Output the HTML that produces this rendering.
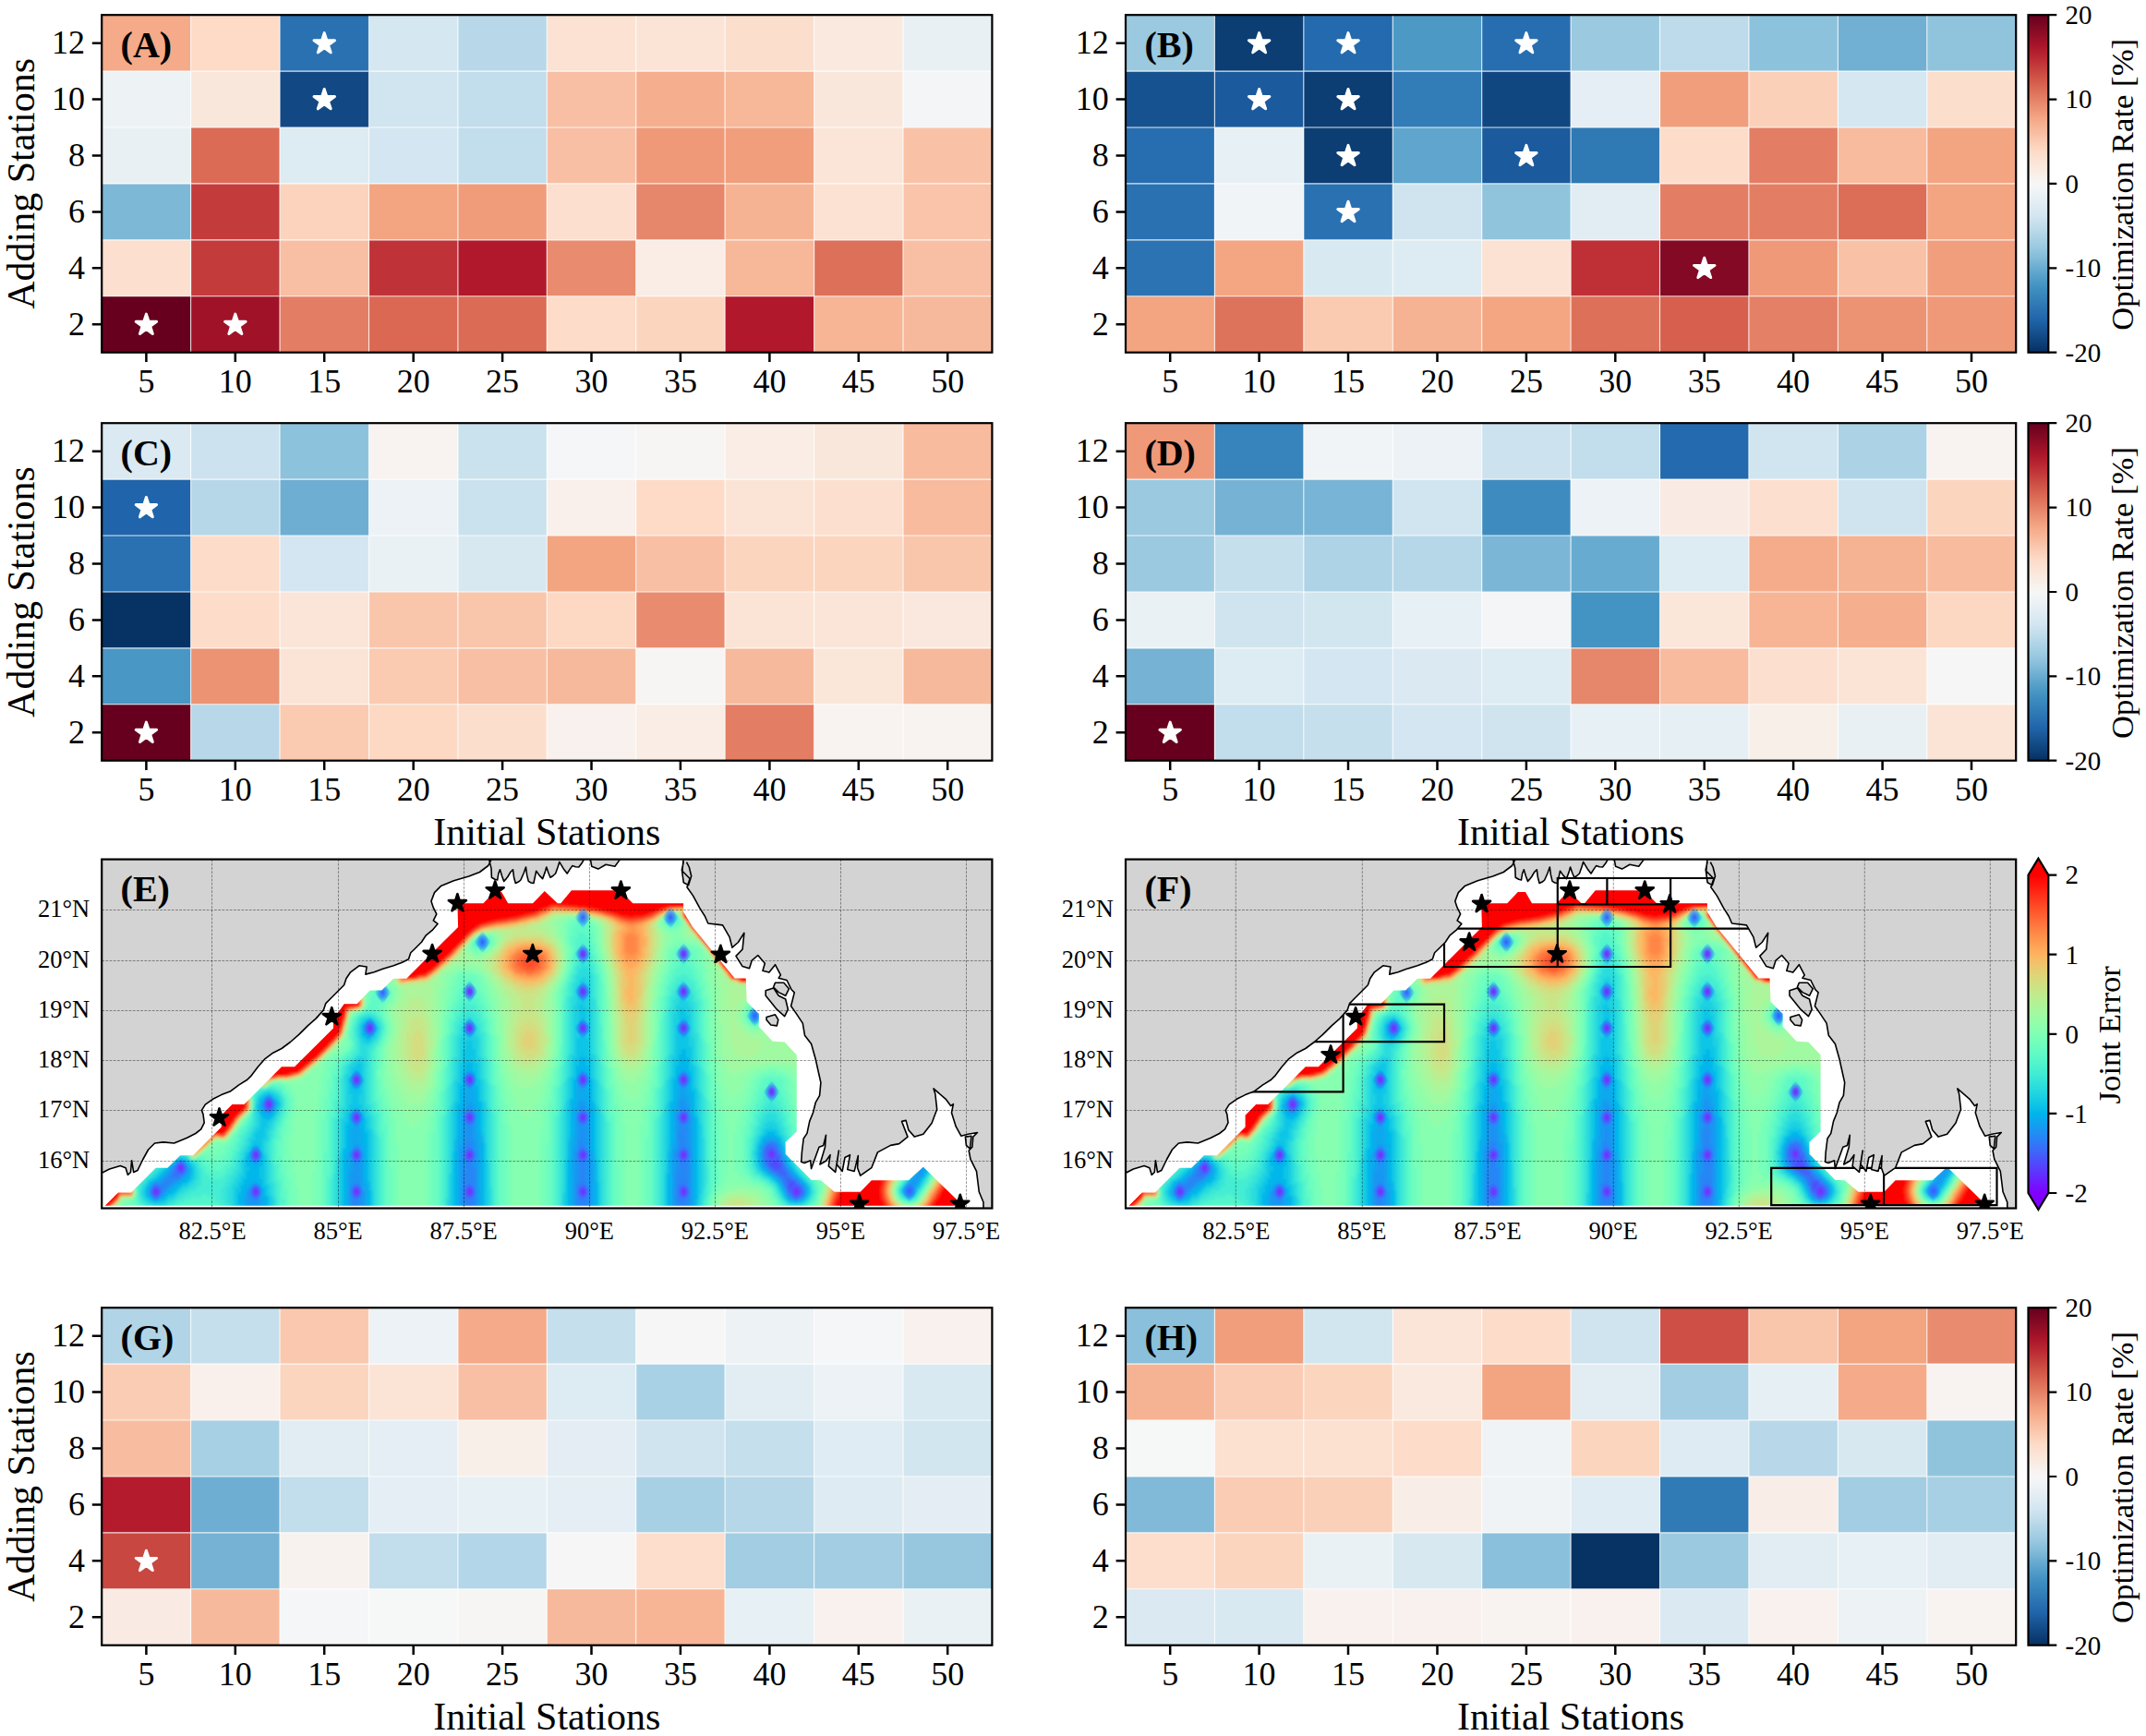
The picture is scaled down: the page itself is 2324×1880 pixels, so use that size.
<!DOCTYPE html><html><head><meta charset="utf-8"><title>Figure</title><style>html,body{margin:0;padding:0;background:#fff}svg{display:block}text{font-family:'Liberation Serif', 'DejaVu Serif', serif;fill:#000}</style></head><body>
<svg width="2324" height="1880" viewBox="0 0 2324 1880">
<rect width="2324" height="1880" fill="#fff"/>
<g shape-rendering="crispEdges">
<rect x="110.2" y="16.2" width="96.9" height="61.4" fill="#f5aa89"/>
<rect x="206.6" y="16.2" width="96.9" height="61.4" fill="#fddbc7"/>
<rect x="303" y="16.2" width="96.9" height="61.4" fill="#2a71b2"/>
<rect x="399.5" y="16.2" width="96.9" height="61.4" fill="#d5e7f1"/>
<rect x="495.9" y="16.2" width="96.9" height="61.4" fill="#b8d8e9"/>
<rect x="592.3" y="16.2" width="96.9" height="61.4" fill="#fce2d2"/>
<rect x="688.7" y="16.2" width="96.9" height="61.4" fill="#fbe4d6"/>
<rect x="785.1" y="16.2" width="96.9" height="61.4" fill="#fcdecd"/>
<rect x="881.6" y="16.2" width="96.9" height="61.4" fill="#fae9df"/>
<rect x="978" y="16.2" width="96.9" height="61.4" fill="#e9f0f4"/>
<rect x="110.2" y="77.1" width="96.9" height="61.4" fill="#edf2f5"/>
<rect x="206.6" y="77.1" width="96.9" height="61.4" fill="#fae7dc"/>
<rect x="303" y="77.1" width="96.9" height="61.4" fill="#124984"/>
<rect x="399.5" y="77.1" width="96.9" height="61.4" fill="#d1e5f0"/>
<rect x="495.9" y="77.1" width="96.9" height="61.4" fill="#c2ddec"/>
<rect x="592.3" y="77.1" width="96.9" height="61.4" fill="#f8bfa4"/>
<rect x="688.7" y="77.1" width="96.9" height="61.4" fill="#f6af8e"/>
<rect x="785.1" y="77.1" width="96.9" height="61.4" fill="#f7b799"/>
<rect x="881.6" y="77.1" width="96.9" height="61.4" fill="#fae7dc"/>
<rect x="978" y="77.1" width="96.9" height="61.4" fill="#f3f5f6"/>
<rect x="110.2" y="138" width="96.9" height="61.4" fill="#e9f0f4"/>
<rect x="206.6" y="138" width="96.9" height="61.4" fill="#db6b55"/>
<rect x="303" y="138" width="96.9" height="61.4" fill="#ddebf2"/>
<rect x="399.5" y="138" width="96.9" height="61.4" fill="#d4e6f1"/>
<rect x="495.9" y="138" width="96.9" height="61.4" fill="#c2ddec"/>
<rect x="592.3" y="138" width="96.9" height="61.4" fill="#f8bfa4"/>
<rect x="688.7" y="138" width="96.9" height="61.4" fill="#ef9979"/>
<rect x="785.1" y="138" width="96.9" height="61.4" fill="#f19e7d"/>
<rect x="881.6" y="138" width="96.9" height="61.4" fill="#fbe5d8"/>
<rect x="978" y="138" width="96.9" height="61.4" fill="#f9c2a7"/>
<rect x="110.2" y="198.9" width="96.9" height="61.4" fill="#7eb8d7"/>
<rect x="206.6" y="198.9" width="96.9" height="61.4" fill="#c43b3c"/>
<rect x="303" y="198.9" width="96.9" height="61.4" fill="#fcd3bc"/>
<rect x="399.5" y="198.9" width="96.9" height="61.4" fill="#f3a481"/>
<rect x="495.9" y="198.9" width="96.9" height="61.4" fill="#f09c7b"/>
<rect x="592.3" y="198.9" width="96.9" height="61.4" fill="#fcdfcf"/>
<rect x="688.7" y="198.9" width="96.9" height="61.4" fill="#e6866a"/>
<rect x="785.1" y="198.9" width="96.9" height="61.4" fill="#f6b394"/>
<rect x="881.6" y="198.9" width="96.9" height="61.4" fill="#fce2d2"/>
<rect x="978" y="198.9" width="96.9" height="61.4" fill="#f9c4a9"/>
<rect x="110.2" y="259.9" width="96.9" height="61.4" fill="#fcdfcf"/>
<rect x="206.6" y="259.9" width="96.9" height="61.4" fill="#c43b3c"/>
<rect x="303" y="259.9" width="96.9" height="61.4" fill="#f8bfa4"/>
<rect x="399.5" y="259.9" width="96.9" height="61.4" fill="#bf3338"/>
<rect x="495.9" y="259.9" width="96.9" height="61.4" fill="#b1182b"/>
<rect x="592.3" y="259.9" width="96.9" height="61.4" fill="#e98b6e"/>
<rect x="688.7" y="259.9" width="96.9" height="61.4" fill="#f9ede5"/>
<rect x="785.1" y="259.9" width="96.9" height="61.4" fill="#f7b799"/>
<rect x="881.6" y="259.9" width="96.9" height="61.4" fill="#dd7059"/>
<rect x="978" y="259.9" width="96.9" height="61.4" fill="#f8bfa4"/>
<rect x="110.2" y="320.8" width="96.9" height="61.4" fill="#67001f"/>
<rect x="206.6" y="320.8" width="96.9" height="61.4" fill="#9f1228"/>
<rect x="303" y="320.8" width="96.9" height="61.4" fill="#e37e64"/>
<rect x="399.5" y="320.8" width="96.9" height="61.4" fill="#da6853"/>
<rect x="495.9" y="320.8" width="96.9" height="61.4" fill="#db6b55"/>
<rect x="592.3" y="320.8" width="96.9" height="61.4" fill="#fddcc9"/>
<rect x="688.7" y="320.8" width="96.9" height="61.4" fill="#fcd5bf"/>
<rect x="785.1" y="320.8" width="96.9" height="61.4" fill="#b1182b"/>
<rect x="881.6" y="320.8" width="96.9" height="61.4" fill="#f7b596"/>
<rect x="978" y="320.8" width="96.9" height="61.4" fill="#f7b99c"/>
</g>
<path d="M206.6 16.2V381.7M303 16.2V381.7M399.5 16.2V381.7M495.9 16.2V381.7M592.3 16.2V381.7M688.7 16.2V381.7M785.1 16.2V381.7M881.6 16.2V381.7M978 16.2V381.7M110.2 77.1H1074.4M110.2 138H1074.4M110.2 198.9H1074.4M110.2 259.9H1074.4M110.2 320.8H1074.4" stroke="#fff" stroke-opacity="0.85" stroke-width="1.1" fill="none"/>
<path d="M351.2 35.6L353.9 43.7L362.5 43.7L355.5 48.8L358.2 56.9L351.2 51.9L344.3 56.9L347.0 48.8L340.0 43.7L348.6 43.7Z" fill="#fff" stroke="#fff" stroke-width="3" stroke-linejoin="round"/>
<path d="M351.2 96.5L353.9 104.6L362.5 104.6L355.5 109.7L358.2 117.8L351.2 112.8L344.3 117.8L347.0 109.7L340.0 104.6L348.6 104.6Z" fill="#fff" stroke="#fff" stroke-width="3" stroke-linejoin="round"/>
<path d="M158.4 340.1L161.1 348.3L169.6 348.3L162.7 353.3L165.3 361.5L158.4 356.4L151.5 361.5L154.1 353.3L147.2 348.3L155.8 348.3Z" fill="#fff" stroke="#fff" stroke-width="3" stroke-linejoin="round"/>
<path d="M254.8 340.1L257.5 348.3L266.1 348.3L259.1 353.3L261.8 361.5L254.8 356.4L247.9 361.5L250.5 353.3L243.6 348.3L252.2 348.3Z" fill="#fff" stroke="#fff" stroke-width="3" stroke-linejoin="round"/>
<rect x="110.2" y="16.2" width="964.2" height="365.5" fill="none" stroke="#000" stroke-width="2.2"/>
<text x="158.4" y="424.6" font-size="36" text-anchor="middle">5</text>
<text x="254.8" y="424.6" font-size="36" text-anchor="middle">10</text>
<text x="351.2" y="424.6" font-size="36" text-anchor="middle">15</text>
<text x="447.7" y="424.6" font-size="36" text-anchor="middle">20</text>
<text x="544.1" y="424.6" font-size="36" text-anchor="middle">25</text>
<text x="640.5" y="424.6" font-size="36" text-anchor="middle">30</text>
<text x="736.9" y="424.6" font-size="36" text-anchor="middle">35</text>
<text x="833.4" y="424.6" font-size="36" text-anchor="middle">40</text>
<text x="929.8" y="424.6" font-size="36" text-anchor="middle">45</text>
<text x="1026.2" y="424.6" font-size="36" text-anchor="middle">50</text>
<text x="92" y="58.3" font-size="36" text-anchor="end">12</text>
<text x="92" y="119.2" font-size="36" text-anchor="end">10</text>
<text x="92" y="180.1" font-size="36" text-anchor="end">8</text>
<text x="92" y="241" font-size="36" text-anchor="end">6</text>
<text x="92" y="301.9" font-size="36" text-anchor="end">4</text>
<text x="92" y="362.8" font-size="36" text-anchor="end">2</text>
<path d="M158.4 381.7v10.4M254.8 381.7v10.4M351.2 381.7v10.4M447.7 381.7v10.4M544.1 381.7v10.4M640.5 381.7v10.4M736.9 381.7v10.4M833.4 381.7v10.4M929.8 381.7v10.4M1026.2 381.7v10.4M110.2 46.7h-10.4M110.2 107.6h-10.4M110.2 168.5h-10.4M110.2 229.4h-10.4M110.2 290.3h-10.4M110.2 351.2h-10.4" stroke="#000" stroke-width="2.5" fill="none"/>
<text x="130.6" y="61.9" font-size="40" font-weight="bold">(A)</text>
<text transform="translate(36.9 198.9) rotate(-90)" font-size="42" text-anchor="middle">Adding Stations</text>
<g shape-rendering="crispEdges">
<rect x="110.2" y="458.2" width="96.9" height="61.4" fill="#dae9f2"/>
<rect x="206.6" y="458.2" width="96.9" height="61.4" fill="#cce2ef"/>
<rect x="303" y="458.2" width="96.9" height="61.4" fill="#8dc2dc"/>
<rect x="399.5" y="458.2" width="96.9" height="61.4" fill="#f8f3f0"/>
<rect x="495.9" y="458.2" width="96.9" height="61.4" fill="#cae1ee"/>
<rect x="592.3" y="458.2" width="96.9" height="61.4" fill="#f5f6f7"/>
<rect x="688.7" y="458.2" width="96.9" height="61.4" fill="#f7f5f4"/>
<rect x="785.1" y="458.2" width="96.9" height="61.4" fill="#f9ede5"/>
<rect x="881.6" y="458.2" width="96.9" height="61.4" fill="#fae7dc"/>
<rect x="978" y="458.2" width="96.9" height="61.4" fill="#f8bb9e"/>
<rect x="110.2" y="519.1" width="96.9" height="61.4" fill="#2065ab"/>
<rect x="206.6" y="519.1" width="96.9" height="61.4" fill="#b6d7e8"/>
<rect x="303" y="519.1" width="96.9" height="61.4" fill="#6eaed2"/>
<rect x="399.5" y="519.1" width="96.9" height="61.4" fill="#ecf2f5"/>
<rect x="495.9" y="519.1" width="96.9" height="61.4" fill="#cae1ee"/>
<rect x="592.3" y="519.1" width="96.9" height="61.4" fill="#f9f0eb"/>
<rect x="688.7" y="519.1" width="96.9" height="61.4" fill="#fddbc7"/>
<rect x="785.1" y="519.1" width="96.9" height="61.4" fill="#fbe4d6"/>
<rect x="881.6" y="519.1" width="96.9" height="61.4" fill="#fcdfcf"/>
<rect x="978" y="519.1" width="96.9" height="61.4" fill="#f8bb9e"/>
<rect x="110.2" y="580" width="96.9" height="61.4" fill="#2a71b2"/>
<rect x="206.6" y="580" width="96.9" height="61.4" fill="#fddcc9"/>
<rect x="303" y="580" width="96.9" height="61.4" fill="#d4e6f1"/>
<rect x="399.5" y="580" width="96.9" height="61.4" fill="#eaf1f5"/>
<rect x="495.9" y="580" width="96.9" height="61.4" fill="#d7e8f1"/>
<rect x="592.3" y="580" width="96.9" height="61.4" fill="#f3a481"/>
<rect x="688.7" y="580" width="96.9" height="61.4" fill="#f8bfa4"/>
<rect x="785.1" y="580" width="96.9" height="61.4" fill="#fcd5bf"/>
<rect x="881.6" y="580" width="96.9" height="61.4" fill="#fcd5bf"/>
<rect x="978" y="580" width="96.9" height="61.4" fill="#f9c6ac"/>
<rect x="110.2" y="641" width="96.9" height="61.4" fill="#063264"/>
<rect x="206.6" y="641" width="96.9" height="61.4" fill="#fddcc9"/>
<rect x="303" y="641" width="96.9" height="61.4" fill="#fbe5d8"/>
<rect x="399.5" y="641" width="96.9" height="61.4" fill="#f9c6ac"/>
<rect x="495.9" y="641" width="96.9" height="61.4" fill="#f9c6ac"/>
<rect x="592.3" y="641" width="96.9" height="61.4" fill="#fdd9c4"/>
<rect x="688.7" y="641" width="96.9" height="61.4" fill="#e98b6e"/>
<rect x="785.1" y="641" width="96.9" height="61.4" fill="#fbe4d6"/>
<rect x="881.6" y="641" width="96.9" height="61.4" fill="#fbe5d8"/>
<rect x="978" y="641" width="96.9" height="61.4" fill="#fae8de"/>
<rect x="110.2" y="701.9" width="96.9" height="61.4" fill="#4997c5"/>
<rect x="206.6" y="701.9" width="96.9" height="61.4" fill="#ec9374"/>
<rect x="303" y="701.9" width="96.9" height="61.4" fill="#fbe4d6"/>
<rect x="399.5" y="701.9" width="96.9" height="61.4" fill="#facab1"/>
<rect x="495.9" y="701.9" width="96.9" height="61.4" fill="#f8bfa4"/>
<rect x="592.3" y="701.9" width="96.9" height="61.4" fill="#f7b99c"/>
<rect x="688.7" y="701.9" width="96.9" height="61.4" fill="#f7f5f4"/>
<rect x="785.1" y="701.9" width="96.9" height="61.4" fill="#f7b99c"/>
<rect x="881.6" y="701.9" width="96.9" height="61.4" fill="#fbe6da"/>
<rect x="978" y="701.9" width="96.9" height="61.4" fill="#f7b99c"/>
<rect x="110.2" y="762.8" width="96.9" height="61.4" fill="#67001f"/>
<rect x="206.6" y="762.8" width="96.9" height="61.4" fill="#b8d8e9"/>
<rect x="303" y="762.8" width="96.9" height="61.4" fill="#facab1"/>
<rect x="399.5" y="762.8" width="96.9" height="61.4" fill="#fdd9c4"/>
<rect x="495.9" y="762.8" width="96.9" height="61.4" fill="#fcdecd"/>
<rect x="592.3" y="762.8" width="96.9" height="61.4" fill="#f8f1ed"/>
<rect x="688.7" y="762.8" width="96.9" height="61.4" fill="#f9ede5"/>
<rect x="785.1" y="762.8" width="96.9" height="61.4" fill="#e37e64"/>
<rect x="881.6" y="762.8" width="96.9" height="61.4" fill="#f8f3f0"/>
<rect x="978" y="762.8" width="96.9" height="61.4" fill="#f8f3f0"/>
</g>
<path d="M206.6 458.2V823.7M303 458.2V823.7M399.5 458.2V823.7M495.9 458.2V823.7M592.3 458.2V823.7M688.7 458.2V823.7M785.1 458.2V823.7M881.6 458.2V823.7M978 458.2V823.7M110.2 519.1H1074.4M110.2 580H1074.4M110.2 641H1074.4M110.2 701.9H1074.4M110.2 762.8H1074.4" stroke="#fff" stroke-opacity="0.85" stroke-width="1.1" fill="none"/>
<path d="M158.4 538.5L161.1 546.6L169.6 546.6L162.7 551.7L165.3 559.8L158.4 554.8L151.5 559.8L154.1 551.7L147.2 546.6L155.8 546.6Z" fill="#fff" stroke="#fff" stroke-width="3" stroke-linejoin="round"/>
<path d="M158.4 782.1L161.1 790.3L169.6 790.3L162.7 795.3L165.3 803.5L158.4 798.4L151.5 803.5L154.1 795.3L147.2 790.3L155.8 790.3Z" fill="#fff" stroke="#fff" stroke-width="3" stroke-linejoin="round"/>
<rect x="110.2" y="458.2" width="964.2" height="365.5" fill="none" stroke="#000" stroke-width="2.2"/>
<text x="158.4" y="866.6" font-size="36" text-anchor="middle">5</text>
<text x="254.8" y="866.6" font-size="36" text-anchor="middle">10</text>
<text x="351.2" y="866.6" font-size="36" text-anchor="middle">15</text>
<text x="447.7" y="866.6" font-size="36" text-anchor="middle">20</text>
<text x="544.1" y="866.6" font-size="36" text-anchor="middle">25</text>
<text x="640.5" y="866.6" font-size="36" text-anchor="middle">30</text>
<text x="736.9" y="866.6" font-size="36" text-anchor="middle">35</text>
<text x="833.4" y="866.6" font-size="36" text-anchor="middle">40</text>
<text x="929.8" y="866.6" font-size="36" text-anchor="middle">45</text>
<text x="1026.2" y="866.6" font-size="36" text-anchor="middle">50</text>
<text x="92" y="500.3" font-size="36" text-anchor="end">12</text>
<text x="92" y="561.2" font-size="36" text-anchor="end">10</text>
<text x="92" y="622.1" font-size="36" text-anchor="end">8</text>
<text x="92" y="683" font-size="36" text-anchor="end">6</text>
<text x="92" y="743.9" font-size="36" text-anchor="end">4</text>
<text x="92" y="804.8" font-size="36" text-anchor="end">2</text>
<path d="M158.4 823.7v10.4M254.8 823.7v10.4M351.2 823.7v10.4M447.7 823.7v10.4M544.1 823.7v10.4M640.5 823.7v10.4M736.9 823.7v10.4M833.4 823.7v10.4M929.8 823.7v10.4M1026.2 823.7v10.4M110.2 488.7h-10.4M110.2 549.6h-10.4M110.2 610.5h-10.4M110.2 671.4h-10.4M110.2 732.3h-10.4M110.2 793.2h-10.4" stroke="#000" stroke-width="2.5" fill="none"/>
<text x="130.6" y="503.9" font-size="40" font-weight="bold">(C)</text>
<text x="592.3" y="914.7" font-size="42" text-anchor="middle">Initial Stations</text>
<text transform="translate(36.9 641) rotate(-90)" font-size="42" text-anchor="middle">Adding Stations</text>
<g shape-rendering="crispEdges">
<rect x="110.2" y="1416.2" width="96.9" height="61.4" fill="#b1d5e7"/>
<rect x="206.6" y="1416.2" width="96.9" height="61.4" fill="#c5dfec"/>
<rect x="303" y="1416.2" width="96.9" height="61.4" fill="#fac8af"/>
<rect x="399.5" y="1416.2" width="96.9" height="61.4" fill="#ecf2f5"/>
<rect x="495.9" y="1416.2" width="96.9" height="61.4" fill="#f5aa89"/>
<rect x="592.3" y="1416.2" width="96.9" height="61.4" fill="#c5dfec"/>
<rect x="688.7" y="1416.2" width="96.9" height="61.4" fill="#f7f6f6"/>
<rect x="785.1" y="1416.2" width="96.9" height="61.4" fill="#edf2f5"/>
<rect x="881.6" y="1416.2" width="96.9" height="61.4" fill="#f5f6f7"/>
<rect x="978" y="1416.2" width="96.9" height="61.4" fill="#f8f1ed"/>
<rect x="110.2" y="1477.1" width="96.9" height="61.4" fill="#fbccb4"/>
<rect x="206.6" y="1477.1" width="96.9" height="61.4" fill="#f9f0eb"/>
<rect x="303" y="1477.1" width="96.9" height="61.4" fill="#fcd5bf"/>
<rect x="399.5" y="1477.1" width="96.9" height="61.4" fill="#fbe4d6"/>
<rect x="495.9" y="1477.1" width="96.9" height="61.4" fill="#f8bfa4"/>
<rect x="592.3" y="1477.1" width="96.9" height="61.4" fill="#ddebf2"/>
<rect x="688.7" y="1477.1" width="96.9" height="61.4" fill="#a9d1e5"/>
<rect x="785.1" y="1477.1" width="96.9" height="61.4" fill="#e1edf3"/>
<rect x="881.6" y="1477.1" width="96.9" height="61.4" fill="#ecf2f5"/>
<rect x="978" y="1477.1" width="96.9" height="61.4" fill="#d8e9f1"/>
<rect x="110.2" y="1538" width="96.9" height="61.4" fill="#f8bda1"/>
<rect x="206.6" y="1538" width="96.9" height="61.4" fill="#a7d0e4"/>
<rect x="303" y="1538" width="96.9" height="61.4" fill="#e1edf3"/>
<rect x="399.5" y="1538" width="96.9" height="61.4" fill="#e4eef4"/>
<rect x="495.9" y="1538" width="96.9" height="61.4" fill="#f9efe9"/>
<rect x="592.3" y="1538" width="96.9" height="61.4" fill="#e3edf3"/>
<rect x="688.7" y="1538" width="96.9" height="61.4" fill="#cfe4ef"/>
<rect x="785.1" y="1538" width="96.9" height="61.4" fill="#c5dfec"/>
<rect x="881.6" y="1538" width="96.9" height="61.4" fill="#e0ecf3"/>
<rect x="978" y="1538" width="96.9" height="61.4" fill="#d2e6f0"/>
<rect x="110.2" y="1599" width="96.9" height="61.4" fill="#b41c2d"/>
<rect x="206.6" y="1599" width="96.9" height="61.4" fill="#6eaed2"/>
<rect x="303" y="1599" width="96.9" height="61.4" fill="#c2ddec"/>
<rect x="399.5" y="1599" width="96.9" height="61.4" fill="#e4eef4"/>
<rect x="495.9" y="1599" width="96.9" height="61.4" fill="#e7f0f4"/>
<rect x="592.3" y="1599" width="96.9" height="61.4" fill="#e4eef4"/>
<rect x="688.7" y="1599" width="96.9" height="61.4" fill="#a7d0e4"/>
<rect x="785.1" y="1599" width="96.9" height="61.4" fill="#b6d7e8"/>
<rect x="881.6" y="1599" width="96.9" height="61.4" fill="#deebf2"/>
<rect x="978" y="1599" width="96.9" height="61.4" fill="#e3edf3"/>
<rect x="110.2" y="1659.9" width="96.9" height="61.4" fill="#c94741"/>
<rect x="206.6" y="1659.9" width="96.9" height="61.4" fill="#75b2d4"/>
<rect x="303" y="1659.9" width="96.9" height="61.4" fill="#f8f2ef"/>
<rect x="399.5" y="1659.9" width="96.9" height="61.4" fill="#c2ddec"/>
<rect x="495.9" y="1659.9" width="96.9" height="61.4" fill="#b3d6e8"/>
<rect x="592.3" y="1659.9" width="96.9" height="61.4" fill="#f7f6f6"/>
<rect x="688.7" y="1659.9" width="96.9" height="61.4" fill="#fdddcb"/>
<rect x="785.1" y="1659.9" width="96.9" height="61.4" fill="#a2cde3"/>
<rect x="881.6" y="1659.9" width="96.9" height="61.4" fill="#a2cde3"/>
<rect x="978" y="1659.9" width="96.9" height="61.4" fill="#96c7df"/>
<rect x="110.2" y="1720.8" width="96.9" height="61.4" fill="#f9ebe3"/>
<rect x="206.6" y="1720.8" width="96.9" height="61.4" fill="#f7b99c"/>
<rect x="303" y="1720.8" width="96.9" height="61.4" fill="#f5f6f7"/>
<rect x="399.5" y="1720.8" width="96.9" height="61.4" fill="#f6f7f7"/>
<rect x="495.9" y="1720.8" width="96.9" height="61.4" fill="#f7f5f4"/>
<rect x="592.3" y="1720.8" width="96.9" height="61.4" fill="#f7b99c"/>
<rect x="688.7" y="1720.8" width="96.9" height="61.4" fill="#f7b596"/>
<rect x="785.1" y="1720.8" width="96.9" height="61.4" fill="#e7f0f4"/>
<rect x="881.6" y="1720.8" width="96.9" height="61.4" fill="#f8f1ed"/>
<rect x="978" y="1720.8" width="96.9" height="61.4" fill="#eaf1f5"/>
</g>
<path d="M206.6 1416.2V1781.7M303 1416.2V1781.7M399.5 1416.2V1781.7M495.9 1416.2V1781.7M592.3 1416.2V1781.7M688.7 1416.2V1781.7M785.1 1416.2V1781.7M881.6 1416.2V1781.7M978 1416.2V1781.7M110.2 1477.1H1074.4M110.2 1538H1074.4M110.2 1599H1074.4M110.2 1659.9H1074.4M110.2 1720.8H1074.4" stroke="#fff" stroke-opacity="0.85" stroke-width="1.1" fill="none"/>
<path d="M158.4 1679.2L161.1 1687.4L169.6 1687.4L162.7 1692.4L165.3 1700.6L158.4 1695.5L151.5 1700.6L154.1 1692.4L147.2 1687.4L155.8 1687.4Z" fill="#fff" stroke="#fff" stroke-width="3" stroke-linejoin="round"/>
<rect x="110.2" y="1416.2" width="964.2" height="365.5" fill="none" stroke="#000" stroke-width="2.2"/>
<text x="158.4" y="1824.6" font-size="36" text-anchor="middle">5</text>
<text x="254.8" y="1824.6" font-size="36" text-anchor="middle">10</text>
<text x="351.2" y="1824.6" font-size="36" text-anchor="middle">15</text>
<text x="447.7" y="1824.6" font-size="36" text-anchor="middle">20</text>
<text x="544.1" y="1824.6" font-size="36" text-anchor="middle">25</text>
<text x="640.5" y="1824.6" font-size="36" text-anchor="middle">30</text>
<text x="736.9" y="1824.6" font-size="36" text-anchor="middle">35</text>
<text x="833.4" y="1824.6" font-size="36" text-anchor="middle">40</text>
<text x="929.8" y="1824.6" font-size="36" text-anchor="middle">45</text>
<text x="1026.2" y="1824.6" font-size="36" text-anchor="middle">50</text>
<text x="92" y="1458.3" font-size="36" text-anchor="end">12</text>
<text x="92" y="1519.2" font-size="36" text-anchor="end">10</text>
<text x="92" y="1580.1" font-size="36" text-anchor="end">8</text>
<text x="92" y="1641" font-size="36" text-anchor="end">6</text>
<text x="92" y="1701.9" font-size="36" text-anchor="end">4</text>
<text x="92" y="1762.8" font-size="36" text-anchor="end">2</text>
<path d="M158.4 1781.7v10.4M254.8 1781.7v10.4M351.2 1781.7v10.4M447.7 1781.7v10.4M544.1 1781.7v10.4M640.5 1781.7v10.4M736.9 1781.7v10.4M833.4 1781.7v10.4M929.8 1781.7v10.4M1026.2 1781.7v10.4M110.2 1446.7h-10.4M110.2 1507.6h-10.4M110.2 1568.5h-10.4M110.2 1629.4h-10.4M110.2 1690.3h-10.4M110.2 1751.2h-10.4" stroke="#000" stroke-width="2.5" fill="none"/>
<text x="130.6" y="1461.9" font-size="40" font-weight="bold">(G)</text>
<text x="592.3" y="1872.7" font-size="42" text-anchor="middle">Initial Stations</text>
<text transform="translate(36.9 1599) rotate(-90)" font-size="42" text-anchor="middle">Adding Stations</text>
<g shape-rendering="crispEdges">
<rect x="1219" y="16.2" width="96.9" height="61.4" fill="#9bc9e0"/>
<rect x="1315.4" y="16.2" width="96.9" height="61.4" fill="#0c3d73"/>
<rect x="1411.8" y="16.2" width="96.9" height="61.4" fill="#246aae"/>
<rect x="1508.3" y="16.2" width="96.9" height="61.4" fill="#4c99c6"/>
<rect x="1604.7" y="16.2" width="96.9" height="61.4" fill="#276eb0"/>
<rect x="1701.1" y="16.2" width="96.9" height="61.4" fill="#9bc9e0"/>
<rect x="1797.5" y="16.2" width="96.9" height="61.4" fill="#bddbea"/>
<rect x="1893.9" y="16.2" width="96.9" height="61.4" fill="#8dc2dc"/>
<rect x="1990.4" y="16.2" width="96.9" height="61.4" fill="#71b0d3"/>
<rect x="2086.8" y="16.2" width="96.9" height="61.4" fill="#90c4dd"/>
<rect x="1219" y="77.1" width="96.9" height="61.4" fill="#175290"/>
<rect x="1315.4" y="77.1" width="96.9" height="61.4" fill="#1b5a9c"/>
<rect x="1411.8" y="77.1" width="96.9" height="61.4" fill="#0c3d73"/>
<rect x="1508.3" y="77.1" width="96.9" height="61.4" fill="#327cb7"/>
<rect x="1604.7" y="77.1" width="96.9" height="61.4" fill="#114781"/>
<rect x="1701.1" y="77.1" width="96.9" height="61.4" fill="#e4eef4"/>
<rect x="1797.5" y="77.1" width="96.9" height="61.4" fill="#f19e7d"/>
<rect x="1893.9" y="77.1" width="96.9" height="61.4" fill="#fbd0b9"/>
<rect x="1990.4" y="77.1" width="96.9" height="61.4" fill="#d5e7f1"/>
<rect x="2086.8" y="77.1" width="96.9" height="61.4" fill="#fcdecd"/>
<rect x="1219" y="138" width="96.9" height="61.4" fill="#276eb0"/>
<rect x="1315.4" y="138" width="96.9" height="61.4" fill="#e7f0f4"/>
<rect x="1411.8" y="138" width="96.9" height="61.4" fill="#0c3d73"/>
<rect x="1508.3" y="138" width="96.9" height="61.4" fill="#5fa5cd"/>
<rect x="1604.7" y="138" width="96.9" height="61.4" fill="#1b5a9c"/>
<rect x="1701.1" y="138" width="96.9" height="61.4" fill="#2f79b5"/>
<rect x="1797.5" y="138" width="96.9" height="61.4" fill="#fddcc9"/>
<rect x="1893.9" y="138" width="96.9" height="61.4" fill="#e37e64"/>
<rect x="1990.4" y="138" width="96.9" height="61.4" fill="#f8bb9e"/>
<rect x="2086.8" y="138" width="96.9" height="61.4" fill="#f3a481"/>
<rect x="1219" y="198.9" width="96.9" height="61.4" fill="#2a71b2"/>
<rect x="1315.4" y="198.9" width="96.9" height="61.4" fill="#f0f4f6"/>
<rect x="1411.8" y="198.9" width="96.9" height="61.4" fill="#2a71b2"/>
<rect x="1508.3" y="198.9" width="96.9" height="61.4" fill="#cfe4ef"/>
<rect x="1604.7" y="198.9" width="96.9" height="61.4" fill="#90c4dd"/>
<rect x="1701.1" y="198.9" width="96.9" height="61.4" fill="#e1edf3"/>
<rect x="1797.5" y="198.9" width="96.9" height="61.4" fill="#e37e64"/>
<rect x="1893.9" y="198.9" width="96.9" height="61.4" fill="#e37e64"/>
<rect x="1990.4" y="198.9" width="96.9" height="61.4" fill="#dc6e57"/>
<rect x="2086.8" y="198.9" width="96.9" height="61.4" fill="#f3a481"/>
<rect x="1219" y="259.9" width="96.9" height="61.4" fill="#2b73b3"/>
<rect x="1315.4" y="259.9" width="96.9" height="61.4" fill="#f4a683"/>
<rect x="1411.8" y="259.9" width="96.9" height="61.4" fill="#d8e9f1"/>
<rect x="1508.3" y="259.9" width="96.9" height="61.4" fill="#ddebf2"/>
<rect x="1604.7" y="259.9" width="96.9" height="61.4" fill="#fce2d2"/>
<rect x="1701.1" y="259.9" width="96.9" height="61.4" fill="#be3036"/>
<rect x="1797.5" y="259.9" width="96.9" height="61.4" fill="#840924"/>
<rect x="1893.9" y="259.9" width="96.9" height="61.4" fill="#ef9979"/>
<rect x="1990.4" y="259.9" width="96.9" height="61.4" fill="#f9c2a7"/>
<rect x="2086.8" y="259.9" width="96.9" height="61.4" fill="#f19e7d"/>
<rect x="1219" y="320.8" width="96.9" height="61.4" fill="#f3a481"/>
<rect x="1315.4" y="320.8" width="96.9" height="61.4" fill="#de735c"/>
<rect x="1411.8" y="320.8" width="96.9" height="61.4" fill="#facab1"/>
<rect x="1508.3" y="320.8" width="96.9" height="61.4" fill="#f6b394"/>
<rect x="1604.7" y="320.8" width="96.9" height="61.4" fill="#f4a683"/>
<rect x="1701.1" y="320.8" width="96.9" height="61.4" fill="#dd7059"/>
<rect x="1797.5" y="320.8" width="96.9" height="61.4" fill="#d6604d"/>
<rect x="1893.9" y="320.8" width="96.9" height="61.4" fill="#e48066"/>
<rect x="1990.4" y="320.8" width="96.9" height="61.4" fill="#ec9374"/>
<rect x="2086.8" y="320.8" width="96.9" height="61.4" fill="#ef9979"/>
</g>
<path d="M1315.4 16.2V381.7M1411.8 16.2V381.7M1508.3 16.2V381.7M1604.7 16.2V381.7M1701.1 16.2V381.7M1797.5 16.2V381.7M1893.9 16.2V381.7M1990.4 16.2V381.7M2086.8 16.2V381.7M1219 77.1H2183.2M1219 138H2183.2M1219 198.9H2183.2M1219 259.9H2183.2M1219 320.8H2183.2" stroke="#fff" stroke-opacity="0.85" stroke-width="1.1" fill="none"/>
<path d="M1363.6 35.6L1366.3 43.7L1374.9 43.7L1367.9 48.8L1370.6 56.9L1363.6 51.9L1356.7 56.9L1359.3 48.8L1352.4 43.7L1361.0 43.7Z" fill="#fff" stroke="#fff" stroke-width="3" stroke-linejoin="round"/>
<path d="M1460.0 35.6L1462.7 43.7L1471.3 43.7L1464.3 48.8L1467.0 56.9L1460.0 51.9L1453.1 56.9L1455.8 48.8L1448.8 43.7L1457.4 43.7Z" fill="#fff" stroke="#fff" stroke-width="3" stroke-linejoin="round"/>
<path d="M1652.9 35.6L1655.5 43.7L1664.1 43.7L1657.2 48.8L1659.8 56.9L1652.9 51.9L1646.0 56.9L1648.6 48.8L1641.7 43.7L1650.2 43.7Z" fill="#fff" stroke="#fff" stroke-width="3" stroke-linejoin="round"/>
<path d="M1363.6 96.5L1366.3 104.6L1374.9 104.6L1367.9 109.7L1370.6 117.8L1363.6 112.8L1356.7 117.8L1359.3 109.7L1352.4 104.6L1361.0 104.6Z" fill="#fff" stroke="#fff" stroke-width="3" stroke-linejoin="round"/>
<path d="M1460.0 96.5L1462.7 104.6L1471.3 104.6L1464.3 109.7L1467.0 117.8L1460.0 112.8L1453.1 117.8L1455.8 109.7L1448.8 104.6L1457.4 104.6Z" fill="#fff" stroke="#fff" stroke-width="3" stroke-linejoin="round"/>
<path d="M1460.0 157.4L1462.7 165.5L1471.3 165.5L1464.3 170.6L1467.0 178.7L1460.0 173.7L1453.1 178.7L1455.8 170.6L1448.8 165.5L1457.4 165.5Z" fill="#fff" stroke="#fff" stroke-width="3" stroke-linejoin="round"/>
<path d="M1652.9 157.4L1655.5 165.5L1664.1 165.5L1657.2 170.6L1659.8 178.7L1652.9 173.7L1646.0 178.7L1648.6 170.6L1641.7 165.5L1650.2 165.5Z" fill="#fff" stroke="#fff" stroke-width="3" stroke-linejoin="round"/>
<path d="M1460.0 218.3L1462.7 226.5L1471.3 226.5L1464.3 231.5L1467.0 239.7L1460.0 234.6L1453.1 239.7L1455.8 231.5L1448.8 226.5L1457.4 226.5Z" fill="#fff" stroke="#fff" stroke-width="3" stroke-linejoin="round"/>
<path d="M1845.7 279.2L1848.4 287.4L1857.0 287.4L1850.0 292.4L1852.7 300.6L1845.7 295.5L1838.8 300.6L1841.4 292.4L1834.5 287.4L1843.1 287.4Z" fill="#fff" stroke="#fff" stroke-width="3" stroke-linejoin="round"/>
<rect x="1219" y="16.2" width="964.2" height="365.5" fill="none" stroke="#000" stroke-width="2.2"/>
<text x="1267.2" y="424.6" font-size="36" text-anchor="middle">5</text>
<text x="1363.6" y="424.6" font-size="36" text-anchor="middle">10</text>
<text x="1460" y="424.6" font-size="36" text-anchor="middle">15</text>
<text x="1556.5" y="424.6" font-size="36" text-anchor="middle">20</text>
<text x="1652.9" y="424.6" font-size="36" text-anchor="middle">25</text>
<text x="1749.3" y="424.6" font-size="36" text-anchor="middle">30</text>
<text x="1845.7" y="424.6" font-size="36" text-anchor="middle">35</text>
<text x="1942.1" y="424.6" font-size="36" text-anchor="middle">40</text>
<text x="2038.6" y="424.6" font-size="36" text-anchor="middle">45</text>
<text x="2135" y="424.6" font-size="36" text-anchor="middle">50</text>
<text x="1200.8" y="58.3" font-size="36" text-anchor="end">12</text>
<text x="1200.8" y="119.2" font-size="36" text-anchor="end">10</text>
<text x="1200.8" y="180.1" font-size="36" text-anchor="end">8</text>
<text x="1200.8" y="241" font-size="36" text-anchor="end">6</text>
<text x="1200.8" y="301.9" font-size="36" text-anchor="end">4</text>
<text x="1200.8" y="362.8" font-size="36" text-anchor="end">2</text>
<path d="M1267.2 381.7v10.4M1363.6 381.7v10.4M1460 381.7v10.4M1556.5 381.7v10.4M1652.9 381.7v10.4M1749.3 381.7v10.4M1845.7 381.7v10.4M1942.1 381.7v10.4M2038.6 381.7v10.4M2135 381.7v10.4M1219 46.7h-10.4M1219 107.6h-10.4M1219 168.5h-10.4M1219 229.4h-10.4M1219 290.3h-10.4M1219 351.2h-10.4" stroke="#000" stroke-width="2.5" fill="none"/>
<text x="1239.4" y="61.9" font-size="40" font-weight="bold">(B)</text>
<linearGradient id="cbB" x1="0" y1="0" x2="0" y2="1"><stop offset="0.0000" stop-color="#67001f"/><stop offset="0.0312" stop-color="#7c0722"/><stop offset="0.0625" stop-color="#930e26"/><stop offset="0.0938" stop-color="#ab162a"/><stop offset="0.1250" stop-color="#ba2832"/><stop offset="0.1562" stop-color="#c53e3d"/><stop offset="0.1875" stop-color="#d05548"/><stop offset="0.2188" stop-color="#db6b55"/><stop offset="0.2500" stop-color="#e48066"/><stop offset="0.2812" stop-color="#ee9677"/><stop offset="0.3125" stop-color="#f5aa89"/><stop offset="0.3438" stop-color="#f8bb9e"/><stop offset="0.3750" stop-color="#fbccb4"/><stop offset="0.4062" stop-color="#fddcc9"/><stop offset="0.4375" stop-color="#fbe5d8"/><stop offset="0.4688" stop-color="#f9eee7"/><stop offset="0.5000" stop-color="#f7f6f6"/><stop offset="0.5312" stop-color="#ecf2f5"/><stop offset="0.5625" stop-color="#e0ecf3"/><stop offset="0.5938" stop-color="#d4e6f1"/><stop offset="0.6250" stop-color="#c2ddec"/><stop offset="0.6562" stop-color="#aed3e6"/><stop offset="0.6875" stop-color="#9bc9e0"/><stop offset="0.7188" stop-color="#84bcd9"/><stop offset="0.7500" stop-color="#6bacd1"/><stop offset="0.7812" stop-color="#529dc8"/><stop offset="0.8125" stop-color="#3f8ec0"/><stop offset="0.8438" stop-color="#3480b9"/><stop offset="0.8750" stop-color="#2a71b2"/><stop offset="0.9062" stop-color="#1f63a8"/><stop offset="0.9375" stop-color="#175290"/><stop offset="0.9688" stop-color="#0e4179"/><stop offset="1.0000" stop-color="#053061"/></linearGradient>
<rect x="2196.5" y="16.2" width="21.8" height="365.5" fill="url(#cbB)" stroke="#000" stroke-width="2.2"/>
<text x="2236.6" y="26" font-size="29">20</text>
<text x="2236.6" y="117.4" font-size="29">10</text>
<text x="2236.6" y="208.8" font-size="29">0</text>
<text x="2236.6" y="300.1" font-size="29">-10</text>
<text x="2236.6" y="391.5" font-size="29">-20</text>
<path d="M2218.3 16.2h9M2218.3 107.6h9M2218.3 198.9h9M2218.3 290.3h9M2218.3 381.7h9" stroke="#000" stroke-width="2.2" fill="none"/>
<text transform="translate(2310.3 199.9) rotate(-90)" font-size="34.7" text-anchor="middle">Optimization Rate [%]</text>
<g shape-rendering="crispEdges">
<rect x="1219" y="458.2" width="96.9" height="61.4" fill="#ef9979"/>
<rect x="1315.4" y="458.2" width="96.9" height="61.4" fill="#3783bb"/>
<rect x="1411.8" y="458.2" width="96.9" height="61.4" fill="#f0f4f6"/>
<rect x="1508.3" y="458.2" width="96.9" height="61.4" fill="#ecf2f5"/>
<rect x="1604.7" y="458.2" width="96.9" height="61.4" fill="#cce2ef"/>
<rect x="1701.1" y="458.2" width="96.9" height="61.4" fill="#c2ddec"/>
<rect x="1797.5" y="458.2" width="96.9" height="61.4" fill="#246aae"/>
<rect x="1893.9" y="458.2" width="96.9" height="61.4" fill="#d1e5f0"/>
<rect x="1990.4" y="458.2" width="96.9" height="61.4" fill="#acd2e5"/>
<rect x="2086.8" y="458.2" width="96.9" height="61.4" fill="#f8f3f0"/>
<rect x="1219" y="519.1" width="96.9" height="61.4" fill="#9bc9e0"/>
<rect x="1315.4" y="519.1" width="96.9" height="61.4" fill="#75b2d4"/>
<rect x="1411.8" y="519.1" width="96.9" height="61.4" fill="#78b4d5"/>
<rect x="1508.3" y="519.1" width="96.9" height="61.4" fill="#d1e5f0"/>
<rect x="1604.7" y="519.1" width="96.9" height="61.4" fill="#3e8cbf"/>
<rect x="1701.1" y="519.1" width="96.9" height="61.4" fill="#ecf2f5"/>
<rect x="1797.5" y="519.1" width="96.9" height="61.4" fill="#f9ebe3"/>
<rect x="1893.9" y="519.1" width="96.9" height="61.4" fill="#fcdfcf"/>
<rect x="1990.4" y="519.1" width="96.9" height="61.4" fill="#cfe4ef"/>
<rect x="2086.8" y="519.1" width="96.9" height="61.4" fill="#fcd5bf"/>
<rect x="1219" y="580" width="96.9" height="61.4" fill="#9bc9e0"/>
<rect x="1315.4" y="580" width="96.9" height="61.4" fill="#c5dfec"/>
<rect x="1411.8" y="580" width="96.9" height="61.4" fill="#aed3e6"/>
<rect x="1508.3" y="580" width="96.9" height="61.4" fill="#b6d7e8"/>
<rect x="1604.7" y="580" width="96.9" height="61.4" fill="#7bb6d6"/>
<rect x="1701.1" y="580" width="96.9" height="61.4" fill="#68abd0"/>
<rect x="1797.5" y="580" width="96.9" height="61.4" fill="#ddebf2"/>
<rect x="1893.9" y="580" width="96.9" height="61.4" fill="#f5ac8b"/>
<rect x="1990.4" y="580" width="96.9" height="61.4" fill="#f6b394"/>
<rect x="2086.8" y="580" width="96.9" height="61.4" fill="#f8bb9e"/>
<rect x="1219" y="641" width="96.9" height="61.4" fill="#eaf1f5"/>
<rect x="1315.4" y="641" width="96.9" height="61.4" fill="#cfe4ef"/>
<rect x="1411.8" y="641" width="96.9" height="61.4" fill="#d2e6f0"/>
<rect x="1508.3" y="641" width="96.9" height="61.4" fill="#e7f0f4"/>
<rect x="1604.7" y="641" width="96.9" height="61.4" fill="#f3f5f6"/>
<rect x="1701.1" y="641" width="96.9" height="61.4" fill="#4393c3"/>
<rect x="1797.5" y="641" width="96.9" height="61.4" fill="#fbe6da"/>
<rect x="1893.9" y="641" width="96.9" height="61.4" fill="#f7b596"/>
<rect x="1990.4" y="641" width="96.9" height="61.4" fill="#f6af8e"/>
<rect x="2086.8" y="641" width="96.9" height="61.4" fill="#fcd7c2"/>
<rect x="1219" y="701.9" width="96.9" height="61.4" fill="#75b2d4"/>
<rect x="1315.4" y="701.9" width="96.9" height="61.4" fill="#ddebf2"/>
<rect x="1411.8" y="701.9" width="96.9" height="61.4" fill="#d4e6f1"/>
<rect x="1508.3" y="701.9" width="96.9" height="61.4" fill="#dae9f2"/>
<rect x="1604.7" y="701.9" width="96.9" height="61.4" fill="#ddebf2"/>
<rect x="1701.1" y="701.9" width="96.9" height="61.4" fill="#e6866a"/>
<rect x="1797.5" y="701.9" width="96.9" height="61.4" fill="#f8bb9e"/>
<rect x="1893.9" y="701.9" width="96.9" height="61.4" fill="#fcdfcf"/>
<rect x="1990.4" y="701.9" width="96.9" height="61.4" fill="#fbe4d6"/>
<rect x="2086.8" y="701.9" width="96.9" height="61.4" fill="#f7f6f6"/>
<rect x="1219" y="762.8" width="96.9" height="61.4" fill="#67001f"/>
<rect x="1315.4" y="762.8" width="96.9" height="61.4" fill="#c2ddec"/>
<rect x="1411.8" y="762.8" width="96.9" height="61.4" fill="#c5dfec"/>
<rect x="1508.3" y="762.8" width="96.9" height="61.4" fill="#d4e6f1"/>
<rect x="1604.7" y="762.8" width="96.9" height="61.4" fill="#cfe4ef"/>
<rect x="1701.1" y="762.8" width="96.9" height="61.4" fill="#e7f0f4"/>
<rect x="1797.5" y="762.8" width="96.9" height="61.4" fill="#e6eff4"/>
<rect x="1893.9" y="762.8" width="96.9" height="61.4" fill="#f9efe9"/>
<rect x="1990.4" y="762.8" width="96.9" height="61.4" fill="#e9f0f4"/>
<rect x="2086.8" y="762.8" width="96.9" height="61.4" fill="#fbe4d6"/>
</g>
<path d="M1315.4 458.2V823.7M1411.8 458.2V823.7M1508.3 458.2V823.7M1604.7 458.2V823.7M1701.1 458.2V823.7M1797.5 458.2V823.7M1893.9 458.2V823.7M1990.4 458.2V823.7M2086.8 458.2V823.7M1219 519.1H2183.2M1219 580H2183.2M1219 641H2183.2M1219 701.9H2183.2M1219 762.8H2183.2" stroke="#fff" stroke-opacity="0.85" stroke-width="1.1" fill="none"/>
<path d="M1267.2 782.1L1269.9 790.3L1278.4 790.3L1271.5 795.3L1274.1 803.5L1267.2 798.4L1260.3 803.5L1262.9 795.3L1256.0 790.3L1264.6 790.3Z" fill="#fff" stroke="#fff" stroke-width="3" stroke-linejoin="round"/>
<rect x="1219" y="458.2" width="964.2" height="365.5" fill="none" stroke="#000" stroke-width="2.2"/>
<text x="1267.2" y="866.6" font-size="36" text-anchor="middle">5</text>
<text x="1363.6" y="866.6" font-size="36" text-anchor="middle">10</text>
<text x="1460" y="866.6" font-size="36" text-anchor="middle">15</text>
<text x="1556.5" y="866.6" font-size="36" text-anchor="middle">20</text>
<text x="1652.9" y="866.6" font-size="36" text-anchor="middle">25</text>
<text x="1749.3" y="866.6" font-size="36" text-anchor="middle">30</text>
<text x="1845.7" y="866.6" font-size="36" text-anchor="middle">35</text>
<text x="1942.1" y="866.6" font-size="36" text-anchor="middle">40</text>
<text x="2038.6" y="866.6" font-size="36" text-anchor="middle">45</text>
<text x="2135" y="866.6" font-size="36" text-anchor="middle">50</text>
<text x="1200.8" y="500.3" font-size="36" text-anchor="end">12</text>
<text x="1200.8" y="561.2" font-size="36" text-anchor="end">10</text>
<text x="1200.8" y="622.1" font-size="36" text-anchor="end">8</text>
<text x="1200.8" y="683" font-size="36" text-anchor="end">6</text>
<text x="1200.8" y="743.9" font-size="36" text-anchor="end">4</text>
<text x="1200.8" y="804.8" font-size="36" text-anchor="end">2</text>
<path d="M1267.2 823.7v10.4M1363.6 823.7v10.4M1460 823.7v10.4M1556.5 823.7v10.4M1652.9 823.7v10.4M1749.3 823.7v10.4M1845.7 823.7v10.4M1942.1 823.7v10.4M2038.6 823.7v10.4M2135 823.7v10.4M1219 488.7h-10.4M1219 549.6h-10.4M1219 610.5h-10.4M1219 671.4h-10.4M1219 732.3h-10.4M1219 793.2h-10.4" stroke="#000" stroke-width="2.5" fill="none"/>
<text x="1239.4" y="503.9" font-size="40" font-weight="bold">(D)</text>
<text x="1701.1" y="914.7" font-size="42" text-anchor="middle">Initial Stations</text>
<linearGradient id="cbD" x1="0" y1="0" x2="0" y2="1"><stop offset="0.0000" stop-color="#67001f"/><stop offset="0.0312" stop-color="#7c0722"/><stop offset="0.0625" stop-color="#930e26"/><stop offset="0.0938" stop-color="#ab162a"/><stop offset="0.1250" stop-color="#ba2832"/><stop offset="0.1562" stop-color="#c53e3d"/><stop offset="0.1875" stop-color="#d05548"/><stop offset="0.2188" stop-color="#db6b55"/><stop offset="0.2500" stop-color="#e48066"/><stop offset="0.2812" stop-color="#ee9677"/><stop offset="0.3125" stop-color="#f5aa89"/><stop offset="0.3438" stop-color="#f8bb9e"/><stop offset="0.3750" stop-color="#fbccb4"/><stop offset="0.4062" stop-color="#fddcc9"/><stop offset="0.4375" stop-color="#fbe5d8"/><stop offset="0.4688" stop-color="#f9eee7"/><stop offset="0.5000" stop-color="#f7f6f6"/><stop offset="0.5312" stop-color="#ecf2f5"/><stop offset="0.5625" stop-color="#e0ecf3"/><stop offset="0.5938" stop-color="#d4e6f1"/><stop offset="0.6250" stop-color="#c2ddec"/><stop offset="0.6562" stop-color="#aed3e6"/><stop offset="0.6875" stop-color="#9bc9e0"/><stop offset="0.7188" stop-color="#84bcd9"/><stop offset="0.7500" stop-color="#6bacd1"/><stop offset="0.7812" stop-color="#529dc8"/><stop offset="0.8125" stop-color="#3f8ec0"/><stop offset="0.8438" stop-color="#3480b9"/><stop offset="0.8750" stop-color="#2a71b2"/><stop offset="0.9062" stop-color="#1f63a8"/><stop offset="0.9375" stop-color="#175290"/><stop offset="0.9688" stop-color="#0e4179"/><stop offset="1.0000" stop-color="#053061"/></linearGradient>
<rect x="2196.5" y="458.2" width="21.8" height="365.5" fill="url(#cbD)" stroke="#000" stroke-width="2.2"/>
<text x="2236.6" y="468" font-size="29">20</text>
<text x="2236.6" y="559.4" font-size="29">10</text>
<text x="2236.6" y="650.8" font-size="29">0</text>
<text x="2236.6" y="742.1" font-size="29">-10</text>
<text x="2236.6" y="833.5" font-size="29">-20</text>
<path d="M2218.3 458.2h9M2218.3 549.6h9M2218.3 641h9M2218.3 732.3h9M2218.3 823.7h9" stroke="#000" stroke-width="2.2" fill="none"/>
<text transform="translate(2310.3 642) rotate(-90)" font-size="34.7" text-anchor="middle">Optimization Rate [%]</text>
<g shape-rendering="crispEdges">
<rect x="1219" y="1416.2" width="96.9" height="61.4" fill="#8ac0db"/>
<rect x="1315.4" y="1416.2" width="96.9" height="61.4" fill="#f19e7d"/>
<rect x="1411.8" y="1416.2" width="96.9" height="61.4" fill="#d2e6f0"/>
<rect x="1508.3" y="1416.2" width="96.9" height="61.4" fill="#fbe5d8"/>
<rect x="1604.7" y="1416.2" width="96.9" height="61.4" fill="#fddcc9"/>
<rect x="1701.1" y="1416.2" width="96.9" height="61.4" fill="#cfe4ef"/>
<rect x="1797.5" y="1416.2" width="96.9" height="61.4" fill="#ce4f45"/>
<rect x="1893.9" y="1416.2" width="96.9" height="61.4" fill="#f9c6ac"/>
<rect x="1990.4" y="1416.2" width="96.9" height="61.4" fill="#f3a481"/>
<rect x="2086.8" y="1416.2" width="96.9" height="61.4" fill="#e98b6e"/>
<rect x="1219" y="1477.1" width="96.9" height="61.4" fill="#f6b394"/>
<rect x="1315.4" y="1477.1" width="96.9" height="61.4" fill="#fbccb4"/>
<rect x="1411.8" y="1477.1" width="96.9" height="61.4" fill="#fcd5bf"/>
<rect x="1508.3" y="1477.1" width="96.9" height="61.4" fill="#fae9df"/>
<rect x="1604.7" y="1477.1" width="96.9" height="61.4" fill="#f3a481"/>
<rect x="1701.1" y="1477.1" width="96.9" height="61.4" fill="#e1edf3"/>
<rect x="1797.5" y="1477.1" width="96.9" height="61.4" fill="#a2cde3"/>
<rect x="1893.9" y="1477.1" width="96.9" height="61.4" fill="#e6eff4"/>
<rect x="1990.4" y="1477.1" width="96.9" height="61.4" fill="#f5aa89"/>
<rect x="2086.8" y="1477.1" width="96.9" height="61.4" fill="#f8f3f0"/>
<rect x="1219" y="1538" width="96.9" height="61.4" fill="#f6f7f7"/>
<rect x="1315.4" y="1538" width="96.9" height="61.4" fill="#fce0d0"/>
<rect x="1411.8" y="1538" width="96.9" height="61.4" fill="#fce0d0"/>
<rect x="1508.3" y="1538" width="96.9" height="61.4" fill="#fddcc9"/>
<rect x="1604.7" y="1538" width="96.9" height="61.4" fill="#eff3f5"/>
<rect x="1701.1" y="1538" width="96.9" height="61.4" fill="#fcd5bf"/>
<rect x="1797.5" y="1538" width="96.9" height="61.4" fill="#deebf2"/>
<rect x="1893.9" y="1538" width="96.9" height="61.4" fill="#b8d8e9"/>
<rect x="1990.4" y="1538" width="96.9" height="61.4" fill="#d7e8f1"/>
<rect x="2086.8" y="1538" width="96.9" height="61.4" fill="#90c4dd"/>
<rect x="1219" y="1599" width="96.9" height="61.4" fill="#81bad8"/>
<rect x="1315.4" y="1599" width="96.9" height="61.4" fill="#fbccb4"/>
<rect x="1411.8" y="1599" width="96.9" height="61.4" fill="#fbd0b9"/>
<rect x="1508.3" y="1599" width="96.9" height="61.4" fill="#f9eee7"/>
<rect x="1604.7" y="1599" width="96.9" height="61.4" fill="#eff3f5"/>
<rect x="1701.1" y="1599" width="96.9" height="61.4" fill="#e0ecf3"/>
<rect x="1797.5" y="1599" width="96.9" height="61.4" fill="#307ab6"/>
<rect x="1893.9" y="1599" width="96.9" height="61.4" fill="#f9eee7"/>
<rect x="1990.4" y="1599" width="96.9" height="61.4" fill="#a2cde3"/>
<rect x="2086.8" y="1599" width="96.9" height="61.4" fill="#a7d0e4"/>
<rect x="1219" y="1659.9" width="96.9" height="61.4" fill="#fdddcb"/>
<rect x="1315.4" y="1659.9" width="96.9" height="61.4" fill="#fcd5bf"/>
<rect x="1411.8" y="1659.9" width="96.9" height="61.4" fill="#eaf1f5"/>
<rect x="1508.3" y="1659.9" width="96.9" height="61.4" fill="#d7e8f1"/>
<rect x="1604.7" y="1659.9" width="96.9" height="61.4" fill="#8ac0db"/>
<rect x="1701.1" y="1659.9" width="96.9" height="61.4" fill="#063264"/>
<rect x="1797.5" y="1659.9" width="96.9" height="61.4" fill="#9bc9e0"/>
<rect x="1893.9" y="1659.9" width="96.9" height="61.4" fill="#e1edf3"/>
<rect x="1990.4" y="1659.9" width="96.9" height="61.4" fill="#e7f0f4"/>
<rect x="2086.8" y="1659.9" width="96.9" height="61.4" fill="#e1edf3"/>
<rect x="1219" y="1720.8" width="96.9" height="61.4" fill="#dae9f2"/>
<rect x="1315.4" y="1720.8" width="96.9" height="61.4" fill="#d8e9f1"/>
<rect x="1411.8" y="1720.8" width="96.9" height="61.4" fill="#f8f1ed"/>
<rect x="1508.3" y="1720.8" width="96.9" height="61.4" fill="#f8f1ed"/>
<rect x="1604.7" y="1720.8" width="96.9" height="61.4" fill="#f8f3f0"/>
<rect x="1701.1" y="1720.8" width="96.9" height="61.4" fill="#f8f1ed"/>
<rect x="1797.5" y="1720.8" width="96.9" height="61.4" fill="#dae9f2"/>
<rect x="1893.9" y="1720.8" width="96.9" height="61.4" fill="#f8f1ed"/>
<rect x="1990.4" y="1720.8" width="96.9" height="61.4" fill="#edf2f5"/>
<rect x="2086.8" y="1720.8" width="96.9" height="61.4" fill="#f8f3f0"/>
</g>
<path d="M1315.4 1416.2V1781.7M1411.8 1416.2V1781.7M1508.3 1416.2V1781.7M1604.7 1416.2V1781.7M1701.1 1416.2V1781.7M1797.5 1416.2V1781.7M1893.9 1416.2V1781.7M1990.4 1416.2V1781.7M2086.8 1416.2V1781.7M1219 1477.1H2183.2M1219 1538H2183.2M1219 1599H2183.2M1219 1659.9H2183.2M1219 1720.8H2183.2" stroke="#fff" stroke-opacity="0.85" stroke-width="1.1" fill="none"/>
<rect x="1219" y="1416.2" width="964.2" height="365.5" fill="none" stroke="#000" stroke-width="2.2"/>
<text x="1267.2" y="1824.6" font-size="36" text-anchor="middle">5</text>
<text x="1363.6" y="1824.6" font-size="36" text-anchor="middle">10</text>
<text x="1460" y="1824.6" font-size="36" text-anchor="middle">15</text>
<text x="1556.5" y="1824.6" font-size="36" text-anchor="middle">20</text>
<text x="1652.9" y="1824.6" font-size="36" text-anchor="middle">25</text>
<text x="1749.3" y="1824.6" font-size="36" text-anchor="middle">30</text>
<text x="1845.7" y="1824.6" font-size="36" text-anchor="middle">35</text>
<text x="1942.1" y="1824.6" font-size="36" text-anchor="middle">40</text>
<text x="2038.6" y="1824.6" font-size="36" text-anchor="middle">45</text>
<text x="2135" y="1824.6" font-size="36" text-anchor="middle">50</text>
<text x="1200.8" y="1458.3" font-size="36" text-anchor="end">12</text>
<text x="1200.8" y="1519.2" font-size="36" text-anchor="end">10</text>
<text x="1200.8" y="1580.1" font-size="36" text-anchor="end">8</text>
<text x="1200.8" y="1641" font-size="36" text-anchor="end">6</text>
<text x="1200.8" y="1701.9" font-size="36" text-anchor="end">4</text>
<text x="1200.8" y="1762.8" font-size="36" text-anchor="end">2</text>
<path d="M1267.2 1781.7v10.4M1363.6 1781.7v10.4M1460 1781.7v10.4M1556.5 1781.7v10.4M1652.9 1781.7v10.4M1749.3 1781.7v10.4M1845.7 1781.7v10.4M1942.1 1781.7v10.4M2038.6 1781.7v10.4M2135 1781.7v10.4M1219 1446.7h-10.4M1219 1507.6h-10.4M1219 1568.5h-10.4M1219 1629.4h-10.4M1219 1690.3h-10.4M1219 1751.2h-10.4" stroke="#000" stroke-width="2.5" fill="none"/>
<text x="1239.4" y="1461.9" font-size="40" font-weight="bold">(H)</text>
<text x="1701.1" y="1872.7" font-size="42" text-anchor="middle">Initial Stations</text>
<linearGradient id="cbH" x1="0" y1="0" x2="0" y2="1"><stop offset="0.0000" stop-color="#67001f"/><stop offset="0.0312" stop-color="#7c0722"/><stop offset="0.0625" stop-color="#930e26"/><stop offset="0.0938" stop-color="#ab162a"/><stop offset="0.1250" stop-color="#ba2832"/><stop offset="0.1562" stop-color="#c53e3d"/><stop offset="0.1875" stop-color="#d05548"/><stop offset="0.2188" stop-color="#db6b55"/><stop offset="0.2500" stop-color="#e48066"/><stop offset="0.2812" stop-color="#ee9677"/><stop offset="0.3125" stop-color="#f5aa89"/><stop offset="0.3438" stop-color="#f8bb9e"/><stop offset="0.3750" stop-color="#fbccb4"/><stop offset="0.4062" stop-color="#fddcc9"/><stop offset="0.4375" stop-color="#fbe5d8"/><stop offset="0.4688" stop-color="#f9eee7"/><stop offset="0.5000" stop-color="#f7f6f6"/><stop offset="0.5312" stop-color="#ecf2f5"/><stop offset="0.5625" stop-color="#e0ecf3"/><stop offset="0.5938" stop-color="#d4e6f1"/><stop offset="0.6250" stop-color="#c2ddec"/><stop offset="0.6562" stop-color="#aed3e6"/><stop offset="0.6875" stop-color="#9bc9e0"/><stop offset="0.7188" stop-color="#84bcd9"/><stop offset="0.7500" stop-color="#6bacd1"/><stop offset="0.7812" stop-color="#529dc8"/><stop offset="0.8125" stop-color="#3f8ec0"/><stop offset="0.8438" stop-color="#3480b9"/><stop offset="0.8750" stop-color="#2a71b2"/><stop offset="0.9062" stop-color="#1f63a8"/><stop offset="0.9375" stop-color="#175290"/><stop offset="0.9688" stop-color="#0e4179"/><stop offset="1.0000" stop-color="#053061"/></linearGradient>
<rect x="2196.5" y="1416.2" width="21.8" height="365.5" fill="url(#cbH)" stroke="#000" stroke-width="2.2"/>
<text x="2236.6" y="1426" font-size="29">20</text>
<text x="2236.6" y="1517.4" font-size="29">10</text>
<text x="2236.6" y="1608.8" font-size="29">0</text>
<text x="2236.6" y="1700.1" font-size="29">-10</text>
<text x="2236.6" y="1791.5" font-size="29">-20</text>
<path d="M2218.3 1416.2h9M2218.3 1507.6h9M2218.3 1599h9M2218.3 1690.3h9M2218.3 1781.7h9" stroke="#000" stroke-width="2.2" fill="none"/>
<text transform="translate(2310.3 1600) rotate(-90)" font-size="34.7" text-anchor="middle">Optimization Rate [%]</text>
<defs>
<clipPath id="mapax"><rect x="110.2" y="930.6" width="964.2" height="377.9"/></clipPath>
<clipPath id="seaclip"><path d="M108.2 1270.7L109.3 1270.7L118.6 1266.0L130.3 1262.5L136.1 1264.8L138.4 1272.3L141.5 1269.5L142.6 1256.7L144.7 1269.5L148.9 1267.6L154.8 1255.5L160.6 1245.0L167.6 1238.0L176.9 1236.9L188.5 1238.0L202.5 1232.2L211.8 1227.5L217.7 1222.9L221.2 1215.9L220.0 1206.6L218.4 1202.4L222.3 1196.1L230.5 1190.3L239.8 1185.6L249.1 1182.1L258.4 1175.1L267.8 1169.3L272.4 1164.6L279.4 1155.3L286.4 1147.2L295.7 1140.2L305.0 1135.5L314.4 1128.5L323.7 1120.4L333.0 1111.1L342.3 1102.9L350.5 1093.6L352.8 1086.6L358.6 1080.8L365.6 1073.8L372.6 1066.8L374.9 1059.8L379.6 1052.8L388.9 1045.8L397.1 1047.0L395.9 1055.1L405.2 1052.8L414.5 1049.3L426.2 1045.8L435.5 1042.3L442.5 1038.8L444.8 1031.8L449.5 1027.2L456.5 1020.2L461.1 1013.2L468.1 1007.4L474.0 1000.4L469.3 996.9L472.8 989.9L469.3 982.9L467.0 975.9L470.5 966.6L477.4 959.6L491.4 953.8L507.7 949.1L519.4 944.5L528.7 937.5L532.2 930.5L532.2 925.6L740.1 925.6L740.1 930.5L738.9 943.3L747.1 951.5L744.0 960.8L750.6 970.1L757.5 982.9L763.4 992.2L766.8 1000.0L782.6 1001.9L790.1 1014.9L792.9 1026.1L799.4 1020.5L805.9 1010.3L804.1 1028.0L797.0 1035.4L804.1 1046.6L811.5 1048.8L814.3 1040.1L820.8 1034.5L828.3 1043.2L826.0 1051.3L832.9 1053.1L839.5 1044.7L845.4 1055.9L843.2 1059.3L852.1 1061.5L857.2 1071.8L860.3 1074.9L856.6 1089.5L861.8 1096.9L869.3 1108.1L871.5 1121.2L878.6 1130.5L883.3 1147.3L887.0 1164.0L888.9 1172.4L887.6 1186.4L883.3 1193.8L880.5 1205.0L876.7 1214.4L874.0 1227.4L870.2 1233.0L868.4 1247.9L867.8 1258.2L871.2 1259.5L877.7 1256.8L878.6 1265.6L887.0 1242.3L891.7 1240.4L894.5 1229.3L893.5 1242.3L887.9 1261.0L894.5 1257.2L899.1 1250.7L897.3 1262.8L904.7 1269.3L908.4 1246.0L906.2 1261.0L912.2 1268.4L915.0 1253.5L920.5 1250.7L917.8 1266.5L925.2 1268.4L929.3 1251.6L928.6 1264.7L931.7 1273.1L943.8 1264.7L950.4 1247.9L964.4 1240.4L973.7 1238.6L983.0 1231.1L976.5 1214.4L981.1 1213.4L983.9 1223.7L990.4 1231.1L999.8 1228.3L1009.1 1216.2L1014.7 1201.3L1012.8 1184.5L1011.0 1178.9L1024.0 1190.1L1029.6 1197.6L1032.4 1195.7L1030.5 1205.0L1035.2 1219.9L1040.8 1230.2L1048.2 1228.3L1058.5 1226.5L1053.8 1231.1L1052.9 1242.3L1049.2 1246.0L1051.0 1255.4L1057.5 1268.4L1060.3 1290.8L1065.0 1302.0L1065.0 1309.8L1065.0 1311.5L108.2 1311.5Z"/></clipPath>
<g id="mapbase">
<rect x="110.2" y="930.6" width="964.2" height="377.9" fill="#d3d3d3"/>
<path d="M108.2 1270.7L109.3 1270.7L118.6 1266.0L130.3 1262.5L136.1 1264.8L138.4 1272.3L141.5 1269.5L142.6 1256.7L144.7 1269.5L148.9 1267.6L154.8 1255.5L160.6 1245.0L167.6 1238.0L176.9 1236.9L188.5 1238.0L202.5 1232.2L211.8 1227.5L217.7 1222.9L221.2 1215.9L220.0 1206.6L218.4 1202.4L222.3 1196.1L230.5 1190.3L239.8 1185.6L249.1 1182.1L258.4 1175.1L267.8 1169.3L272.4 1164.6L279.4 1155.3L286.4 1147.2L295.7 1140.2L305.0 1135.5L314.4 1128.5L323.7 1120.4L333.0 1111.1L342.3 1102.9L350.5 1093.6L352.8 1086.6L358.6 1080.8L365.6 1073.8L372.6 1066.8L374.9 1059.8L379.6 1052.8L388.9 1045.8L397.1 1047.0L395.9 1055.1L405.2 1052.8L414.5 1049.3L426.2 1045.8L435.5 1042.3L442.5 1038.8L444.8 1031.8L449.5 1027.2L456.5 1020.2L461.1 1013.2L468.1 1007.4L474.0 1000.4L469.3 996.9L472.8 989.9L469.3 982.9L467.0 975.9L470.5 966.6L477.4 959.6L491.4 953.8L507.7 949.1L519.4 944.5L528.7 937.5L532.2 930.5L532.2 925.6L740.1 925.6L740.1 930.5L738.9 943.3L747.1 951.5L744.0 960.8L750.6 970.1L757.5 982.9L763.4 992.2L766.8 1000.0L782.6 1001.9L790.1 1014.9L792.9 1026.1L799.4 1020.5L805.9 1010.3L804.1 1028.0L797.0 1035.4L804.1 1046.6L811.5 1048.8L814.3 1040.1L820.8 1034.5L828.3 1043.2L826.0 1051.3L832.9 1053.1L839.5 1044.7L845.4 1055.9L843.2 1059.3L852.1 1061.5L857.2 1071.8L860.3 1074.9L856.6 1089.5L861.8 1096.9L869.3 1108.1L871.5 1121.2L878.6 1130.5L883.3 1147.3L887.0 1164.0L888.9 1172.4L887.6 1186.4L883.3 1193.8L880.5 1205.0L876.7 1214.4L874.0 1227.4L870.2 1233.0L868.4 1247.9L867.8 1258.2L871.2 1259.5L877.7 1256.8L878.6 1265.6L887.0 1242.3L891.7 1240.4L894.5 1229.3L893.5 1242.3L887.9 1261.0L894.5 1257.2L899.1 1250.7L897.3 1262.8L904.7 1269.3L908.4 1246.0L906.2 1261.0L912.2 1268.4L915.0 1253.5L920.5 1250.7L917.8 1266.5L925.2 1268.4L929.3 1251.6L928.6 1264.7L931.7 1273.1L943.8 1264.7L950.4 1247.9L964.4 1240.4L973.7 1238.6L983.0 1231.1L976.5 1214.4L981.1 1213.4L983.9 1223.7L990.4 1231.1L999.8 1228.3L1009.1 1216.2L1014.7 1201.3L1012.8 1184.5L1011.0 1178.9L1024.0 1190.1L1029.6 1197.6L1032.4 1195.7L1030.5 1205.0L1035.2 1219.9L1040.8 1230.2L1048.2 1228.3L1058.5 1226.5L1053.8 1231.1L1052.9 1242.3L1049.2 1246.0L1051.0 1255.4L1057.5 1268.4L1060.3 1290.8L1065.0 1302.0L1065.0 1309.8L1065.0 1311.5L108.2 1311.5Z" fill="#fff"/>
<path d="M829.2 1072.7L837.6 1069.9L843.2 1078.3L850.7 1082.0L853.4 1093.2L849.7 1100.7L841.3 1093.2L833.9 1083.9L829.2 1078.3Z" fill="#d3d3d3"/>
<path d="M839.5 1064.3L848.8 1064.3L854.4 1070.8L850.7 1078.3L843.2 1074.6L837.6 1069.0Z" fill="#d3d3d3"/>
<path d="M830.1 1101.6L839.5 1098.8L842.8 1104.4L841.3 1110.9L834.8 1110.0L830.1 1104.4Z" fill="#d3d3d3"/>
<path d="M1045.4 1231.1L1052.0 1230.2L1050.5 1244.2L1046.4 1240.4Z" fill="#d3d3d3"/>
<path d="M529.6 926.6L529.6 930.6L532.0 940.4L532.4 950.2L535.9 952.3L538.7 953.0L539.8 946.0L541.5 941.8L543.6 948.8L545.7 954.4L548.2 951.6L549.9 949.5L552.7 944.6L555.5 941.8L556.6 950.2L558.3 956.5L561.4 955.1L563.9 953.0L567.0 946.0L569.5 939.0L570.6 947.4L572.3 954.4L575.1 956.0L577.9 956.5L579.5 948.8L580.7 943.2L584.2 948.1L587.6 951.6L590.2 944.6L591.8 939.0L593.9 945.3L596.0 950.2L598.8 948.5L601.6 946.0L604.1 939.0L605.8 933.4L610.0 940.4L614.2 946.0L617.3 941.1L619.8 937.6L623.3 938.7L626.8 939.0L629.9 935.1L632.4 930.6L632.4 926.6Z" fill="#d3d3d3"/>
<path d="M639.4 926.6L639.4 930.6L640.8 938.3L647.8 941.1L656.1 936.2L665.9 938.3L671.5 930.6L671.5 926.6Z" fill="#d3d3d3"/>
<path d="M740.3 926.6L740.3 933.4L738.4 941.8L740.3 955.8L745.6 958.6L748.7 948.8L746.3 939.0L743.5 933.7L743.5 926.6Z" fill="#d3d3d3"/>
<clipPath id="fldclip"><path d="M114.0 1305.6L128.0 1291.6L141.9 1291.6L168.7 1264.8L181.5 1264.8L195.1 1251.3L209.0 1251.3L239.8 1220.6L239.8 1207.7L251.4 1196.1L264.3 1196.1L305.0 1155.3L319.0 1155.3L361.0 1113.4L361.0 1104.1L372.6 1087.3L386.6 1087.3L400.6 1072.6L413.4 1072.6L426.2 1059.8L440.2 1059.8L496.1 1003.9L495.4 978.2L523.4 978.2L535.0 965.9L543.2 965.9L550.2 978.2L577.0 978.2L589.8 965.0L603.8 978.2L607.3 978.2L618.9 964.3L671.3 964.3L685.3 978.2L740.1 978.2L740.1 987.6L750.0 1003.7L795.7 1059.6L807.8 1059.6L808.7 1084.8L821.8 1097.9L821.8 1111.8L836.7 1127.7L849.7 1128.6L862.8 1142.6L862.8 1225.5L850.7 1236.7L850.7 1249.8L878.6 1277.7L888.9 1278.3L903.8 1290.8L931.7 1290.8L943.8 1278.3L983.9 1278.3L999.8 1263.7L1043.0 1305.7L1043.0 1305.7L114.0 1305.7Z"/></clipPath>
<filter id="fldblur" x="-2%" y="-2%" width="104%" height="104%"><feGaussianBlur stdDeviation="1.8"/></filter>
<g clip-path="url(#fldclip)"><g filter="url(#fldblur)" stroke-width="3.8" fill="none">
<path stroke="#8000ff" d="M835 1248v5M862 1284v11"/>
<path stroke="#7413ff" d="M835 1245v5M835 1251v5M838 1248v5M859 1284v11M865 1287v8"/>
<path stroke="#6629fe" d="M832 1245v8M835 1242v5M835 1254v5M838 1245v5M838 1251v5M862 1281v5M862 1293v5M865 1284v5"/>
<path stroke="#5a3bfd" d="M196 1263v5M508 1287v5M832 1242v5M832 1251v5M835 1257v5M838 1242v5M838 1254v8M841 1248v8M856 1284v8M859 1281v5M859 1293v5M865 1293v5M868 1287v5"/>
<path stroke="#4c50fc" d="M169 1287v8M172 1287v5M193 1263v8M196 1260v5M196 1266v5M289 1194v5M292 1194v5M385 1287v5M508 1248v8M508 1284v5M508 1290v8M511 1287v5M631 1248v8M631 1284v11M739 1248v8M739 1284v11M742 1248v5M742 1287v8M829 1245v8M832 1254v5M835 1239v5M835 1260v5M838 1260v8M841 1245v5M841 1254v14M844 1257v11M856 1278v8M856 1290v5M859 1278v5M862 1278v5M865 1281v5M868 1284v5M868 1290v5"/>
<path stroke="#4062fa" d="M166 1287v8M169 1284v5M172 1284v5M172 1290v5M190 1263v8M193 1260v5M193 1269v5M196 1269v5M199 1260v11M277 1287v8M289 1191v5M289 1197v5M292 1191v5M292 1197v5M382 1287v5M385 1248v5M385 1284v5M385 1290v8M388 1287v8M400 1110v5M505 1248v8M505 1284v14M508 1206v11M508 1242v8M508 1254v5M508 1281v5M508 1296v5M511 1248v8M511 1284v5M511 1290v8M628 1248v8M628 1284v11M631 1206v11M631 1242v8M631 1254v5M631 1281v5M631 1293v8M634 1248v5M634 1287v8M736 1248v5M736 1287v8M739 1206v11M739 1242v8M739 1254v5M739 1281v5M739 1293v8M742 1206v8M742 1245v5M742 1251v5M742 1284v5M742 1293v5M829 1242v5M829 1251v5M832 1239v5M832 1257v8M835 1236v5M835 1263v5M838 1239v5M838 1266v5M841 1242v5M841 1266v5M844 1248v11M844 1266v8M847 1257v17M850 1266v11M853 1272v20M856 1275v5M859 1275v5M862 1296v5M868 1293v5M985 1287v5"/>
<path stroke="#3176f8" d="M166 1284v5M169 1281v5M169 1293v5M172 1281v5M175 1284v11M187 1269v8M190 1260v5M190 1269v8M193 1272v5M196 1257v5M196 1272v5M199 1269v5M202 1263v5M274 1287v11M277 1248v5M277 1284v5M277 1293v8M286 1194v5M289 1188v5M289 1200v5M292 1188v5M292 1200v5M295 1191v8M382 1248v5M382 1284v5M382 1290v8M385 1245v5M385 1251v8M385 1281v5M385 1296v5M388 1245v11M388 1284v5M388 1293v5M391 1287v8M397 1110v5M400 1107v5M400 1113v5M502 1248v5M502 1287v8M505 1206v8M505 1242v8M505 1254v5M505 1281v5M505 1296v5M508 1167v5M508 1203v5M508 1215v5M508 1239v5M508 1257v8M508 1278v5M508 1299v14M511 1206v11M511 1242v8M511 1254v5M511 1281v5M511 1296v5M514 1248v5M514 1287v8M625 1248v5M625 1287v8M628 1206v11M628 1242v8M628 1254v5M628 1281v5M628 1293v8M631 1167v5M631 1203v5M631 1215v5M631 1239v5M631 1257v5M631 1278v5M631 1299v5M634 1206v8M634 1245v5M634 1251v8M634 1281v8M634 1293v8M637 1248v5M637 1287v8M733 1248v5M733 1287v8M736 1206v8M736 1245v5M736 1251v8M736 1281v8M736 1293v8M739 1167v5M739 1203v5M739 1215v5M739 1239v5M739 1257v5M739 1278v5M739 1299v5M742 1203v5M742 1212v5M742 1242v5M742 1254v8M742 1278v8M742 1296v5M745 1245v11M745 1284v11M826 1248v5M829 1239v5M829 1254v8M832 1236v5M832 1263v5M835 1266v5M838 1236v5M841 1239v5M841 1269v5M844 1245v5M844 1272v5M847 1254v5M847 1272v8M850 1260v8M850 1275v11M853 1266v8M853 1290v5M856 1272v5M856 1293v5M859 1296v5M862 1275v5M865 1278v5M865 1296v5M868 1281v5M871 1287v8M982 1287v5M985 1284v5M985 1290v5"/>
<path stroke="#2686f5" d="M163 1287v8M166 1281v5M166 1293v5M169 1278v5M169 1296v5M172 1293v5M175 1278v8M178 1275v17M181 1272v17M184 1269v17M187 1263v8M187 1275v8M190 1275v5M193 1257v5M193 1275v5M199 1257v5M202 1260v5M202 1266v5M271 1287v11M274 1248v8M274 1284v5M274 1296v5M277 1245v5M277 1251v8M277 1281v5M277 1299v5M280 1287v11M286 1191v5M286 1197v5M295 1197v5M379 1287v8M382 1245v5M382 1251v8M382 1281v5M382 1296v17M385 1167v8M385 1206v11M385 1239v8M385 1257v5M385 1278v5M385 1299v14M388 1209v5M388 1242v5M388 1254v5M388 1278v8M388 1296v17M391 1248v8M391 1284v5M391 1293v5M397 1113v5M400 1116v5M403 1110v8M502 1206v8M502 1245v5M502 1251v8M502 1266v23M502 1293v20M505 1167v5M505 1203v5M505 1212v8M505 1233v11M505 1257v26M505 1299v14M508 1164v5M508 1170v8M508 1197v8M508 1218v23M508 1263v17M511 1167v5M511 1203v5M511 1215v5M511 1233v11M511 1257v26M511 1299v14M514 1206v8M514 1245v5M514 1251v8M514 1263v26M514 1293v20M517 1287v5M625 1206v8M625 1245v5M625 1251v8M625 1278v11M625 1293v20M628 1167v5M628 1200v8M628 1215v5M628 1233v11M628 1257v26M628 1299v14M631 1164v5M631 1170v8M631 1197v8M631 1218v23M631 1260v20M631 1302v11M634 1167v5M634 1203v5M634 1212v8M634 1239v8M634 1257v26M634 1299v14M637 1206v8M637 1245v5M637 1251v5M637 1284v5M637 1293v20M733 1206v8M733 1245v5M733 1251v5M733 1269v20M733 1293v20M736 1167v5M736 1203v5M736 1212v8M736 1221v26M736 1257v26M736 1299v14M739 1164v5M739 1170v8M739 1197v8M739 1218v23M739 1260v20M739 1302v11M742 1164v11M742 1200v5M742 1215v29M742 1260v20M742 1299v14M745 1203v14M745 1239v8M745 1254v32M745 1293v20M748 1248v5M748 1287v8M826 1242v8M826 1251v8M829 1236v5M829 1260v5M835 1233v5M838 1233v5M838 1269v5M841 1236v5M841 1272v5M844 1242v5M847 1248v8M847 1278v5M850 1257v5M850 1284v5M853 1263v5M856 1269v5M859 1272v5M871 1284v5M871 1293v5M982 1284v5M982 1290v5M985 1281v5M988 1281v11"/>
<path stroke="#1898f2" d="M163 1284v5M163 1293v5M166 1296v5M172 1278v5M172 1296v5M175 1275v5M175 1293v5M178 1272v5M178 1290v5M181 1269v5M181 1287v5M184 1263v8M184 1284v5M187 1260v5M187 1281v5M190 1257v5M190 1278v5M193 1278v5M196 1254v5M196 1275v5M199 1272v5M202 1269v5M268 1287v23M271 1248v5M271 1284v5M271 1296v17M274 1245v5M274 1254v5M274 1281v5M274 1299v14M277 1242v5M277 1257v5M277 1302v11M280 1248v8M280 1284v5M280 1296v17M283 1194v5M283 1287v8M286 1188v5M286 1200v5M289 1185v5M289 1203v5M292 1185v5M292 1203v5M295 1188v5M295 1200v5M298 1191v8M379 1245v11M379 1266v23M379 1293v20M382 1167v5M382 1206v11M382 1242v5M382 1257v26M385 1164v5M385 1173v5M385 1203v5M385 1215v8M385 1236v5M385 1260v20M388 1164v11M388 1206v5M388 1212v8M388 1239v5M388 1257v23M391 1245v5M391 1254v32M391 1296v17M394 1110v5M394 1248v5M394 1287v26M397 1107v5M397 1116v5M400 1104v5M400 1119v5M403 1107v5M403 1116v5M499 1239v74M502 1203v5M502 1212v35M502 1257v11M505 1164v5M505 1170v8M505 1197v8M505 1218v17M508 1161v5M508 1176v5M508 1191v8M511 1164v5M511 1170v8M511 1194v11M511 1218v17M514 1203v5M514 1212v35M514 1257v8M517 1236v53M517 1290v23M622 1242v71M625 1167v5M625 1203v5M625 1212v35M625 1257v23M628 1164v5M628 1170v8M628 1191v11M628 1218v17M631 1071v5M631 1110v8M631 1158v8M631 1176v8M631 1188v11M634 1164v5M634 1170v8M634 1194v11M634 1218v23M637 1167v5M637 1203v5M637 1212v35M637 1254v32M640 1248v5M640 1254v59M730 1242v71M733 1203v5M733 1212v35M733 1254v17M736 1164v5M736 1170v8M736 1188v17M736 1218v5M739 1110v8M739 1158v8M739 1176v23M742 1161v5M742 1173v8M742 1185v17M745 1167v8M745 1194v11M745 1215v26M748 1206v44M748 1251v38M748 1293v20M823 1248v5M826 1239v5M826 1257v8M829 1233v5M829 1263v5M832 1233v5M832 1266v5M835 1230v5M835 1269v5M841 1233v5M844 1236v8M844 1275v5M847 1245v5M847 1281v5M850 1251v8M850 1287v5M853 1260v5M853 1293v5M856 1266v5M856 1296v5M859 1269v5M862 1272v5M862 1299v5M865 1275v5M868 1278v5M868 1296v5M871 1281v5M979 1287v5M985 1278v5M985 1293v5M988 1275v8M988 1290v5M991 1272v14M994 1266v17M997 1263v14M1000 1260v11"/>
<path stroke="#09a9ee" d="M160 1287v8M163 1281v5M166 1278v5M169 1275v5M172 1275v5M175 1272v5M175 1296v5M178 1269v5M178 1293v5M181 1266v5M181 1290v5M184 1260v5M184 1287v5M187 1284v5M190 1281v8M193 1254v5M193 1281v5M196 1278v5M199 1254v5M199 1275v5M202 1257v5M202 1272v8M205 1260v14M262 1296v8M265 1287v26M268 1281v8M268 1308v5M271 1251v8M271 1278v8M274 1242v5M274 1257v5M274 1278v5M277 1239v5M277 1260v5M277 1278v5M280 1245v5M280 1254v5M280 1281v5M283 1191v5M283 1197v8M283 1248v5M283 1284v5M283 1293v20M286 1203v5M286 1293v20M289 1206v5M295 1203v5M298 1197v5M376 1248v65M379 1206v8M379 1221v26M379 1254v14M382 1164v5M382 1170v8M382 1203v5M382 1215v29M385 1161v5M385 1176v5M385 1200v5M385 1221v17M388 1161v5M388 1173v5M388 1203v5M388 1218v23M391 1167v5M391 1206v11M391 1218v29M394 1107v5M394 1113v8M394 1236v14M394 1251v38M397 1104v5M397 1119v5M397 1278v35M403 1104v5M403 1119v5M406 1110v8M496 1230v83M499 1197v44M502 1164v11M502 1182v23M505 1161v5M505 1176v23M508 1110v8M508 1158v5M508 1179v14M511 1161v5M511 1176v20M514 1164v11M514 1179v26M517 1197v41M520 1224v89M619 1227v86M622 1194v50M625 1164v5M625 1170v35M628 1071v5M628 1110v8M628 1158v8M628 1176v17M631 1068v5M631 1074v5M631 1107v5M631 1116v5M631 1155v5M631 1182v8M634 1071v5M634 1110v8M634 1161v5M634 1176v20M637 1164v5M637 1170v5M637 1179v26M640 1197v53M640 1251v5M643 1245v68M727 1236v77M730 1194v50M733 1164v11M733 1176v29M736 1110v8M736 1161v5M736 1176v14M739 1107v5M739 1116v5M739 1155v5M742 1107v14M742 1158v5M742 1179v8M745 1161v8M745 1173v23M748 1167v5M748 1182v26M751 1206v107M823 1239v11M823 1251v8M826 1233v8M826 1263v5M829 1230v5M829 1266v5M832 1230v5M832 1269v5M835 1227v5M838 1230v5M838 1272v5M841 1230v5M841 1275v5M844 1233v5M844 1278v5M847 1239v8M847 1284v5M850 1248v5M850 1290v5M853 1257v5M853 1296v5M856 1263v5M859 1266v5M859 1299v5M862 1269v5M865 1272v5M865 1299v5M868 1275v5M871 1278v5M871 1296v5M874 1284v11M979 1290v5M982 1281v5M982 1293v5M988 1272v5M991 1269v5M991 1284v8M994 1263v5M994 1281v5M997 1260v5M997 1275v5M1000 1269v8M1003 1260v11"/>
<path stroke="#02b7eb" d="M160 1281v8M160 1293v5M163 1278v5M163 1296v5M166 1275v5M166 1299v5M169 1299v5M172 1272v5M172 1299v5M175 1269v5M178 1266v5M178 1296v5M181 1263v5M181 1293v5M184 1290v5M187 1257v5M187 1287v8M190 1254v5M190 1287v5M193 1284v5M196 1281v5M199 1278v5M202 1254v5M202 1278v5M205 1257v5M205 1272v8M208 1263v11M259 1290v17M262 1281v17M262 1302v11M265 1275v14M268 1248v17M268 1266v17M271 1245v5M271 1257v23M274 1239v5M274 1260v20M277 1236v5M277 1263v17M280 1194v8M280 1239v8M280 1257v26M283 1188v5M283 1203v8M283 1245v5M283 1251v14M283 1275v11M286 1185v5M286 1206v8M286 1284v11M289 1209v5M289 1293v20M292 1182v5M292 1206v8M295 1185v5M295 1206v5M298 1188v5M298 1200v5M301 1191v8M373 1242v71M376 1215v35M379 1167v8M379 1203v5M379 1212v11M382 1161v5M382 1176v5M382 1200v5M385 1158v5M385 1179v5M385 1197v5M388 1158v5M388 1176v5M388 1200v5M391 1164v5M391 1170v8M391 1203v5M391 1215v5M394 1119v5M394 1206v32M397 1122v5M397 1224v56M400 1101v5M400 1122v5M400 1278v35M406 1107v5M406 1116v5M493 1233v80M496 1194v38M499 1167v5M499 1173v26M502 1158v8M502 1173v11M505 1110v8M505 1149v14M508 1107v5M508 1116v8M508 1146v14M511 1110v8M511 1149v14M514 1158v8M514 1173v8M517 1167v5M517 1173v26M520 1191v35M523 1227v86M616 1233v80M619 1188v41M622 1167v29M625 1110v5M625 1152v14M628 1068v5M628 1074v8M628 1104v8M628 1116v5M628 1143v17M631 1065v5M631 1077v8M631 1101v8M631 1119v8M631 1137v20M634 1068v5M634 1074v5M634 1107v5M634 1116v5M634 1143v20M637 1110v5M637 1152v14M637 1173v8M640 1167v32M643 1191v56M646 1254v59M724 1245v68M727 1191v47M730 1167v29M733 1152v14M733 1173v5M736 1107v5M736 1116v5M736 1140v23M739 1071v8M739 1101v8M739 1119v8M739 1134v23M742 1104v5M742 1119v5M742 1134v26M745 1110v8M745 1143v20M748 1158v11M748 1170v14M751 1179v29M754 1206v107M817 1098v5M820 1248v5M823 1236v5M823 1257v8M826 1230v5M826 1266v5M829 1227v5M832 1224v8M835 1224v5M835 1272v5M838 1224v8M838 1275v5M841 1227v5M841 1278v5M844 1230v5M844 1281v5M847 1236v5M847 1287v5M850 1242v8M850 1293v5M853 1251v8M856 1260v5M856 1299v5M859 1263v5M868 1299v5M874 1281v5M874 1293v5M979 1284v5M985 1275v5M988 1269v5M988 1293v5M991 1266v5M991 1290v5M994 1260v5M994 1284v5M997 1257v5M997 1278v5M1000 1257v5M1003 1269v5M1006 1263v5"/>
<path stroke="#10c6e6" d="M157 1284v14M160 1278v5M160 1296v5M163 1275v5M163 1299v5M169 1272v5M172 1269v5M175 1266v5M175 1299v5M178 1263v5M178 1299v5M181 1260v5M181 1296v5M184 1257v5M184 1293v5M187 1254v5M187 1293v5M190 1290v5M193 1251v5M193 1287v5M196 1251v5M196 1284v5M199 1251v5M199 1281v5M202 1281v5M205 1278v5M208 1260v5M208 1272v8M256 1284v26M259 1278v14M259 1305v8M262 1272v11M265 1251v26M268 1245v5M268 1263v5M271 1239v8M274 1233v8M277 1224v14M280 1188v8M280 1200v8M280 1221v20M283 1185v5M283 1209v38M283 1263v14M286 1182v5M286 1212v23M286 1248v38M289 1182v5M289 1212v11M289 1281v14M292 1212v5M292 1293v20M295 1182v5M295 1209v5M298 1185v5M298 1203v8M301 1188v5M301 1197v8M370 1242v71M373 1212v32M376 1167v5M376 1203v14M379 1164v5M379 1173v14M379 1194v11M382 1155v8M382 1179v23M385 1152v8M385 1182v17M388 1149v11M388 1179v23M391 1107v17M391 1149v17M391 1176v11M391 1194v11M394 1104v5M394 1122v5M394 1167v8M394 1200v8M397 1101v5M397 1125v5M397 1209v17M400 1125v5M400 1221v59M403 1101v5M403 1122v5M403 1287v26M406 1104v5M406 1119v5M409 1110v8M490 1245v68M493 1191v44M496 1170v26M499 1149v20M499 1170v5M502 1134v26M505 1107v5M505 1116v8M505 1125v26M508 1104v5M508 1122v26M511 1107v5M511 1116v8M511 1125v26M514 1110v8M514 1134v26M517 1149v20M517 1170v5M520 1167v26M523 1191v38M526 1236v77M613 1254v59M616 1188v47M619 1164v26M622 1143v26M625 1071v8M625 1107v5M625 1113v8M625 1122v32M628 1065v5M628 1080v5M628 1086v20M628 1119v26M631 1062v5M631 1083v20M631 1125v14M634 1065v5M634 1077v8M634 1089v20M634 1119v26M637 1071v8M637 1107v5M637 1113v8M637 1122v32M640 1143v26M643 1167v26M646 1194v62M649 1278v35M721 1269v44M724 1191v56M727 1164v29M730 1143v26M733 1107v47M736 1071v8M736 1092v17M736 1119v23M739 1068v5M739 1077v8M739 1089v14M739 1125v11M742 1071v11M742 1092v14M742 1122v14M745 1098v14M745 1116v29M748 1110v5M748 1131v29M751 1152v29M754 1176v32M757 1209v92M814 1098v5M817 1095v5M817 1101v5M820 1098v5M820 1239v11M820 1251v11M823 1230v8M823 1263v5M826 1227v5M829 1221v8M829 1269v5M832 1221v5M832 1272v5M835 1218v8M838 1221v5M841 1221v8M844 1227v5M844 1284v5M847 1230v8M847 1290v5M850 1239v5M850 1296v5M853 1248v5M853 1299v5M856 1254v8M859 1260v5M862 1266v5M862 1302v5M865 1269v5M868 1272v5M871 1275v5M871 1299v5M874 1278v5M874 1296v5M877 1284v11M979 1281v5M979 1293v5M982 1278v5M985 1272v5M985 1296v5M991 1263v5M997 1281v5M1000 1275v5M1003 1257v5M1003 1272v5M1006 1260v5M1006 1266v5"/>
<path stroke="#1dd1e2" d="M154 1287v8M157 1281v5M157 1296v5M160 1275v5M160 1299v5M166 1272v5M166 1302v5M169 1269v5M169 1302v5M172 1266v5M172 1302v5M175 1263v5M175 1302v5M178 1260v5M178 1302v5M181 1257v5M181 1299v5M184 1254v5M184 1296v5M187 1296v5M190 1251v5M190 1293v5M193 1290v5M196 1287v5M199 1284v5M202 1251v5M202 1284v5M205 1254v5M205 1281v5M208 1257v5M208 1278v5M211 1260v20M253 1281v29M256 1275v11M256 1308v5M259 1269v11M262 1254v20M265 1245v8M268 1239v8M271 1230v11M274 1224v11M277 1194v11M277 1218v8M280 1185v5M280 1206v17M283 1182v5M286 1233v17M289 1179v5M289 1221v17M289 1248v35M292 1179v5M292 1215v11M292 1281v14M295 1212v8M295 1293v20M298 1182v5M298 1209v5M301 1185v5M301 1203v5M304 1191v11M367 1248v65M370 1209v35M373 1200v14M376 1161v8M376 1170v35M379 1152v14M379 1185v11M382 1149v8M385 1146v8M388 1113v5M388 1143v8M391 1104v5M391 1122v8M391 1143v8M391 1185v11M394 1101v5M394 1125v8M394 1143v26M394 1173v29M397 1128v5M397 1152v5M397 1197v14M400 1098v5M400 1128v5M400 1206v17M403 1125v5M403 1221v68M406 1101v5M406 1122v5M409 1107v5M409 1116v5M487 1269v44M490 1194v53M493 1167v26M496 1146v26M499 1122v29M502 1110v26M505 1104v5M505 1122v5M508 1101v5M511 1104v5M511 1122v5M514 1107v5M514 1116v20M517 1122v29M520 1143v26M523 1017v5M523 1167v26M526 1191v47M529 1257v56M610 1290v23M613 1191v65M616 1164v26M619 1140v26M622 1071v5M622 1086v59M625 1065v8M625 1077v32M625 1119v5M628 1059v8M628 1083v5M631 1029v11M631 1056v8M634 1056v11M634 1083v8M637 1062v11M637 1077v32M637 1119v5M640 1071v5M640 1092v53M643 1140v29M646 1167v29M649 1197v83M721 1194v77M724 1167v26M727 1140v26M730 1095v50M733 1086v23M736 1068v5M736 1077v17M739 1065v5M739 1083v8M742 1068v5M742 1080v14M745 1071v11M745 1083v17M748 1089v23M748 1113v20M751 1122v32M754 1152v26M757 1179v32M757 1299v14M760 1215v80M814 1095v5M817 1092v5M817 1245v8M820 1095v5M820 1233v8M820 1260v8M823 1227v5M823 1266v5M826 1221v8M826 1269v5M829 1215v8M829 1272v5M832 1212v11M835 1212v8M835 1275v5M838 1212v11M838 1278v5M841 1215v8M841 1281v5M844 1221v8M844 1287v5M847 1227v5M847 1293v5M850 1233v8M853 1242v8M856 1251v5M856 1302v5M859 1257v5M859 1302v5M862 1263v5M865 1266v5M865 1302v5M868 1302v5M877 1281v5M877 1293v5M976 1284v11M982 1275v5M982 1296v5M985 1269v5M988 1266v5M991 1260v5M991 1293v5M994 1287v5M997 1284v5M1000 1254v5M1000 1278v5M1006 1269v5"/>
<path stroke="#2adddd" d="M154 1281v8M154 1293v8M157 1278v5M157 1299v5M160 1302v5M163 1272v5M163 1302v5M166 1269v5M169 1266v5M169 1305v5M172 1263v5M172 1305v5M175 1260v5M175 1305v5M178 1257v5M181 1254v5M181 1302v5M184 1299v5M187 1251v5M187 1299v5M190 1248v5M190 1296v5M193 1248v5M193 1293v5M196 1248v5M196 1290v5M199 1248v5M199 1287v8M202 1287v5M205 1284v5M208 1254v5M208 1281v8M211 1257v5M211 1278v8M214 1263v17M247 1284v20M250 1278v35M253 1272v11M253 1308v5M256 1266v11M259 1254v17M262 1245v11M265 1239v8M268 1230v11M271 1224v8M274 1218v8M277 1188v8M277 1203v17M280 1182v5M286 1179v5M289 1236v14M292 1224v14M292 1254v29M295 1179v5M295 1218v8M295 1278v17M298 1179v5M298 1212v5M298 1296v14M301 1182v5M301 1206v5M304 1185v8M304 1200v5M364 1257v56M367 1209v41M370 1197v14M373 1161v41M376 1152v11M379 1149v5M382 1146v5M385 1143v5M388 1107v8M388 1116v11M388 1140v5M391 1101v5M391 1128v17M394 1098v5M394 1131v14M397 1098v5M397 1131v23M397 1155v44M400 1131v5M400 1194v14M403 1098v5M403 1128v5M403 1206v17M406 1125v5M406 1224v89M409 1104v5M409 1119v8M412 1110v8M484 1296v17M487 1197v74M490 1170v26M493 1143v26M496 1119v29M499 1110v14M502 1104v8M505 1101v5M508 1071v5M508 1098v5M511 1101v5M514 1104v5M517 1110v14M520 1017v8M520 1119v26M523 1020v5M523 1143v26M526 1167v26M529 1197v62M532 1284v29M610 1197v95M613 1167v26M616 1140v26M619 1077v65M622 1062v11M622 1074v14M625 1053v14M628 1029v11M628 1047v14M631 1026v5M631 1038v20M634 1029v14M634 1044v14M637 1047v17M640 1053v20M640 1074v20M643 1080v62M646 1140v29M649 1170v29M652 1203v110M718 1200v113M721 1167v29M724 1140v29M727 993v5M727 1092v50M730 1080v17M733 1071v17M736 1065v5M739 1062v5M742 1065v5M745 1068v5M745 1080v5M748 1071v20M751 1083v41M754 1116v38M757 1152v29M760 1182v35M760 1293v20M763 1230v59M814 1101v5M817 1104v5M817 1236v11M817 1251v14M820 1101v5M820 1227v8M820 1266v5M823 1218v11M823 1269v5M826 1212v11M826 1272v5M829 1206v11M832 1203v11M832 1275v5M835 1179v11M835 1203v11M835 1278v5M838 1203v11M841 1206v11M841 1284v5M844 1212v11M844 1290v5M847 1218v11M847 1296v5M850 1227v8M850 1299v5M853 1236v8M853 1302v5M856 1245v8M859 1254v5M862 1260v5M868 1269v5M871 1272v5M871 1302v5M874 1275v5M874 1299v5M877 1278v5M877 1296v5M880 1287v8M979 1278v5M982 1272v5M988 1263v5M988 1296v5M994 1290v5M1000 1281v5M1003 1275v5M1009 1263v5"/>
<path stroke="#37e6d8" d="M151 1284v14M154 1278v5M154 1299v5M157 1275v5M157 1302v5M160 1272v5M163 1269v5M163 1305v5M166 1266v5M166 1305v5M169 1263v5M172 1260v5M175 1257v5M178 1254v5M178 1305v5M181 1305v5M184 1251v5M184 1302v5M187 1248v5M187 1302v5M190 1299v5M193 1296v5M196 1293v8M199 1293v5M202 1248v5M202 1290v5M205 1251v5M205 1287v8M208 1287v5M211 1254v5M211 1284v8M214 1257v8M214 1278v11M217 1263v23M241 1284v17M244 1278v29M247 1272v14M247 1302v11M250 1269v11M253 1263v11M256 1254v14M259 1245v11M262 1239v8M265 1230v11M268 1224v8M271 1218v8M274 1203v17M277 1185v5M283 1179v5M289 1176v5M292 1176v5M292 1236v20M295 1176v5M295 1224v11M295 1257v23M298 1215v11M298 1278v20M298 1308v5M301 1179v5M301 1209v8M301 1299v5M304 1182v5M304 1203v8M307 1188v14M361 1269v44M364 1209v50M367 1194v17M370 1164v35M373 1152v11M376 1149v5M379 1146v5M382 1143v5M385 1110v14M385 1140v5M388 1101v8M388 1125v17M391 1098v5M397 1095v5M400 1095v5M400 1134v62M403 1095v5M403 1131v8M403 1194v14M406 1098v5M406 1128v5M406 1206v20M409 1101v5M409 1125v5M409 1227v86M412 1104v8M412 1116v8M484 1203v95M487 1173v26M490 1143v29M493 1119v26M496 1107v14M499 1101v11M502 1095v11M505 1071v5M505 1095v8M508 1068v5M508 1074v8M508 1092v8M511 1071v5M511 1095v8M514 1095v11M517 1017v8M517 1101v11M520 1014v5M520 1107v14M523 1014v5M523 1023v5M523 1116v29M526 1017v8M526 1143v26M529 1170v29M532 1200v86M607 1200v113M610 1170v29M613 1143v26M616 1077v65M619 1062v17M622 1053v11M625 1029v8M625 1044v11M628 1026v5M628 1038v11M631 1023v5M634 1026v5M634 1041v5M637 1029v20M640 1044v11M643 1053v29M646 1080v62M649 1143v29M652 1173v32M655 1206v107M715 1206v107M718 1173v29M721 1143v26M724 993v8M724 1089v53M727 990v5M727 996v5M727 1077v17M730 993v5M730 1071v11M733 1065v8M736 1062v5M739 1029v8M739 1059v5M742 1062v5M745 1065v5M748 1068v5M751 1074v11M754 1083v35M757 1116v38M760 1155v29M763 1185v47M763 1287v14M766 1260v23M811 1098v5M814 1092v5M814 1242v17M817 1227v11M817 1263v5M820 1092v5M820 1218v11M820 1269v5M823 1095v8M823 1209v11M826 1203v11M829 1197v11M829 1275v5M832 1179v11M832 1194v11M835 1176v5M835 1188v17M838 1176v17M838 1194v11M838 1281v5M841 1197v11M841 1287v5M844 1203v11M844 1293v5M847 1209v11M850 1218v11M853 1227v11M856 1239v8M856 1305v5M859 1251v5M859 1305v5M862 1257v5M862 1305v5M865 1263v5M865 1305v5M868 1266v5M868 1305v5M871 1269v5M874 1272v5M874 1302v5M877 1299v5M880 1281v8M880 1293v5M976 1281v5M976 1293v5M979 1296v5M985 1266v5M991 1296v5M997 1287v5M1003 1278v5M1006 1272v5M1009 1266v5"/>
<path stroke="#44eed2" d="M151 1278v8M151 1296v8M154 1275v5M154 1302v5M157 1272v5M157 1305v5M160 1269v5M160 1305v5M163 1266v5M163 1308v5M166 1263v5M166 1308v5M169 1260v5M169 1308v5M172 1257v5M172 1308v5M175 1308v5M178 1308v5M181 1308v5M184 1305v5M187 1305v5M190 1245v5M190 1302v5M193 1245v5M193 1299v8M196 1245v5M196 1299v5M199 1245v5M199 1296v8M202 1245v5M202 1293v8M205 1293v8M208 1290v8M211 1290v8M214 1254v5M214 1287v11M217 1257v8M217 1284v14M220 1263v32M223 1269v26M226 1272v26M229 1275v23M232 1275v26M235 1275v29M238 1275v32M241 1272v14M241 1299v14M244 1269v11M244 1305v8M247 1263v11M250 1260v11M253 1251v14M256 1245v11M259 1236v11M262 1227v14M265 1224v8M268 1218v8M271 1212v8M274 1197v8M277 1182v5M280 1179v5M283 1176v5M286 1176v5M295 1233v26M298 1176v5M298 1224v11M298 1260v20M301 1215v8M301 1278v23M301 1302v11M304 1179v5M304 1209v8M307 1185v5M307 1200v8M358 1275v38M361 1209v62M364 1191v20M367 1164v32M370 1152v14M373 1149v5M376 1143v8M379 1143v5M382 1137v8M385 1104v8M385 1122v20M388 1098v5M394 1095v5M403 1137v59M406 1095v5M406 1131v8M406 1191v17M409 1098v5M409 1128v5M409 1203v26M412 1101v5M412 1122v5M412 1230v83M415 1107v11M481 1206v107M484 1176v29M487 1146v29M490 1116v29M493 1104v17M496 1098v11M499 1092v11M502 1071v5M502 1086v11M505 1068v5M505 1074v8M505 1086v11M508 1065v5M508 1080v14M511 1068v5M511 1074v11M511 1086v11M514 1071v5M514 1086v11M517 1092v11M520 1023v5M520 1095v14M523 1104v14M526 1014v5M526 1116v29M529 1017v5M529 1146v26M532 1173v29M535 1203v110M604 1206v107M607 1173v29M610 1149v23M613 1077v68M616 1062v17M619 1053v11M622 1044v11M625 1026v5M625 1035v11M628 1023v5M631 1020v5M634 1023v5M637 1026v5M640 1032v14M643 1041v14M646 1053v29M649 1089v56M652 1149v26M655 1176v32M658 1212v101M712 1209v104M715 1176v32M718 1146v29M721 1092v53M724 1077v14M727 999v5M727 1068v11M730 990v5M730 996v5M730 1062v11M733 1056v11M736 1029v8M736 1056v8M739 1026v5M739 1035v8M739 1053v8M742 1029v11M742 1053v11M745 1056v11M748 1059v11M751 1062v14M754 1071v14M757 1080v38M760 1122v35M763 1158v29M763 1299v14M766 1188v74M766 1281v17M811 1095v5M811 1101v5M814 1104v5M814 1230v14M814 1257v11M817 1089v5M817 1218v11M817 1266v8M820 1104v5M820 1206v14M823 1101v5M823 1200v11M823 1272v5M826 1194v11M826 1275v5M829 1179v20M832 1176v5M832 1188v8M832 1278v5M835 1170v8M835 1281v5M838 1173v5M838 1191v5M838 1284v5M841 1179v20M841 1290v5M844 1191v14M844 1296v5M847 1197v14M847 1299v5M850 1206v14M850 1302v5M853 1218v11M853 1305v5M856 1230v11M859 1242v11M862 1254v5M865 1260v5M868 1263v5M871 1266v5M871 1305v5M877 1275v5M880 1278v5M880 1296v5M883 1287v8M973 1284v11M979 1275v5M982 1269v5M985 1299v5M994 1293v5M1000 1284v5M1009 1269v5"/>
<path stroke="#52f5cb" d="M148 1278v23M151 1272v8M151 1302v5M154 1269v8M154 1305v5M157 1269v5M157 1308v5M160 1266v5M160 1308v5M163 1263v5M166 1260v5M169 1257v5M172 1254v5M175 1254v5M184 1308v5M187 1308v5M190 1305v8M193 1242v5M193 1305v5M196 1242v5M196 1302v8M199 1242v5M199 1302v5M202 1299v8M205 1245v8M205 1299v8M208 1296v11M211 1296v11M214 1251v5M214 1296v11M217 1254v5M217 1296v11M220 1257v8M220 1293v14M223 1260v11M223 1293v14M226 1263v11M226 1296v11M229 1266v11M229 1296v14M232 1266v11M232 1299v11M235 1266v11M235 1302v11M238 1266v11M238 1305v8M241 1263v11M244 1260v11M247 1257v8M250 1251v11M253 1242v11M256 1236v11M259 1227v11M262 1221v8M265 1218v8M268 1212v8M271 1206v8M274 1182v17M277 1179v5M280 1176v5M292 1173v5M295 1173v5M298 1173v5M298 1233v29M301 1176v5M301 1221v14M301 1257v23M304 1176v5M304 1215v8M304 1275v38M307 1182v5M307 1206v8M307 1296v14M310 1185v23M355 1272v41M358 1206v71M361 1188v23M364 1164v29M367 1152v14M370 1146v8M373 1143v8M376 1140v5M379 1137v8M382 1107v23M382 1131v8M385 1101v5M391 1095v5M394 1092v5M397 1092v5M400 1092v5M403 1092v5M406 1092v5M406 1137v56M409 1071v11M409 1095v5M409 1131v5M409 1191v14M412 1071v14M412 1098v5M412 1125v5M412 1203v29M415 1071v11M415 1104v5M415 1116v8M415 1224v89M418 1071v8M478 1206v107M481 1179v29M484 1152v26M487 1119v29M490 1104v14M493 1092v14M496 1086v14M499 1080v14M502 1068v5M502 1074v14M505 1065v5M505 1080v8M508 1062v5M511 1065v5M511 1083v5M514 1017v8M514 1068v5M514 1074v14M517 1014v5M517 1023v5M517 1080v14M520 1086v11M523 1011v5M523 1026v5M523 1092v14M526 1023v5M526 1101v17M529 1020v5M529 1116v32M532 1146v29M535 1173v32M538 1200v113M601 1206v107M604 1176v32M607 1152v23M610 1083v68M613 1065v14M616 1056v8M619 1047v8M622 1029v17M625 1014v14M628 996v5M628 1008v17M631 993v14M631 1008v14M634 1011v14M637 1014v14M640 1023v11M643 1032v11M646 1041v14M649 1053v38M652 1107v44M655 1152v26M658 1179v35M661 1212v101M709 1209v104M712 1176v35M715 1149v29M718 1095v53M721 993v8M721 1077v17M724 990v5M724 999v5M724 1065v14M727 1059v11M730 1053v11M733 990v8M733 1029v8M733 1047v11M736 1026v5M736 1035v8M736 1044v14M739 1023v5M739 1041v14M742 1026v5M742 1038v17M745 1029v11M745 1044v14M748 1047v14M751 1053v11M754 1059v14M757 1068v14M760 1080v44M763 1125v35M766 1161v29M766 1296v17M769 1191v104M811 1092v5M811 1230v38M814 1089v5M814 1215v17M814 1266v8M817 1107v5M817 1203v17M817 1272v5M820 1089v5M820 1194v14M820 1272v5M823 1092v5M823 1188v14M823 1275v5M826 1179v17M829 1176v5M829 1278v5M832 1170v8M832 1281v5M835 1167v5M835 1284v5M838 1170v5M838 1287v5M841 1173v8M841 1293v5M844 1179v14M844 1299v5M847 1185v14M847 1302v5M850 1194v14M850 1305v5M853 1203v17M856 1215v17M856 1308v5M859 1230v14M859 1308v5M862 1251v5M862 1308v5M865 1254v8M865 1308v5M868 1260v5M868 1308v5M871 1263v5M874 1269v5M874 1305v5M877 1272v5M877 1302v5M880 1275v5M880 1299v5M883 1281v8M883 1293v8M976 1278v5M976 1296v5M979 1272v5M982 1299v5M988 1299v5M997 1290v5M1003 1281v5M1006 1275v5"/>
<path stroke="#5efac6" d="M145 1278v8M145 1296v8M148 1275v5M148 1299v8M151 1305v5M154 1308v5M157 1266v5M160 1263v5M163 1260v5M166 1257v5M169 1254v5M193 1308v5M196 1308v5M199 1305v8M202 1242v5M202 1305v8M205 1242v5M205 1305v8M208 1305v8M211 1305v8M214 1305v8M217 1251v5M217 1305v8M220 1251v8M220 1305v8M223 1254v8M223 1305v8M226 1257v8M226 1305v8M229 1257v11M229 1308v5M232 1257v11M232 1308v5M235 1257v11M238 1257v11M241 1254v11M244 1251v11M247 1245v14M250 1239v14M253 1233v11M256 1227v11M259 1221v8M262 1218v5M265 1215v5M268 1209v5M271 1182v5M271 1203v5M274 1176v8M277 1176v5M280 1173v5M301 1173v5M301 1233v26M304 1173v5M304 1221v17M304 1251v26M307 1176v8M307 1212v11M307 1269v29M307 1308v5M310 1182v5M310 1206v8M310 1287v26M313 1188v17M352 1245v68M355 1200v74M358 1179v29M361 1161v29M364 1149v17M367 1146v8M370 1143v5M373 1140v5M376 1137v5M379 1113v14M379 1134v5M382 1101v8M382 1128v5M385 1098v5M388 1095v5M397 1089v5M400 1086v8M403 1077v17M406 1071v23M409 1068v5M409 1080v17M409 1134v26M409 1167v26M412 1068v5M412 1083v5M412 1092v8M412 1128v8M412 1188v17M415 1068v5M415 1080v8M415 1098v8M415 1122v8M415 1200v26M418 1068v5M418 1077v8M418 1107v14M418 1215v98M421 1071v8M475 1203v110M478 1179v29M481 1155v26M484 1119v35M487 1101v20M490 1089v17M493 1083v11M496 1074v14M499 1068v14M502 1059v11M505 1059v8M508 1059v5M511 1059v8M514 1023v5M514 1065v5M517 1071v11M520 1011v5M520 1026v5M520 1074v14M523 1083v11M526 1011v5M526 1089v14M529 1014v5M529 1101v17M532 1119v29M535 1149v26M538 1173v29M541 1197v116M598 1200v113M601 1173v35M604 1155v23M607 1131v23M610 1068v17M613 1059v8M616 1050v8M619 1011v17M619 1032v17M622 1002v29M625 993v23M628 993v5M628 999v11M631 1005v5M634 993v20M637 1002v14M640 1011v14M643 1020v14M646 1032v11M649 1044v11M652 1059v50M655 1125v29M658 1155v26M661 1176v38M664 1206v107M706 1203v110M709 1176v35M712 1152v26M715 1101v50M718 1077v20M721 999v5M721 1065v14M724 1056v11M727 1002v5M727 1047v14M730 999v5M730 1041v14M733 996v8M733 1026v5M733 1035v14M736 1041v5M742 1023v5M745 1026v5M745 1038v8M748 1029v20M751 1041v14M754 1047v14M757 1056v14M760 1065v17M763 1080v47M766 1128v35M769 1161v32M769 1293v8M772 1188v104M775 1224v59M808 1098v5M808 1227v41M811 1104v5M811 1212v20M811 1266v8M814 1107v5M814 1200v17M814 1272v5M817 1086v5M817 1191v14M817 1275v5M820 1107v5M820 1182v14M820 1275v5M823 1089v5M823 1104v5M823 1173v17M823 1278v5M826 1095v11M826 1167v14M826 1278v5M829 1164v14M829 1281v5M832 1164v8M835 1164v5M838 1164v8M838 1290v8M841 1164v11M841 1296v5M844 1164v17M844 1302v5M847 1167v20M847 1305v5M850 1179v17M853 1188v17M853 1308v5M856 1200v17M859 1215v17M862 1230v5M868 1257v5M871 1260v5M871 1308v5M874 1266v5M874 1308v5M877 1269v5M877 1305v5M880 1272v5M880 1302v5M883 1275v8M883 1299v5M886 1281v14M973 1281v5M973 1293v5M979 1299v5M991 1299v5M994 1296v5M1000 1287v5M1006 1278v5M1009 1272v5M1012 1266v5"/>
<path stroke="#6dfdbf" d="M142 1281v5M142 1299v8M145 1284v5M145 1302v8M148 1305v8M151 1308v5M208 1242v5M217 1248v5M220 1248v5M223 1248v8M226 1248v11M229 1251v8M232 1251v8M235 1248v11M238 1248v11M241 1245v11M244 1239v14M247 1236v11M250 1230v11M253 1227v8M256 1224v5M259 1218v5M262 1215v5M265 1209v8M268 1206v5M271 1179v5M271 1185v5M277 1173v5M280 1170v5M295 1170v5M298 1170v5M301 1170v5M304 1170v5M304 1236v17M307 1173v5M307 1221v50M310 1176v8M310 1212v17M310 1260v29M313 1179v11M313 1203v11M313 1275v38M316 1185v20M349 1209v104M352 1188v59M355 1167v35M358 1152v29M361 1149v14M364 1143v8M367 1143v5M370 1140v5M373 1137v5M376 1134v5M379 1104v11M379 1125v11M382 1098v5M385 1095v5M391 1092v5M397 1086v5M400 1074v14M403 1068v11M406 1068v5M409 1065v5M409 1158v11M412 1065v5M412 1086v8M412 1134v26M412 1164v26M415 1065v5M415 1086v14M415 1128v8M415 1182v20M418 1065v5M418 1083v5M418 1101v8M418 1119v8M418 1194v23M421 1068v5M421 1077v8M421 1206v107M424 1071v8M424 1263v50M469 1224v89M472 1197v116M475 1179v26M478 1158v23M481 1122v35M484 1098v23M487 1086v17M490 1077v14M493 1065v20M496 1056v20M499 1053v17M502 1053v8M505 1053v8M508 1053v8M511 1020v8M511 1053v8M514 1014v5M514 1026v5M514 1053v14M517 1026v5M517 1056v17M520 1062v14M523 1071v14M526 1026v5M526 1077v14M529 1011v5M529 1023v5M529 1086v17M532 1014v11M532 1098v23M535 1119v32M538 1149v26M541 1170v29M544 1188v125M547 1215v98M592 1236v77M595 1191v122M598 1173v29M601 1155v20M604 1140v17M607 1068v65M610 1062v8M613 1053v8M616 999v26M616 1041v11M619 996v17M619 1026v8M622 993v11M628 990v5M631 990v5M637 996v8M640 999v14M643 1005v17M646 1020v14M649 1035v11M652 1047v14M655 1065v62M658 1134v23M661 1155v23M664 1173v35M667 1194v119M670 1260v53M700 1230v83M703 1194v119M706 1173v32M709 1152v26M712 1116v38M715 1077v26M718 996v5M718 1062v17M721 990v5M721 1053v14M724 1002v5M724 1044v14M727 987v5M727 1029v20M730 987v5M730 1002v5M730 1026v17M733 1002v5M733 1023v5M736 990v14M736 1023v5M739 1020v5M742 1020v5M745 1023v5M748 1023v8M751 1026v17M754 1026v23M757 1041v17M760 1050v17M763 1062v20M766 1077v53M769 1128v35M769 1299v14M772 1158v32M772 1290v8M775 1182v44M775 1281v11M778 1203v83M805 1218v53M808 1092v8M808 1101v5M808 1206v23M808 1266v8M811 1089v5M811 1107v5M811 1194v20M811 1272v5M814 1086v5M814 1185v17M814 1275v5M817 1110v5M817 1176v17M817 1278v5M820 1086v5M820 1167v17M820 1278v5M823 1107v5M823 1164v11M826 1092v5M826 1104v5M826 1161v8M826 1281v5M829 1161v5M829 1284v5M832 1161v5M832 1284v5M835 1158v8M835 1287v8M838 1158v8M838 1296v5M841 1161v5M841 1299v8M844 1161v5M844 1305v5M847 1161v8M847 1308v5M850 1164v17M850 1308v5M853 1167v23M856 1182v20M859 1194v23M862 1209v23M865 1227v5M874 1263v5M877 1266v5M877 1308v5M880 1269v5M880 1305v5M883 1272v5M883 1302v5M886 1275v8M886 1293v8M973 1296v5M976 1275v5M979 1269v5M997 1293v5M1003 1284v5M1012 1269v5"/>
<path stroke="#78ffb8" d="M136 1281v5M136 1299v8M139 1281v5M139 1296v17M142 1296v5M142 1305v8M145 1308v5M208 1251v5M211 1239v5M211 1251v5M220 1245v5M223 1245v5M226 1242v8M229 1239v14M232 1239v14M235 1236v14M238 1236v14M241 1236v11M244 1236v5M247 1233v5M250 1227v5M253 1224v5M256 1221v5M259 1215v5M262 1212v5M268 1182v5M271 1200v5M283 1167v5M286 1164v5M289 1173v5M307 1170v5M310 1170v8M310 1227v35M313 1173v8M313 1212v65M316 1176v11M316 1203v26M316 1251v62M319 1182v29M319 1266v47M322 1284v29M340 1266v47M343 1200v113M346 1182v131M349 1161v50M352 1149v41M355 1146v23M358 1143v11M361 1140v11M364 1140v5M367 1137v8M370 1134v8M373 1131v8M376 1113v23M379 1101v5M382 1095v5M388 1092v5M394 1089v5M397 1074v14M400 1068v8M403 1065v5M406 1065v5M409 1062v5M412 1062v5M412 1158v8M415 1062v5M415 1134v50M418 1062v5M418 1086v17M418 1125v8M418 1176v20M421 1065v5M421 1083v5M421 1101v23M421 1188v20M424 1068v5M424 1077v8M424 1197v68M427 1209v104M430 1236v77M463 1224v89M466 1206v107M469 1191v35M472 1176v23M475 1158v23M478 1122v38M481 1095v29M484 1080v20M487 1065v23M490 1056v23M493 1053v14M496 1050v8M499 1050v5M502 1050v5M505 1050v5M508 1023v5M508 1050v5M511 1017v5M511 1026v5M511 1050v5M514 1029v5M514 1050v5M517 1011v5M517 1029v5M517 1053v5M520 1029v5M520 1053v11M523 1029v5M523 1056v17M526 1065v14M529 1026v5M529 1074v14M532 1011v5M532 1023v5M532 1083v17M535 1014v8M535 1095v26M538 1119v32M541 1149v23M544 1164v26M547 1179v38M550 1194v119M553 1215v98M586 1221v92M589 1197v116M592 1182v56M595 1167v26M598 1155v20M601 1143v14M604 1071v71M607 1062v8M610 1056v8M613 996v29M613 1047v8M616 993v8M616 1023v20M619 993v5M625 990v5M634 990v5M637 993v5M640 996v5M643 996v11M646 1002v20M649 1023v14M652 1038v11M655 1050v17M658 1080v56M661 1140v17M664 1155v20M667 1170v26M670 1182v80M673 1197v116M676 1215v98M694 1215v98M697 1197v116M700 1182v50M703 1167v29M706 1152v23M709 1125v29M712 1077v41M715 1062v17M718 993v5M718 999v5M718 1053v11M721 1002v5M721 1044v11M724 1005v5M724 1026v20M727 1005v5M727 1023v8M730 1005v5M730 1020v8M733 987v5M733 1005v5M733 1017v8M736 1002v5M736 1017v8M739 993v11M739 1017v5M745 1020v5M748 1020v5M751 1020v8M754 1023v5M757 1023v20M760 1026v26M763 1044v20M766 1059v20M769 1074v56M772 1119v41M772 1296v17M775 1152v32M775 1290v8M778 1170v35M778 1284v8M781 1188v101M784 1203v80M787 1218v59M796 1224v47M799 1212v62M802 1203v74M805 1098v5M805 1194v26M805 1269v11M808 1089v5M808 1104v5M808 1185v23M808 1272v8M811 1086v5M811 1176v20M811 1275v8M814 1110v5M814 1167v20M814 1278v5M817 1164v14M817 1281v5M820 1110v5M820 1161v8M820 1281v5M823 1110v5M823 1158v8M823 1281v5M826 1107v5M826 1158v5M826 1284v5M829 1095v11M829 1158v5M829 1287v5M832 1155v8M832 1287v8M835 1155v5M835 1293v8M838 1155v5M838 1299v8M841 1155v8M841 1305v5M844 1158v5M844 1308v5M847 1158v5M850 1158v8M853 1161v8M856 1164v20M859 1170v26M862 1188v23M865 1200v29M868 1215v14M880 1308v5M883 1269v5M883 1305v5M886 1269v8M886 1299v5M889 1272v23M970 1284v11M973 1278v5M976 1272v5M976 1299v5M982 1302v5M985 1302v5M988 1302v5M994 1299v5M1000 1290v5M1006 1281v5M1009 1275v5"/>
<path stroke="#86ffb0" d="M124 1308v5M127 1281v5M127 1305v8M130 1281v5M130 1302v11M133 1281v5M133 1296v17M136 1296v5M136 1305v8M145 1293v5M214 1236v5M217 1233v5M223 1242v5M226 1239v5M229 1236v5M232 1233v8M235 1233v5M238 1233v5M241 1233v5M244 1233v5M247 1230v5M256 1218v5M268 1203v5M283 1173v5M292 1170v5M313 1170v5M316 1170v8M316 1227v26M319 1170v14M319 1209v59M322 1170v116M325 1167v146M328 1167v146M331 1164v149M334 1161v152M337 1158v155M340 1155v113M343 1152v50M346 1149v35M349 1146v17M352 1143v8M355 1140v8M358 1140v5M361 1137v5M364 1134v8M367 1131v8M370 1125v11M373 1122v11M376 1110v5M379 1098v5M394 1071v8M397 1068v8M400 1065v5M403 1062v5M406 1062v5M415 1059v5M418 1059v5M418 1131v47M421 1062v5M421 1086v17M421 1122v11M421 1164v26M424 1062v8M424 1083v8M424 1104v20M424 1176v23M427 1065v20M427 1185v26M430 1191v47M433 1197v116M436 1203v110M439 1209v104M442 1215v98M445 1218v95M448 1218v95M451 1215v98M454 1212v101M457 1209v104M460 1203v110M463 1194v32M466 1185v23M469 1176v17M472 1158v20M475 1125v35M478 1089v35M481 1068v29M484 1056v26M487 1053v14M490 1050v8M493 1050v5M496 1047v5M499 1047v5M502 1047v5M505 1047v5M508 1020v5M508 1026v5M508 1047v5M511 1029v5M511 1047v5M514 1032v5M514 1047v5M517 1032v5M517 1047v8M520 1032v5M520 1050v5M523 1008v5M523 1053v5M526 1008v5M526 1029v5M526 1056v11M529 1008v5M529 1029v5M529 1062v14M532 1026v5M532 1068v17M535 1011v5M535 1020v8M535 1077v20M538 1089v32M541 1116v35M544 1146v20M547 1158v23M550 1167v29M553 1176v41M556 1185v128M559 1194v119M562 1200v113M565 1206v107M568 1209v104M571 1209v104M574 1206v107M577 1203v110M580 1194v119M583 1188v125M586 1179v44M589 1170v29M592 1164v20M595 1155v14M598 1143v14M601 1071v74M604 1065v8M607 996v17M607 1059v5M610 993v29M610 1050v8M613 993v5M613 1023v26M619 990v5M622 990v5M640 993v5M646 996v8M649 1002v23M652 1029v11M655 1041v11M658 1053v29M661 1095v47M664 1143v14M667 1155v17M670 1164v20M673 1170v29M676 1179v38M679 1185v128M682 1188v125M685 1191v122M688 1188v125M691 1185v128M694 1176v41M697 1170v29M700 1161v23M703 1149v20M706 1131v23M709 1080v47M712 1062v17M715 996v8M715 1053v11M718 1002v5M718 1041v14M721 1005v5M721 1026v20M724 987v5M724 1008v5M724 1017v11M727 1008v17M730 1008v14M733 1008v11M736 987v5M736 1005v14M739 1002v5M739 1014v5M742 999v5M742 1014v8M745 1017v5M748 1017v5M751 1017v5M754 1017v8M757 1020v5M760 1023v5M763 1026v20M766 1029v32M769 1047v29M772 1065v56M775 1086v68M775 1296v17M778 1140v32M778 1290v8M781 1158v32M781 1287v8M784 1170v35M784 1281v11M787 1179v41M787 1275v14M790 1185v101M793 1188v98M796 1185v41M796 1269v17M799 1182v32M799 1272v14M802 1179v26M802 1275v11M805 1092v8M805 1101v8M805 1170v26M805 1278v8M808 1086v5M808 1107v5M808 1164v23M808 1278v8M811 1083v5M811 1110v5M811 1161v17M811 1281v5M814 1083v5M814 1113v5M814 1158v11M814 1281v8M817 1083v5M817 1113v5M817 1158v8M817 1284v5M820 1113v5M820 1155v8M820 1284v5M823 1155v5M823 1284v8M826 1110v5M826 1155v5M826 1287v5M829 1104v8M829 1155v5M829 1290v8M832 1152v5M832 1293v11M835 1152v5M835 1299v11M838 1152v5M838 1305v8M841 1152v5M841 1308v5M844 1152v8M847 1152v8M850 1155v5M853 1155v8M856 1158v8M859 1158v14M862 1161v29M865 1170v32M868 1185v32M871 1197v29M883 1308v5M886 1302v5M889 1269v5M889 1293v5M892 1272v17M970 1281v5M970 1293v5M979 1302v5M997 1296v5M1003 1287v5M1012 1272v5"/>
<path stroke="#92fda9" d="M121 1308v5M124 1305v5M127 1302v5M130 1299v5M142 1284v5M208 1245v5M214 1248v5M220 1230v5M223 1227v5M226 1224v5M253 1221v5M259 1212v5M262 1209v5M265 1206v5M271 1188v5M283 1170v5M289 1161v5M298 1167v5M301 1167v5M304 1167v5M307 1167v5M313 1167v5M316 1167v5M319 1167v5M322 1167v5M328 1164v5M331 1161v5M334 1158v5M337 1155v5M340 1152v5M358 1137v5M361 1134v5M364 1131v5M367 1128v5M373 1119v5M376 1107v5M379 1095v5M385 1092v5M391 1071v8M394 1068v5M394 1077v5M394 1086v5M397 1065v5M400 1062v5M418 1056v5M421 1059v5M421 1131v35M424 1059v5M424 1089v17M424 1122v14M424 1146v32M427 1062v5M427 1083v8M427 1104v20M427 1161v26M430 1065v23M430 1170v23M433 1071v8M433 1176v23M436 1182v23M439 1188v23M442 1191v26M445 1194v26M448 1194v26M451 1194v23M454 1194v20M457 1191v20M460 1188v17M463 1179v17M466 1173v14M469 1158v20M472 1131v29M475 1065v62M478 1053v38M481 1050v20M484 1050v8M487 1047v8M490 1047v5M493 1044v8M496 1044v5M499 1044v5M502 1044v5M505 1023v11M505 1041v8M508 1029v8M508 1041v8M511 1014v5M511 1032v5M511 1041v8M514 1035v5M514 1041v8M517 1035v5M517 1044v5M520 1008v5M520 1035v5M520 1047v5M523 1032v5M523 1047v8M526 1032v5M526 1050v8M529 1056v8M532 1008v5M532 1059v11M535 1008v5M535 1065v14M538 1011v14M538 1071v20M541 1080v38M544 1098v50M547 1143v17M550 1152v17M553 1158v20M556 1164v23M559 1170v26M562 1173v29M565 1176v32M568 1176v35M571 1176v35M574 1176v32M577 1173v32M580 1170v26M583 1167v23M586 1164v17M589 1158v14M592 1152v14M595 1143v14M598 1071v74M601 996v11M601 1065v8M604 993v23M604 1059v8M607 993v5M607 1011v11M607 1053v8M610 990v5M610 1020v11M610 1044v8M613 990v5M616 990v5M637 990v5M643 993v5M649 996v8M652 1002v29M655 1032v11M658 1044v11M661 1062v35M664 1110v35M667 1143v14M670 1152v14M673 1158v14M676 1164v17M679 1167v20M682 1170v20M685 1170v23M688 1167v23M691 1164v23M694 1161v17M697 1155v17M700 1146v17M703 1131v20M706 1083v50M709 1062v20M712 1050v14M715 1002v5M715 1041v14M718 990v5M718 1005v8M718 1023v20M721 1008v20M724 1011v8M739 1005v11M742 996v5M742 1002v14M745 1011v8M748 1014v5M751 1014v5M754 1014v5M757 1017v5M760 1020v5M763 1023v5M769 1032v17M772 1038v29M775 1047v41M778 1065v77M778 1296v8M778 1308v5M781 1107v53M781 1293v5M784 1140v32M784 1290v5M787 1152v29M787 1287v8M790 1158v29M790 1284v8M793 1161v29M793 1284v8M796 1161v26M796 1284v8M799 1161v23M799 1284v5M802 1092v17M802 1158v23M802 1284v5M805 1086v8M805 1107v8M805 1158v14M805 1284v5M808 1083v5M808 1110v8M808 1155v11M808 1284v8M811 1080v5M811 1113v5M811 1155v8M811 1284v8M814 1080v5M814 1116v5M814 1152v8M814 1287v5M817 1080v5M817 1116v5M817 1152v8M817 1287v5M820 1116v5M820 1152v5M820 1287v8M823 1113v8M823 1152v5M823 1290v8M826 1113v5M826 1149v8M826 1290v11M829 1110v5M829 1149v8M829 1296v11M832 1149v5M832 1302v11M835 1149v5M835 1308v5M838 1149v5M841 1149v5M844 1149v5M847 1149v5M850 1149v8M853 1149v8M856 1149v11M859 1149v11M862 1152v11M865 1155v17M868 1155v32M871 1161v38M886 1305v5M889 1296v8M892 1287v5M895 1275v5M973 1275v5M973 1299v5M991 1302v5M1000 1293v5M1006 1284v5M1009 1278v5"/>
<path stroke="#a0faa1" d="M124 1284v5M139 1284v5M145 1287v5M211 1242v5M217 1245v5M235 1230v5M250 1224v5M268 1185v5M271 1197v5M286 1167v5M310 1167v5M322 1164v5M325 1164v5M328 1161v5M343 1149v5M346 1146v5M352 1140v5M355 1137v5M367 1125v5M370 1122v5M373 1116v5M376 1104v5M382 1092v5M388 1074v5M391 1089v5M394 1080v8M421 1053v8M424 1056v5M424 1134v14M427 1059v5M427 1089v17M427 1122v41M430 1062v5M430 1086v41M430 1143v29M433 1065v8M433 1077v14M433 1155v23M436 1068v17M436 1164v20M439 1170v20M442 1176v17M445 1179v17M448 1182v14M451 1182v14M454 1182v14M457 1179v14M460 1176v14M463 1167v14M466 1158v17M469 1059v56M469 1134v26M472 1056v77M475 1053v14M478 1050v5M481 1047v5M484 1047v5M487 1044v5M490 1041v8M493 1041v5M496 1038v8M499 1038v8M502 1026v20M505 1032v11M508 1017v5M508 1035v8M511 1035v8M514 1011v5M514 1038v5M517 1038v8M520 1038v11M523 1035v14M526 1035v5M526 1047v5M529 1032v5M529 1050v8M532 1029v5M532 1053v8M535 1026v5M535 1059v8M538 1008v5M538 1023v5M538 1062v11M541 1008v14M541 1068v14M544 1074v26M547 1080v65M550 1137v17M553 1146v14M556 1152v14M559 1158v14M562 1158v17M565 1161v17M568 1161v17M571 1164v14M574 1164v14M577 1161v14M580 1161v11M583 1158v11M586 1155v11M589 1149v11M592 1080v20M592 1143v11M595 996v11M595 1071v50M595 1131v14M598 993v20M598 1065v8M601 990v8M601 1005v11M601 1062v5M604 990v5M604 1014v8M604 1056v5M607 990v5M607 1020v8M607 1050v5M610 1029v17M640 990v5M646 993v5M652 996v8M655 1020v14M658 1038v8M661 1047v17M664 1077v35M667 1128v17M670 1143v11M673 1149v11M676 1155v11M679 1158v11M682 1158v14M685 1158v14M688 1158v11M691 1155v11M694 1152v11M697 1146v11M700 1134v14M703 1086v47M706 1062v23M709 1050v14M712 996v11M712 1041v11M715 993v5M715 1005v8M715 1026v17M718 1011v14M745 1002v11M748 1008v8M751 1011v5M766 1026v5M772 1035v5M775 1041v8M778 1044v23M778 1302v8M781 1047v62M781 1296v8M781 1308v5M784 1053v89M784 1293v8M787 1062v92M787 1293v5M790 1089v71M790 1290v5M793 1128v35M793 1290v5M796 1092v17M796 1137v26M796 1290v5M799 1086v29M799 1140v23M799 1287v8M802 1083v11M802 1107v11M802 1143v17M802 1287v8M805 1080v8M805 1113v8M805 1143v17M805 1287v8M808 1077v8M808 1116v8M808 1143v14M808 1290v5M811 1077v5M811 1116v8M811 1143v14M811 1290v5M814 1074v8M814 1119v8M814 1143v11M814 1290v8M817 1077v5M817 1119v8M817 1140v14M817 1290v8M820 1119v8M820 1137v17M820 1293v8M823 1119v11M823 1134v20M823 1296v17M826 1116v35M826 1299v14M829 1113v38M829 1305v8M832 1113v38M835 1116v35M838 1119v32M841 1119v32M844 1119v32M847 1119v32M850 1119v32M853 1122v29M856 1125v26M859 1128v23M862 1131v23M865 1134v23M868 1137v20M871 1140v23M886 1308v5M889 1302v5M892 1290v8M895 1278v8M967 1287v5M970 1278v5M970 1296v5M976 1269v5M976 1302v5M997 1299v5M1003 1290v5M1012 1275v5M1015 1269v5"/>
<path stroke="#acf59a" d="M130 1296v5M133 1284v5M136 1284v5M145 1290v5M214 1239v5M220 1242v5M223 1239v5M226 1236v5M229 1221v5M244 1230v5M247 1227v5M256 1215v5M271 1191v8M289 1164v5M295 1167v5M319 1164v5M331 1158v5M349 1143v5M358 1134v5M361 1131v5M364 1128v5M373 1113v5M424 1050v8M427 1056v5M430 1059v5M430 1125v20M433 1089v68M436 1065v5M436 1083v35M436 1143v23M439 1065v32M439 1155v17M442 1065v26M442 1161v17M445 1065v20M445 1167v14M448 1065v17M448 1170v14M451 1065v17M451 1170v14M454 1065v17M454 1170v14M457 1065v20M457 1170v11M460 1062v29M460 1164v14M463 1062v41M463 1155v14M466 1059v68M466 1134v26M469 1056v5M469 1113v23M472 1053v5M484 1044v5M487 1041v5M490 1038v5M493 1038v5M496 1035v5M499 1029v11M505 1020v5M526 1038v11M529 1035v5M529 1044v8M532 1005v5M532 1032v5M532 1050v5M535 1005v5M535 1029v5M535 1053v8M538 1005v5M538 1026v5M538 1056v8M541 1020v8M541 1062v8M544 1008v14M544 1065v11M547 1011v5M547 1068v14M550 1074v65M553 1077v38M553 1134v14M556 1143v11M559 1149v11M562 1152v8M565 1152v11M568 1155v8M571 1155v11M574 1155v11M577 1155v8M580 1152v11M583 1152v8M586 999v8M586 1146v11M589 996v14M589 1077v29M589 1143v8M592 996v17M592 1071v11M592 1098v23M592 1131v14M595 993v5M595 1005v11M595 1065v8M595 1119v14M598 990v5M598 1011v8M598 1062v5M601 1014v8M601 1056v8M604 1020v8M604 1053v5M607 1026v11M607 1041v11M613 987v5M616 987v5M619 987v5M622 987v5M625 987v5M628 987v5M631 987v5M649 993v5M655 999v23M658 1026v14M661 1041v8M664 1053v26M667 1089v41M670 1131v14M673 1143v8M676 1146v11M679 1149v11M682 1152v8M685 1152v8M688 1149v11M691 1149v8M694 1143v11M697 1134v14M700 1092v44M703 1065v23M706 1050v14M709 1041v11M712 1005v5M712 1026v17M715 1011v17M721 987v5M730 984v5M733 984v5M736 984v5M739 990v5M745 999v5M748 984v5M748 1005v5M751 990v5M751 1008v5M754 1011v5M769 1029v5M775 1038v5M781 1302v8M784 1050v5M784 1299v14M787 1056v8M787 1296v5M790 1059v32M790 1293v8M793 1062v68M793 1293v5M796 1062v32M796 1107v32M796 1293v5M799 1062v26M799 1113v29M799 1293v5M802 1050v5M802 1065v20M802 1116v29M802 1293v5M805 1050v5M805 1065v17M805 1119v26M805 1293v5M808 1065v14M808 1122v23M808 1293v8M811 1065v14M811 1122v23M811 1293v8M814 1059v17M814 1125v20M814 1296v8M814 1308v5M817 1125v17M817 1296v17M820 1125v14M820 1299v14M823 1128v8M889 1305v5M892 1296v5M895 1284v8M898 1275v5M967 1284v5M967 1290v5M973 1272v5M982 1305v5M985 1305v5M988 1305v5M994 1302v5M1000 1296v5M1009 1281v5M1015 1272v5"/>
<path stroke="#bbee91" d="M118 1308v5M121 1287v5M121 1305v5M124 1302v5M127 1284v5M127 1299v5M130 1284v5M133 1293v5M136 1293v5M139 1293v5M142 1293v5M217 1236v5M220 1233v5M223 1230v5M229 1233v5M232 1230v5M238 1230v5M265 1185v5M286 1173v5M334 1155v5M337 1152v5M376 1101v5M379 1092v5M391 1077v5M427 1053v5M433 1062v5M436 1116v29M439 1062v5M439 1095v62M442 1062v5M442 1089v29M442 1146v17M445 1062v5M445 1083v26M445 1155v14M448 1062v5M448 1080v23M448 1158v14M451 1062v5M451 1080v23M451 1161v11M454 1062v5M454 1080v23M454 1161v11M457 1062v5M457 1083v23M457 1158v14M460 1089v23M460 1152v14M463 1059v5M463 1101v56M466 1125v11M475 1050v5M478 1047v5M481 1044v5M493 1035v5M496 1032v5M502 1023v5M517 1008v5M526 1005v5M529 1005v5M529 1038v8M532 1035v17M535 1032v5M535 1050v5M538 1029v5M538 1053v5M541 1005v5M541 1026v5M541 1056v8M544 1005v5M544 1020v5M544 1059v8M547 1005v8M547 1014v8M547 1065v5M550 1005v14M550 1065v11M553 1005v11M553 1068v11M553 1113v23M556 1005v8M556 1071v74M559 1005v5M559 1074v38M559 1137v14M562 1005v5M562 1077v26M562 1143v11M565 1005v5M565 1083v11M565 1146v8M568 1005v5M568 1149v8M571 1002v8M571 1149v8M574 1002v8M574 1149v8M577 999v11M577 1149v8M580 999v14M580 1080v17M580 1146v8M583 999v14M583 1077v26M583 1143v11M586 996v5M586 1005v8M586 1071v41M586 1140v8M589 993v5M589 1008v8M589 1068v11M589 1104v20M589 1128v17M592 993v5M592 1011v5M592 1065v8M592 1119v14M595 990v5M595 1014v5M595 1062v5M598 1017v5M598 1059v5M601 987v5M601 1020v5M601 1053v5M604 987v5M604 1026v5M604 1047v8M607 987v5M607 1035v8M610 987v5M634 987v5M643 990v5M652 993v5M655 996v5M658 999v29M661 1032v11M664 1044v11M667 1056v35M670 1095v38M673 1134v11M676 1140v8M679 1143v8M682 1146v8M685 1146v8M688 1143v8M691 1140v11M694 1131v14M697 1095v41M700 1068v26M703 1050v17M706 1041v11M709 999v11M709 1029v14M712 993v5M712 1008v20M727 984v5M748 987v5M757 1014v5M760 1017v5M778 1041v5M781 1029v5M787 1053v5M787 1299v14M790 1299v5M790 1308v5M793 1044v5M793 1059v5M793 1296v8M793 1308v5M796 1296v5M799 1050v5M799 1296v5M802 1062v5M802 1296v5M805 1296v8M805 1308v5M808 1053v5M808 1299v14M811 1062v5M811 1299v14M814 1302v8M889 1308v5M892 1299v5M895 1290v5M898 1278v8M967 1281v5M967 1293v5M970 1275v5M970 1299v5M973 1302v5M979 1305v5M991 1305v5M1003 1293v5M1006 1287v5M1012 1278v5"/>
<path stroke="#c8e688" d="M109 1299v5M112 1296v5M115 1293v5M118 1290v5M226 1227v5M241 1230v5M253 1218v5M256 1185v5M259 1185v5M259 1209v5M262 1185v5M262 1206v5M265 1203v5M268 1200v5M292 1158v5M316 1164v5M340 1149v5M352 1101v11M370 1119v5M373 1110v5M427 1050v5M430 1056v5M436 1062v5M442 1116v32M445 1107v50M448 1101v23M448 1143v17M451 1101v17M451 1149v14M454 1101v17M454 1146v17M457 1059v5M457 1104v20M457 1143v17M460 1059v5M460 1110v44M466 1056v5M484 1041v5M487 1038v5M490 1035v5M493 1032v5M496 1029v5M499 1026v5M523 1005v5M535 1035v17M538 1032v5M538 1047v8M541 1029v5M541 1053v5M544 1023v5M544 1056v5M547 1020v5M547 1059v8M550 1017v5M550 1062v5M553 1014v5M553 1065v5M556 1002v5M556 1011v8M556 1065v8M559 1002v5M559 1008v8M559 1068v8M559 1110v29M562 1002v5M562 1008v8M562 1071v8M562 1101v20M562 1134v11M565 1002v5M565 1008v8M565 1071v14M565 1092v20M565 1137v11M568 1002v5M568 1008v8M568 1074v35M568 1140v11M571 999v5M571 1008v8M571 1074v35M571 1143v8M574 999v5M574 1008v8M574 1074v32M574 1143v8M577 1008v8M577 1074v35M577 1143v8M580 996v5M580 1011v5M580 1071v11M580 1095v17M580 1140v8M583 996v5M583 1011v5M583 1068v11M583 1101v17M583 1137v8M586 993v5M586 1011v5M586 1068v5M586 1110v32M589 1014v5M589 1065v5M589 1122v8M592 990v5M592 1014v8M592 1062v5M595 1017v5M595 1059v5M598 987v5M598 1020v5M598 1056v5M601 1023v8M601 1050v5M604 1029v20M646 990v5M655 993v5M658 996v5M661 999v35M664 1035v11M667 1047v11M670 1068v29M673 1098v38M676 1131v11M679 1137v8M682 1140v8M685 1140v8M688 1137v8M691 1128v14M694 1095v38M697 1071v26M700 1053v17M703 1044v8M706 999v8M706 1032v11M709 996v5M709 1008v23M715 990v5M748 981v5M748 1002v5M757 999v5M766 1011v5M772 1032v5M778 1026v5M781 1044v5M790 1041v5M790 1056v5M790 1302v8M793 1302v8M796 1059v5M796 1299v14M799 1299v14M802 1299v14M805 1062v5M805 1302v8M892 1302v5M895 1293v5M898 1284v5M967 1278v5M967 1296v5M973 1269v5M976 1305v5M997 1302v5M1000 1299v5M1009 1284v5M1015 1275v5"/>
<path stroke="#d4dd80" d="M208 1248v5M229 1224v5M253 1185v5M289 1170v5M325 1161v5M343 1146v5M364 1125v5M367 1122v5M376 1098v5M388 1089v5M430 1053v5M448 1122v23M451 1059v5M451 1116v35M454 1059v5M454 1116v32M457 1122v23M469 1053v5M508 1014v5M511 1011v5M538 1002v5M538 1035v14M541 1002v5M541 1032v5M541 1047v8M544 1002v5M544 1026v5M544 1053v5M547 1002v5M547 1023v5M547 1056v5M550 1002v5M550 1020v5M550 1059v5M553 1002v5M553 1017v5M553 1059v8M556 1017v5M556 1062v5M559 1014v5M559 1065v5M562 999v5M562 1014v5M562 1065v8M562 1119v17M565 999v5M565 1014v5M565 1068v5M565 1110v29M568 999v5M568 1014v5M568 1068v8M568 1107v17M568 1131v11M571 1014v5M571 1068v8M571 1107v11M571 1134v11M574 996v5M574 1014v5M574 1068v8M574 1104v14M574 1134v11M577 996v5M577 1014v5M577 1068v8M577 1107v14M577 1134v11M580 1014v5M580 1068v5M580 1110v32M583 1014v5M583 1065v5M583 1116v23M586 1014v5M586 1065v5M589 1017v5M589 1062v5M592 1020v5M592 1059v5M595 987v5M595 1020v5M595 1056v5M598 1023v8M598 1053v5M601 1029v8M601 1044v8M637 987v5M649 990v5M658 993v5M661 996v5M664 999v14M664 1026v11M667 1038v11M670 1047v23M673 1083v17M676 1095v38M679 1107v32M682 1128v14M685 1128v14M688 1104v35M691 1095v35M694 1077v20M697 1050v23M700 1044v11M703 1002v5M703 1035v11M706 996v5M706 1005v29M718 987v5M724 984v5M739 984v5M742 993v5M745 981v8M748 978v5M754 996v5M763 1020v5M775 1023v5M787 1038v5M808 1062v5M811 1056v5M892 1305v5M895 1296v5M898 1287v5M901 1278v5M964 1287v5M970 1272v5M994 1305v5M1003 1296v5M1006 1290v5M1012 1281v5"/>
<path stroke="#e2d176" d="M109 1308v5M124 1287v5M130 1293v5M211 1248v5M250 1221v5M256 1212v5M286 1170v5M295 1155v5M313 1164v5M328 1158v5M346 1143v5M349 1140v5M352 1110v5M352 1137v5M355 1134v5M358 1131v5M361 1128v5M448 1059v5M472 1050v5M475 1047v5M478 1044v5M502 1020v5M505 1017v5M514 1008v5M520 1005v5M532 1002v5M535 1002v5M541 1035v14M544 1029v8M544 1047v8M547 1026v5M547 1053v5M550 1023v5M550 1056v5M553 1020v5M553 1056v5M556 999v5M556 1020v5M556 1059v5M559 999v5M559 1017v5M559 1062v5M562 1017v5M562 1062v5M565 1017v5M565 1062v8M568 1017v5M568 1065v5M568 1122v11M571 996v5M571 1017v5M571 1065v5M571 1116v20M574 1017v5M574 1065v5M574 1116v20M577 1017v5M577 1065v5M577 1119v17M580 1017v5M580 1062v8M583 993v5M583 1017v5M583 1062v5M586 1017v5M586 1062v5M589 990v5M589 1020v5M589 1059v5M592 1056v5M595 1023v5M595 1053v5M598 1029v5M598 1047v8M601 984v5M601 1035v11M604 984v5M607 984v5M610 984v5M640 987v5M652 990v5M664 996v5M664 1011v17M667 999v11M667 1032v8M670 1041v8M673 1050v35M676 1083v14M679 1092v17M682 1095v35M685 1095v35M688 1092v14M691 1080v17M694 1050v29M697 1044v8M700 1035v11M703 999v5M703 1005v32M709 993v5M712 990v5M751 993v5M751 1005v5M763 1008v5M775 1035v5M784 1047v5M805 1053v5M811 1059v5M892 1308v5M895 1299v5M898 1290v5M901 1281v5M964 1281v8M964 1290v8M967 1275v5M967 1299v5M970 1302v5M973 1305v5M982 1308v5M985 1308v5M988 1308v5M1009 1287v5M1015 1278v5M1018 1272v5"/>
<path stroke="#eec66d" d="M211 1245v5M214 1245v5M247 1224v5M289 1167v5M292 1161v5M292 1167v5M304 1146v5M307 1146v5M310 1146v5M313 1146v5M316 1146v5M331 1155v5M373 1077v5M373 1107v5M376 1077v5M376 1095v5M379 1077v5M382 1077v5M385 1077v5M388 1077v5M445 1059v5M463 1056v5M481 1041v5M484 1038v5M496 1026v5M499 1023v5M529 1002v5M544 1035v14M547 1029v8M547 1047v8M550 999v5M550 1026v5M550 1050v8M553 999v5M553 1023v5M553 1053v5M556 1023v5M556 1056v5M559 1020v5M559 1059v5M562 1020v5M562 1059v5M565 996v5M565 1020v5M565 1059v5M568 996v5M568 1062v5M571 1062v5M574 1062v5M577 993v5M577 1062v5M580 993v5M580 1020v5M583 1020v5M583 1059v5M586 990v5M586 1020v5M586 1059v5M589 1023v5M589 1056v5M592 987v5M592 1023v5M592 1053v5M595 1026v5M595 1050v5M598 984v5M598 1032v8M598 1041v8M613 984v5M616 984v5M619 984v5M622 984v5M643 987v5M655 990v5M661 993v5M667 996v5M667 1008v26M670 1002v8M670 1032v11M673 1041v11M676 1047v38M679 1056v17M679 1077v17M682 1086v11M685 1083v14M688 1053v41M691 1047v35M694 1041v11M697 1035v11M700 999v17M700 1023v14M703 996v5M742 981v5M766 1023v5M772 1020v5M784 1035v5M796 1050v5M895 1302v5M898 1293v5M901 1284v5M970 1269v5M979 1308v5M991 1308v5M997 1305v5M1000 1302v5M1003 1299v5M1006 1293v5M1012 1284v5"/>
<path stroke="#fcb763" d="M142 1287v5M217 1242v5M232 1206v17M235 1227v5M244 1227v5M253 1215v5M268 1188v5M298 1152v5M301 1164v5M304 1164v5M307 1164v5M310 1164v5M322 1161v5M370 1116v5M385 1089v5M391 1080v5M391 1086v5M430 1050v5M433 1059v5M442 1059v5M466 1053v5M487 1035v5M490 1032v5M493 1029v5M526 1002v5M544 999v5M547 999v5M547 1035v14M550 1029v8M550 1047v5M553 1026v5M553 1050v5M556 1026v5M556 1053v5M559 1023v5M559 1056v5M562 996v5M562 1023v5M562 1056v5M568 1020v5M568 1059v5M571 1020v5M571 1059v5M574 993v5M574 1020v5M574 1059v5M577 1020v5M577 1059v5M580 1059v5M583 1023v5M583 1056v5M586 1023v5M586 1056v5M589 1053v5M592 1026v5M592 1050v5M595 1029v8M595 1047v5M598 1038v5M625 984v5M628 984v5M631 984v5M646 987v5M664 993v5M670 999v5M670 1008v26M673 999v11M673 1035v8M676 1041v8M679 1044v14M679 1071v8M682 1047v41M685 1047v38M688 1044v11M691 1041v8M694 1002v5M694 1035v8M697 999v17M697 1023v14M700 996v5M700 1014v11M706 993v5M715 987v5M721 984v5M736 981v5M739 981v5M739 987v5M745 978v5M748 990v5M754 1008v5M787 1050v5M799 1059v5M895 1305v5M898 1296v5M901 1287v5M964 1278v5M964 1296v5M967 1272v5M967 1302v5M970 1305v5M976 1308v5M994 1308v5M1006 1296v5M1009 1290v5M1015 1281v5M1018 1275v5"/>
<path stroke="#ffa95b" d="M115 1308v5M214 1242v5M217 1239v5M220 1239v5M334 1152v5M391 1083v5M433 1056v5M439 1059v5M460 1056v5M469 1050v5M517 1005v5M523 1002v5M538 999v5M541 999v5M550 1035v14M553 1029v8M553 1047v5M556 1029v5M556 1050v5M559 996v5M559 1026v5M559 1053v5M562 1053v5M565 1023v5M565 1056v5M568 1023v5M568 1056v5M571 993v5M571 1023v5M571 1056v5M574 1023v5M574 1056v5M577 1023v5M577 1056v5M580 1023v5M580 1056v5M583 990v5M586 1026v5M586 1053v5M589 987v5M589 1026v5M589 1050v5M592 1029v5M592 1047v5M595 984v5M595 1035v14M634 984v5M649 987v5M658 990v5M670 996v5M673 1008v29M676 999v14M676 1032v11M679 1002v8M679 1038v8M682 1038v11M685 1038v11M688 1002v5M688 1038v8M691 999v14M691 1032v11M694 999v5M694 1005v32M697 996v5M697 1014v11M703 993v5M709 990v5M730 981v5M733 981v5M742 984v5M745 996v5M760 1005v5M778 1038v5M781 1032v5M793 1047v5M802 1053v5M895 1308v5M898 1299v5M901 1290v5M904 1281v5M961 1284v11M964 1275v5M964 1299v5M973 1308v5M1000 1305v5M1003 1302v5M1012 1287v5M1018 1278v5"/>
<path stroke="#ff9850" d="M118 1305v5M121 1302v5M124 1299v5M127 1296v5M139 1287v5M220 1236v5M223 1233v8M226 1230v8M229 1230v5M259 1206v5M262 1203v5M292 1164v5M301 1149v5M319 1161v5M337 1149v5M361 1089v5M373 1104v5M376 1092v5M382 1089v5M433 1053v5M436 1059v5M454 1056v5M457 1056v5M472 1047v5M535 999v5M553 996v5M553 1035v14M556 996v5M556 1032v5M556 1047v5M559 1029v5M559 1050v5M562 1026v5M565 1026v5M565 1053v5M568 993v5M568 1026v5M568 1053v5M571 1053v5M577 1026v5M577 1053v5M580 990v5M580 1026v5M580 1053v5M583 1026v5M583 1053v5M586 987v5M586 1029v5M586 1050v5M589 1029v5M589 1047v5M592 1032v17M601 981v5M637 984v5M652 987v5M661 990v5M667 993v5M673 996v5M676 996v5M676 1011v23M679 999v5M679 1008v8M679 1029v11M682 999v14M682 1032v8M685 999v14M685 1032v8M688 999v5M688 1005v11M688 1029v11M691 1011v23M694 996v5M727 981v5M769 1017v5M769 1026v5M898 1302v5M901 1293v5M904 1284v5M961 1281v5M961 1293v5M967 1269v5M997 1308v5M1006 1299v5M1009 1293v5M1015 1284v5"/>
<path stroke="#ff8646" d="M109 1302v5M112 1308v5M136 1287v5M142 1290v5M229 1227v5M238 1227v5M250 1218v5M256 1209v5M265 1200v5M268 1197v5M298 1164v5M340 1146v5M355 1098v5M367 1119v5M370 1113v5M475 1044v5M478 1041v5M505 1014v5M508 1011v5M511 1008v5M520 1002v5M532 999v5M550 996v5M556 1035v14M559 1032v5M559 1047v5M562 1029v5M562 1050v5M565 993v5M565 1029v5M565 1050v5M568 1050v5M571 1026v5M574 1026v5M574 1053v5M577 990v5M580 1050v5M583 1029v5M583 1050v5M586 1032v5M586 1047v5M589 1032v8M589 1041v8M592 984v5M598 981v5M604 981v5M607 981v5M610 981v5M640 984v5M664 990v5M670 993v5M679 996v5M679 1014v17M682 1011v23M685 1011v23M688 996v5M688 1014v17M691 996v5M700 993v5M712 987v5M718 984v5M745 975v5M745 987v5M757 1002v5M757 1011v5M790 1053v5M898 1305v5M901 1296v5M904 1287v5M907 1281v5M961 1278v5M961 1296v5M964 1272v5M964 1302v5M967 1305v5M970 1308v5M1009 1296v5M1012 1290v5M1018 1281v5M1021 1275v5"/>
<path stroke="#ff763d" d="M109 1305v5M121 1290v5M127 1287v5M133 1287v8M136 1290v5M139 1290v5M232 1221v5M232 1227v5M262 1188v5M265 1188v5M268 1191v8M325 1158v5M355 1101v11M358 1128v5M361 1125v5M364 1086v5M364 1122v5M373 1101v5M379 1089v5M436 1053v8M463 1053v5M481 1038v5M484 1035v5M493 1026v5M496 1023v5M499 1020v5M502 1017v5M514 1005v5M529 999v5M544 996v5M547 996v5M559 1035v14M562 993v5M562 1032v8M562 1044v8M565 1032v5M565 1047v5M568 1029v5M571 1029v5M571 1050v5M574 990v5M574 1029v5M574 1050v5M577 1029v5M577 1050v5M580 1029v5M580 1047v5M583 987v5M583 1032v5M583 1047v5M586 1035v14M589 1038v5M613 981v5M616 981v5M619 981v5M643 984v5M655 987v5M673 993v5M682 996v5M685 996v5M697 993v5M706 990v5M724 981v5M778 1029v5M781 1041v5M790 1044v5M898 1308v5M901 1299v5M904 1290v5M907 1284v5M958 1287v5M961 1275v5M961 1299v5M1000 1308v5M1003 1305v5M1006 1302v5M1012 1293v5M1015 1287v5M1021 1278v5"/>
<path stroke="#ff6232" d="M112 1299v5M115 1296v5M118 1293v5M130 1287v8M241 1227v5M247 1221v5M250 1188v5M253 1188v5M256 1188v5M259 1188v5M316 1161v5M319 1146v5M322 1143v5M325 1140v5M328 1137v5M331 1134v5M334 1131v5M337 1128v5M340 1125v5M343 1122v5M343 1143v5M346 1119v5M346 1140v5M349 1116v5M349 1137v5M352 1113v5M352 1134v5M355 1110v5M355 1131v5M487 1032v5M490 1029v5M526 999v5M538 996v5M541 996v5M559 993v5M562 1038v8M565 1035v14M568 1032v8M568 1044v8M571 990v5M571 1032v5M571 1047v5M574 1032v5M574 1047v5M577 1032v5M577 1047v5M580 1032v8M580 1044v5M583 1035v14M589 984v5M595 981v5M622 981v5M625 981v5M646 984v5M658 987v5M667 990v5M676 993v5M691 993v5M694 993v5M703 990v5M709 987v5M715 984v5M748 999v5M760 1014v5M766 1014v5M793 1056v5M802 1059v5M901 1302v5M904 1293v5M907 1287v5M958 1281v8M958 1290v8M964 1269v5M964 1305v5M967 1308v5M1009 1299v5M1015 1290v5M1018 1284v5"/>
<path stroke="#ff5029" d="M244 1224v5M253 1212v5M295 1164v5M328 1155v5M358 1095v5M367 1083v5M370 1110v5M376 1089v5M433 1050v5M439 1056v5M451 1056v5M466 1050v5M517 1002v5M523 999v5M535 996v5M553 993v5M556 993v5M568 990v5M568 1038v8M571 1035v14M574 1035v14M577 1035v14M580 987v5M580 1038v8M586 984v5M628 981v5M631 981v5M649 984v5M661 987v5M670 990v5M679 993v5M682 993v5M685 993v5M688 993v5M700 990v5M721 981v5M754 999v5M772 1029v5M901 1305v5M904 1296v5M907 1290v5M910 1281v5M958 1278v5M958 1296v5M961 1272v5M961 1302v5M1003 1308v5M1006 1305v5M1012 1296v5M1018 1287v5M1021 1281v5"/>
<path stroke="#ff3b1e" d="M295 1158v5M313 1161v5M331 1152v5M373 1098v5M439 1053v5M469 1047v5M532 996v5M550 993v5M565 990v5M577 987v5M592 981v5M598 978v5M601 978v5M604 978v5M634 981v5M637 981v5M652 984v5M664 987v5M673 990v5M697 990v5M706 987v5M712 984v5M775 1026v5M787 1041v5M799 1053v5M808 1056v5M901 1308v5M904 1299v5M907 1293v5M910 1284v5M955 1284v11M958 1275v5M958 1299v5M961 1269v5M961 1305v5M964 1308v5M1009 1302v5M1015 1293v5M1021 1284v5M1024 1278v5"/>
<path stroke="#ff2914" d="M232 1224v5M235 1203v14M238 1200v5M241 1197v5M244 1194v5M247 1191v5M250 1215v5M256 1206v5M259 1203v5M334 1149v5M361 1092v5M370 1080v5M373 1080v5M376 1080v5M379 1080v5M382 1080v5M385 1080v5M388 1080v5M388 1086v5M442 1056v5M448 1056v5M457 1053v5M460 1053v5M472 1044v5M475 1041v5M478 1038v5M505 1011v5M508 1008v5M511 1005v5M520 999v5M529 996v5M544 993v5M547 993v5M562 990v5M574 987v5M583 984v5M589 981v5M607 978v5M610 978v5M613 978v5M640 981v5M655 984v5M667 987v5M676 990v5M679 990v5M688 990v5M691 990v5M694 990v5M703 987v5M718 981v5M742 978v5M742 990v5M751 1002v5M763 1011v5M763 1017v5M784 1044v5M904 1302v8M907 1296v5M910 1287v5M955 1281v5M955 1293v8M958 1272v5M958 1302v5M1006 1308v5M1009 1305v5M1012 1299v5M1015 1296v5M1018 1290v5M1024 1281v5"/>
<path stroke="#ff1309" d="M235 1215v5M247 1218v5M253 1209v5M262 1200v5M265 1197v5M304 1149v5M307 1149v5M307 1161v5M310 1149v5M310 1161v5M313 1149v5M316 1149v5M322 1158v5M337 1146v5M364 1089v5M367 1116v5M370 1107v5M373 1095v5M385 1086v5M436 1050v5M445 1056v5M454 1053v5M463 1050v5M481 1035v5M484 1032v5M487 1029v5M490 1026v5M493 1023v5M496 1020v5M499 1017v5M502 1014v5M514 1002v5M517 999v5M526 996v5M538 993v5M541 993v5M556 990v5M559 990v5M568 987v5M571 987v5M580 984v5M586 981v5M595 978v5M616 978v5M619 978v5M622 978v5M625 978v5M643 981v5M646 981v5M658 984v5M661 984v5M670 987v5M682 990v5M685 990v5M700 987v5M709 984v5M715 981v5M724 978v5M742 972v5M751 996v5M775 1032v5M904 1308v5M907 1299v5M910 1290v5M913 1281v5M955 1275v8M955 1299v5M958 1269v5M958 1305v5M961 1308v5M1012 1302v5M1018 1293v5M1021 1287v5M1024 1284v5"/>
<path stroke="#ff0000" d="M112 1302v8M115 1299v11M118 1296v11M121 1293v11M124 1290v11M127 1290v8M235 1218v11M238 1203v26M241 1200v29M244 1197v29M247 1194v26M250 1191v26M253 1191v20M256 1191v17M259 1191v14M262 1191v11M265 1191v8M295 1161v5M298 1155v11M301 1152v14M304 1152v14M307 1152v11M310 1152v11M313 1152v11M316 1152v11M319 1149v14M322 1146v14M325 1143v17M328 1140v17M331 1137v17M334 1134v17M337 1131v17M340 1128v20M343 1125v20M346 1122v20M349 1119v20M352 1116v20M355 1113v20M358 1098v32M361 1095v32M364 1092v32M367 1086v32M370 1083v26M373 1083v14M376 1083v8M379 1083v8M382 1083v8M385 1083v5M388 1083v5M439 1050v5M442 1047v11M445 1044v14M448 1041v17M451 1038v20M454 1035v20M457 1032v23M460 1029v26M463 1026v26M466 1023v29M469 1020v29M472 1017v29M475 1014v29M478 1011v29M481 1008v29M484 1005v29M487 978v53M490 975v53M493 972v53M496 969v53M499 969v50M502 969v47M505 969v44M508 969v41M511 969v38M514 969v35M517 969v32M520 969v32M523 969v32M526 966v32M529 963v35M532 960v38M535 957v41M538 957v38M541 957v38M544 957v38M547 960v35M550 963v32M553 966v29M556 969v23M559 969v23M562 969v23M565 969v23M568 969v20M571 969v20M574 969v20M577 966v23M580 963v23M583 960v26M586 957v26M589 954v29M592 957v26M595 960v20M598 963v17M601 966v14M604 969v11M607 966v14M610 963v17M613 960v20M616 957v23M619 954v26M622 954v26M625 954v26M628 954v29M631 954v29M634 954v29M637 954v29M640 954v29M643 954v29M646 954v29M649 954v32M652 954v32M655 954v32M658 954v32M661 954v32M664 954v35M667 954v35M670 954v35M673 957v35M676 960v32M679 963v29M682 966v26M685 969v23M688 969v23M691 969v23M694 969v23M697 969v23M700 969v20M703 969v20M706 969v20M709 969v17M712 969v17M715 969v14M718 969v14M721 969v14M724 969v11M727 969v14M730 969v14M733 969v14M736 969v14M739 969v14M742 975v5M742 987v5M745 990v8M748 993v8M751 999v5M754 1002v8M757 1005v8M760 1008v8M763 1014v5M766 1017v8M769 1020v8M772 1023v8M775 1029v5M778 1032v8M781 1035v8M784 1038v8M787 1044v8M790 1047v8M793 1050v8M796 1053v8M799 1056v5M802 1056v5M805 1056v8M808 1059v5M907 1302v11M910 1293v20M913 1284v29M916 1281v32M919 1281v32M922 1281v32M925 1281v32M928 1281v32M931 1281v32M934 1278v35M937 1275v38M940 1272v41M943 1269v44M946 1269v44M949 1269v44M952 1269v44M955 1269v8M955 1302v11M958 1308v5M1009 1308v5M1012 1305v8M1015 1299v14M1018 1296v17M1021 1290v23M1024 1287v26M1027 1281v32M1030 1284v29M1033 1287v26M1036 1290v23M1039 1293v20M1042 1296v17M1045 1299v14M1048 1302v11M1051 1305v8"/>
</g>
<radialGradient id="dotg"><stop offset="0" stop-color="#7d28ff"/><stop offset="0.22" stop-color="#6a3cff" stop-opacity="0.95"/><stop offset="0.55" stop-color="#3c6cff" stop-opacity="0.6"/><stop offset="1" stop-color="#20a0ff" stop-opacity="0"/></radialGradient>
<path id="dt" d="M-9 0l9-12l9 12l-9 12z" fill="url(#dotg)"/>
<use href="#dt" x="277.0" y="1250.8"/>
<use href="#dt" x="277.0" y="1290.5"/>
<use href="#dt" x="386.1" y="1169.3"/>
<use href="#dt" x="386.1" y="1210.1"/>
<use href="#dt" x="386.1" y="1250.8"/>
<use href="#dt" x="386.1" y="1290.5"/>
<use href="#dt" x="508.6" y="1073.8"/>
<use href="#dt" x="508.6" y="1113.4"/>
<use href="#dt" x="508.6" y="1169.3"/>
<use href="#dt" x="508.6" y="1210.1"/>
<use href="#dt" x="508.6" y="1250.8"/>
<use href="#dt" x="508.6" y="1290.5"/>
<use href="#dt" x="631.3" y="1033.0"/>
<use href="#dt" x="631.3" y="1073.8"/>
<use href="#dt" x="631.3" y="1113.4"/>
<use href="#dt" x="631.3" y="1169.3"/>
<use href="#dt" x="631.3" y="1210.1"/>
<use href="#dt" x="631.3" y="1250.8"/>
<use href="#dt" x="631.3" y="1290.5"/>
<use href="#dt" x="740.3" y="1033.0"/>
<use href="#dt" x="740.3" y="1073.8"/>
<use href="#dt" x="740.3" y="1113.4"/>
<use href="#dt" x="740.3" y="1169.3"/>
<use href="#dt" x="740.3" y="1210.1"/>
<use href="#dt" x="740.3" y="1250.8"/>
<use href="#dt" x="740.3" y="1290.5"/>
<use href="#dt" x="168.9" y="1290.5"/>
<use href="#dt" x="195.7" y="1264.8"/>
<use href="#dt" x="291.2" y="1196.0"/>
<use href="#dt" x="400.6" y="1113.4"/>
<use href="#dt" x="862.6" y="1290.2"/>
<use href="#dt" x="835.7" y="1182.4"/>
<use href="#dt" x="835.7" y="1249.8"/>
<radialGradient id="dotb"><stop offset="0" stop-color="#3a5cff"/><stop offset="0.45" stop-color="#2a7cff" stop-opacity="0.7"/><stop offset="1" stop-color="#20a0ff" stop-opacity="0"/></radialGradient>
<path id="db" d="M-9 0l9-12l9 12l-9 12z" fill="url(#dotb)"/>
<use href="#db" x="631.3" y="993.4"/>
<use href="#db" x="726.1" y="993.4"/>
<use href="#db" x="414.5" y="1075.0"/>
<use href="#db" x="817.5" y="1100.0"/>
<use href="#db" x="522.5" y="1020.2"/>
<use href="#db" x="984.9" y="1289.8"/>
</g>
</g>
<g id="mapover">
<path d="M229.5 930.6V1308.5M366.5 930.6V1308.5M502.5 930.6V1308.5M638.5 930.6V1308.5M774.5 930.6V1308.5M910.5 930.6V1308.5M1046.5 930.6V1308.5M110.2 1257.5H1074.4M110.2 1202.5H1074.4M110.2 1148.5H1074.4M110.2 1094.5H1074.4M110.2 1040.5H1074.4M110.2 985.5H1074.4" stroke="#000" stroke-opacity="0.5" stroke-width="0.8" stroke-dasharray="2.8 1.4" fill="none"/>
<path d="M108.2 1270.7L109.3 1270.7L118.6 1266.0L130.3 1262.5L136.1 1264.8L138.4 1272.3L141.5 1269.5L142.6 1256.7L144.7 1269.5L148.9 1267.6L154.8 1255.5L160.6 1245.0L167.6 1238.0L176.9 1236.9L188.5 1238.0L202.5 1232.2L211.8 1227.5L217.7 1222.9L221.2 1215.9L220.0 1206.6L218.4 1202.4L222.3 1196.1L230.5 1190.3L239.8 1185.6L249.1 1182.1L258.4 1175.1L267.8 1169.3L272.4 1164.6L279.4 1155.3L286.4 1147.2L295.7 1140.2L305.0 1135.5L314.4 1128.5L323.7 1120.4L333.0 1111.1L342.3 1102.9L350.5 1093.6L352.8 1086.6L358.6 1080.8L365.6 1073.8L372.6 1066.8L374.9 1059.8L379.6 1052.8L388.9 1045.8L397.1 1047.0L395.9 1055.1L405.2 1052.8L414.5 1049.3L426.2 1045.8L435.5 1042.3L442.5 1038.8L444.8 1031.8L449.5 1027.2L456.5 1020.2L461.1 1013.2L468.1 1007.4L474.0 1000.4L469.3 996.9L472.8 989.9L469.3 982.9L467.0 975.9L470.5 966.6L477.4 959.6L491.4 953.8L507.7 949.1L519.4 944.5L528.7 937.5L532.2 930.5M740.1 930.5L738.9 943.3L747.1 951.5L744.0 960.8L750.6 970.1L757.5 982.9L763.4 992.2L766.8 1000.0L782.6 1001.9L790.1 1014.9L792.9 1026.1L799.4 1020.5L805.9 1010.3L804.1 1028.0L797.0 1035.4L804.1 1046.6L811.5 1048.8L814.3 1040.1L820.8 1034.5L828.3 1043.2L826.0 1051.3L832.9 1053.1L839.5 1044.7L845.4 1055.9L843.2 1059.3L852.1 1061.5L857.2 1071.8L860.3 1074.9L856.6 1089.5L861.8 1096.9L869.3 1108.1L871.5 1121.2L878.6 1130.5L883.3 1147.3L887.0 1164.0L888.9 1172.4L887.6 1186.4L883.3 1193.8L880.5 1205.0L876.7 1214.4L874.0 1227.4L870.2 1233.0L868.4 1247.9L867.8 1258.2L871.2 1259.5L877.7 1256.8L878.6 1265.6L887.0 1242.3L891.7 1240.4L894.5 1229.3L893.5 1242.3L887.9 1261.0L894.5 1257.2L899.1 1250.7L897.3 1262.8L904.7 1269.3L908.4 1246.0L906.2 1261.0L912.2 1268.4L915.0 1253.5L920.5 1250.7L917.8 1266.5L925.2 1268.4L929.3 1251.6L928.6 1264.7L931.7 1273.1L943.8 1264.7L950.4 1247.9L964.4 1240.4L973.7 1238.6L983.0 1231.1L976.5 1214.4L981.1 1213.4L983.9 1223.7L990.4 1231.1L999.8 1228.3L1009.1 1216.2L1014.7 1201.3L1012.8 1184.5L1011.0 1178.9L1024.0 1190.1L1029.6 1197.6L1032.4 1195.7L1030.5 1205.0L1035.2 1219.9L1040.8 1230.2L1048.2 1228.3L1058.5 1226.5L1053.8 1231.1L1052.9 1242.3L1049.2 1246.0L1051.0 1255.4L1057.5 1268.4L1060.3 1290.8L1065.0 1302.0L1065.0 1309.8M529.6 930.6L532.0 940.4L532.4 950.2L535.9 952.3L538.7 953.0L539.8 946.0L541.5 941.8L543.6 948.8L545.7 954.4L548.2 951.6L549.9 949.5L552.7 944.6L555.5 941.8L556.6 950.2L558.3 956.5L561.4 955.1L563.9 953.0L567.0 946.0L569.5 939.0L570.6 947.4L572.3 954.4L575.1 956.0L577.9 956.5L579.5 948.8L580.7 943.2L584.2 948.1L587.6 951.6L590.2 944.6L591.8 939.0L593.9 945.3L596.0 950.2L598.8 948.5L601.6 946.0L604.1 939.0L605.8 933.4L610.0 940.4L614.2 946.0L617.3 941.1L619.8 937.6L623.3 938.7L626.8 939.0L629.9 935.1L632.4 930.6M639.4 930.6L640.8 938.3L647.8 941.1L656.1 936.2L665.9 938.3L671.5 930.6M740.3 933.4L738.4 941.8L740.3 955.8L745.6 958.6L748.7 948.8L746.3 939.0L743.5 933.7M829.2 1072.7L837.6 1069.9L843.2 1078.3L850.7 1082.0L853.4 1093.2L849.7 1100.7L841.3 1093.2L833.9 1083.9L829.2 1078.3ZM839.5 1064.3L848.8 1064.3L854.4 1070.8L850.7 1078.3L843.2 1074.6L837.6 1069.0ZM830.1 1101.6L839.5 1098.8L842.8 1104.4L841.3 1110.9L834.8 1110.0L830.1 1104.4ZM1045.4 1231.1L1052.0 1230.2L1050.5 1244.2L1046.4 1240.4Z" stroke="#000" stroke-width="1.6" fill="none" stroke-linejoin="round"/>
</g>
</defs>
<g transform="translate(0 0)">
<g clip-path="url(#mapax)">
<use href="#mapbase"/>
<use href="#mapover"/>
<path d="M237.5 1200.4L239.7 1207.3L247.0 1207.3L241.1 1211.6L243.4 1218.5L237.5 1214.2L231.6 1218.5L233.9 1211.6L228.0 1207.3L235.3 1207.3ZM359.3 1091.2L361.5 1098.1L368.8 1098.1L362.9 1102.4L365.2 1109.3L359.3 1105.0L353.4 1109.3L355.7 1102.4L349.8 1098.1L357.1 1098.1ZM468.1 1023.0L470.3 1029.9L477.6 1029.9L471.7 1034.2L474.0 1041.1L468.1 1036.8L462.2 1041.1L464.5 1034.2L458.6 1029.9L465.9 1029.9ZM495.4 968.2L497.6 975.1L504.9 975.1L499.0 979.4L501.3 986.3L495.4 982.0L489.5 986.3L491.8 979.4L485.9 975.1L493.2 975.1ZM536.2 954.4L538.4 961.3L545.7 961.3L539.8 965.6L542.1 972.5L536.2 968.2L530.3 972.5L532.6 965.6L526.7 961.3L534.0 961.3ZM576.8 1023.1L579.0 1030.0L586.3 1030.0L580.4 1034.3L582.7 1041.2L576.8 1036.9L570.9 1041.2L573.2 1034.3L567.3 1030.0L574.6 1030.0ZM672.4 954.5L674.6 961.4L681.9 961.4L676.0 965.7L678.3 972.6L672.4 968.3L666.5 972.6L668.8 965.7L662.9 961.4L670.2 961.4ZM780.4 1023.8L782.6 1030.7L789.9 1030.7L784.0 1035.0L786.3 1041.9L780.4 1037.6L774.5 1041.9L776.8 1035.0L770.9 1030.7L778.2 1030.7ZM930.6 1293.8L932.8 1300.7L940.1 1300.7L934.2 1305.0L936.5 1311.9L930.6 1307.6L924.7 1311.9L927.0 1305.0L921.1 1300.7L928.4 1300.7ZM1039.8 1293.8L1042.0 1300.7L1049.3 1300.7L1043.4 1305.0L1045.7 1311.9L1039.8 1307.6L1033.9 1311.9L1036.2 1305.0L1030.3 1300.7L1037.6 1300.7Z" fill="#000" stroke="#000" stroke-width="2.6" stroke-linejoin="round"/>
</g>
<rect x="110.2" y="930.6" width="964.2" height="377.9" fill="none" stroke="#000" stroke-width="2.2"/>
<text x="230" y="1342" font-size="26.5" text-anchor="middle">82.5°E</text>
<text x="366.1" y="1342" font-size="26.5" text-anchor="middle">85°E</text>
<text x="502.2" y="1342" font-size="26.5" text-anchor="middle">87.5°E</text>
<text x="638.3" y="1342" font-size="26.5" text-anchor="middle">90°E</text>
<text x="774.4" y="1342" font-size="26.5" text-anchor="middle">92.5°E</text>
<text x="910.5" y="1342" font-size="26.5" text-anchor="middle">95°E</text>
<text x="1046.6" y="1342" font-size="26.5" text-anchor="middle">97.5°E</text>
<text x="97.2" y="1264.5" font-size="26.5" text-anchor="end">16°N</text>
<text x="97.2" y="1210.3" font-size="26.5" text-anchor="end">17°N</text>
<text x="97.2" y="1156" font-size="26.5" text-anchor="end">18°N</text>
<text x="97.2" y="1101.8" font-size="26.5" text-anchor="end">19°N</text>
<text x="97.2" y="1047.5" font-size="26.5" text-anchor="end">20°N</text>
<text x="97.2" y="993.2" font-size="26.5" text-anchor="end">21°N</text>
<text x="130.6" y="976.3" font-size="40" font-weight="bold">(E)</text>
</g>
<g transform="translate(1108.8 0)">
<g clip-path="url(#mapax)">
<use href="#mapbase"/>
<g clip-path="url(#seaclip)"><path d="M578 951L790 951M578 979.4L700.3 979.4M455.2 1005.7L790 1005.7M455.2 1047L700.3 1047M455.2 1005.7L455.2 1047M578 951L578 1047M631.6 951L631.6 979.4M700.3 951L700.3 1047M345.8 1087.6L455.2 1087.6M236.4 1128.2L455.2 1128.2M236.4 1182.4L345.8 1182.4M345.8 1087.6L345.8 1182.4M455.2 1087.6L455.2 1128.2M236.4 1128.2L236.4 1182.4M809.4 1264.9L1053.7 1264.9M809.4 1305.1L1053.7 1305.1M809.4 1264.9L809.4 1305.1M931.3 1264.9L931.3 1305.1M1053.7 1264.9L1053.7 1305.1" stroke="#000" stroke-width="2.2" fill="none" stroke-linecap="square"/></g>
<use href="#mapover"/>
<path d="M495.8 969.0L498.0 975.9L505.3 975.9L499.4 980.2L501.7 987.1L495.8 982.8L489.9 987.1L492.2 980.2L486.3 975.9L493.6 975.9ZM591.1 954.5L593.3 961.4L600.6 961.4L594.7 965.7L597.0 972.6L591.1 968.3L585.2 972.6L587.5 965.7L581.6 961.4L588.9 961.4ZM672.4 954.5L674.6 961.4L681.9 961.4L676.0 965.7L678.3 972.6L672.4 968.3L666.5 972.6L668.8 965.7L662.9 961.4L670.2 961.4ZM699.4 969.4L701.6 976.3L708.9 976.3L703.0 980.6L705.3 987.5L699.4 983.2L693.5 987.5L695.8 980.6L689.9 976.3L697.2 976.3ZM482.3 1010.5L484.5 1017.4L491.8 1017.4L485.9 1021.7L488.2 1028.6L482.3 1024.3L476.4 1028.6L478.7 1021.7L472.8 1017.4L480.1 1017.4ZM577.4 1023.3L579.6 1030.2L586.9 1030.2L581.0 1034.5L583.3 1041.4L577.4 1037.1L571.5 1041.4L573.8 1034.5L567.9 1030.2L575.2 1030.2ZM359.3 1091.2L361.5 1098.1L368.8 1098.1L362.9 1102.4L365.2 1109.3L359.3 1105.0L353.4 1109.3L355.7 1102.4L349.8 1098.1L357.1 1098.1ZM332.3 1132.4L334.5 1139.3L341.8 1139.3L335.9 1143.6L338.2 1150.5L332.3 1146.2L326.4 1150.5L328.7 1143.6L322.8 1139.3L330.1 1139.3ZM916.9 1293.8L919.1 1300.7L926.4 1300.7L920.5 1305.0L922.8 1311.9L916.9 1307.6L911.0 1311.9L913.3 1305.0L907.4 1300.7L914.7 1300.7ZM1040.4 1293.8L1042.6 1300.7L1049.9 1300.7L1044.0 1305.0L1046.3 1311.9L1040.4 1307.6L1034.5 1311.9L1036.8 1305.0L1030.9 1300.7L1038.2 1300.7Z" fill="#000" stroke="#000" stroke-width="2.6" stroke-linejoin="round"/>
</g>
<rect x="110.2" y="930.6" width="964.2" height="377.9" fill="none" stroke="#000" stroke-width="2.2"/>
<text x="230" y="1342" font-size="26.5" text-anchor="middle">82.5°E</text>
<text x="366.1" y="1342" font-size="26.5" text-anchor="middle">85°E</text>
<text x="502.2" y="1342" font-size="26.5" text-anchor="middle">87.5°E</text>
<text x="638.3" y="1342" font-size="26.5" text-anchor="middle">90°E</text>
<text x="774.4" y="1342" font-size="26.5" text-anchor="middle">92.5°E</text>
<text x="910.5" y="1342" font-size="26.5" text-anchor="middle">95°E</text>
<text x="1046.6" y="1342" font-size="26.5" text-anchor="middle">97.5°E</text>
<text x="97.2" y="1264.5" font-size="26.5" text-anchor="end">16°N</text>
<text x="97.2" y="1210.3" font-size="26.5" text-anchor="end">17°N</text>
<text x="97.2" y="1156" font-size="26.5" text-anchor="end">18°N</text>
<text x="97.2" y="1101.8" font-size="26.5" text-anchor="end">19°N</text>
<text x="97.2" y="1047.5" font-size="26.5" text-anchor="end">20°N</text>
<text x="97.2" y="993.2" font-size="26.5" text-anchor="end">21°N</text>
<text x="130.6" y="976.3" font-size="40" font-weight="bold">(F)</text>
</g>
<linearGradient id="cbF" x1="0" y1="0" x2="0" y2="1"><stop offset="0.0000" stop-color="#ff0000"/><stop offset="0.0312" stop-color="#ff160b"/><stop offset="0.0625" stop-color="#ff2f18"/><stop offset="0.0938" stop-color="#ff4724"/><stop offset="0.1250" stop-color="#ff5f30"/><stop offset="0.1562" stop-color="#ff763d"/><stop offset="0.1875" stop-color="#ff8c49"/><stop offset="0.2188" stop-color="#ffa055"/><stop offset="0.2500" stop-color="#ffb360"/><stop offset="0.2812" stop-color="#f0c46c"/><stop offset="0.3125" stop-color="#e0d377"/><stop offset="0.3438" stop-color="#d0e082"/><stop offset="0.3750" stop-color="#c0eb8d"/><stop offset="0.4062" stop-color="#b0f397"/><stop offset="0.4375" stop-color="#a0faa1"/><stop offset="0.4688" stop-color="#90feab"/><stop offset="0.5000" stop-color="#80ffb4"/><stop offset="0.5312" stop-color="#70febc"/><stop offset="0.5625" stop-color="#60fac5"/><stop offset="0.5938" stop-color="#50f4cc"/><stop offset="0.6250" stop-color="#40ecd4"/><stop offset="0.6562" stop-color="#30e1da"/><stop offset="0.6875" stop-color="#20d5e1"/><stop offset="0.7188" stop-color="#10c6e6"/><stop offset="0.7500" stop-color="#00b5eb"/><stop offset="0.7812" stop-color="#10a2f0"/><stop offset="0.8125" stop-color="#208ef4"/><stop offset="0.8438" stop-color="#3079f7"/><stop offset="0.8750" stop-color="#4062fa"/><stop offset="0.9062" stop-color="#504afc"/><stop offset="0.9375" stop-color="#6032fe"/><stop offset="0.9688" stop-color="#7019ff"/><stop offset="1.0000" stop-color="#8000ff"/></linearGradient>
<rect x="2196.5" y="947.6" width="21.8" height="344.4" fill="url(#cbF)"/>
<path d="M2196.5 948.1L2207.4 929.6L2218.3 948.1Z" fill="#ff0000"/>
<path d="M2196.5 1291.5L2207.4 1310L2218.3 1291.5Z" fill="#8000ff"/>
<path d="M2196.5 947.6L2207.4 929.6L2218.3 947.6V1292L2207.4 1310L2196.5 1292Z" fill="none" stroke="#000" stroke-width="2.2" stroke-linejoin="miter"/>
<text x="2236.6" y="957.4" font-size="29">2</text>
<text x="2236.6" y="1043.5" font-size="29">1</text>
<text x="2236.6" y="1129.6" font-size="29">0</text>
<text x="2236.6" y="1215.7" font-size="29">-1</text>
<text x="2236.6" y="1301.8" font-size="29">-2</text>
<path d="M2218.3 947.6h9M2218.3 1033.7h9M2218.3 1119.8h9M2218.3 1205.9h9M2218.3 1292h9" stroke="#000" stroke-width="2.2" fill="none"/>
<text transform="translate(2295.6 1120.8) rotate(-90)" font-size="34.7" text-anchor="middle">Joint Error</text>
</svg></body></html>
